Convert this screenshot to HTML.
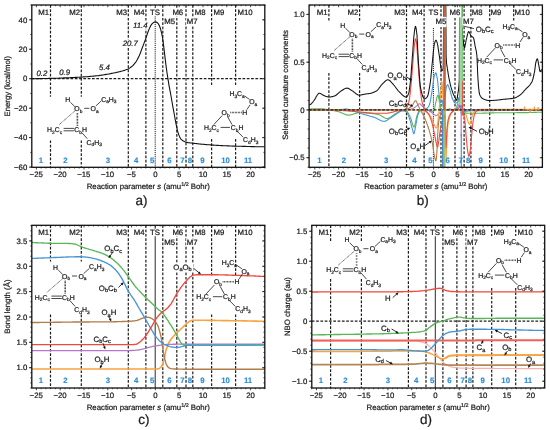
<!DOCTYPE html>
<html><head><meta charset="utf-8"><title>Figure</title><style>html,body{margin:0;padding:0;background:#fff}svg{display:block}</style></head><body>
<svg width="550" height="430" viewBox="0 0 550 430" font-family="'Liberation Sans', Arial, sans-serif">
<style>text{text-rendering:geometricPrecision;stroke:#1a1a1a;stroke-width:0.22px;paint-order:stroke}text.ph{stroke:#2b8dd6;stroke-width:0.15px}</style>
<rect width="550" height="430" fill="#fff"/>
<clipPath id="clipa"><rect x="31.8" y="5" width="233" height="162.3"/></clipPath>
<line x1="50.5" y1="5" x2="50.5" y2="96.7" stroke="#1c1c1c" stroke-width="1.2" stroke-dasharray="2.7 1.6"/>
<line x1="50.5" y1="140.4" x2="50.5" y2="167.3" stroke="#1c1c1c" stroke-width="1.2" stroke-dasharray="2.7 1.6"/>
<line x1="81.3" y1="5" x2="81.3" y2="96.7" stroke="#1c1c1c" stroke-width="1.2" stroke-dasharray="2.7 1.6"/>
<line x1="81.3" y1="140.4" x2="81.3" y2="167.3" stroke="#1c1c1c" stroke-width="1.2" stroke-dasharray="2.7 1.6"/>
<line x1="128.3" y1="5" x2="128.3" y2="167.3" stroke="#1c1c1c" stroke-width="1.2" stroke-dasharray="2.7 1.6"/>
<line x1="145.9" y1="5" x2="145.9" y2="167.3" stroke="#1c1c1c" stroke-width="1.2" stroke-dasharray="2.7 1.6"/>
<line x1="155.2" y1="5" x2="155.2" y2="167.3" stroke="#111" stroke-width="1.0" stroke-dasharray="1.1 1.0"/>
<line x1="162.8" y1="5" x2="162.8" y2="167.3" stroke="#1c1c1c" stroke-width="1.2" stroke-dasharray="2.7 1.6"/>
<line x1="176.8" y1="5" x2="176.8" y2="167.3" stroke="#1c1c1c" stroke-width="1.2" stroke-dasharray="2.7 1.6"/>
<line x1="186" y1="5" x2="186" y2="167.3" stroke="#1c1c1c" stroke-width="1.2" stroke-dasharray="2.7 1.6"/>
<line x1="192.8" y1="5" x2="192.8" y2="167.3" stroke="#1c1c1c" stroke-width="1.2" stroke-dasharray="2.7 1.6"/>
<line x1="211.6" y1="5" x2="211.6" y2="85.7" stroke="#1c1c1c" stroke-width="1.2" stroke-dasharray="2.7 1.6"/>
<line x1="211.6" y1="139" x2="211.6" y2="167.3" stroke="#1c1c1c" stroke-width="1.2" stroke-dasharray="2.7 1.6"/>
<line x1="235.6" y1="5" x2="235.6" y2="85.7" stroke="#1c1c1c" stroke-width="1.2" stroke-dasharray="2.7 1.6"/>
<line x1="235.6" y1="139" x2="235.6" y2="167.3" stroke="#1c1c1c" stroke-width="1.2" stroke-dasharray="2.7 1.6"/>
<line x1="31.8" y1="78.7" x2="264.8" y2="78.7" stroke="#1c1c1c" stroke-width="1.2" stroke-dasharray="2.7 1.6"/>
<rect x="122.2" y="39.6" width="16.4" height="7.6" fill="#fff"/>
<rect x="132.4" y="21.2" width="14.6" height="7.6" fill="#fff"/>
<path d="M31.6 78.7 L32.7 78.7 L33.8 78.7 L34.8 78.7 L35.9 78.6 L37 78.6 L38 78.6 L39.1 78.6 L40.2 78.6 L41.2 78.6 L42.3 78.5 L43.4 78.5 L44.4 78.5 L45.5 78.5 L46.6 78.5 L47.6 78.5 L48.7 78.4 L49.7 78.4 L50.8 78.4 L51.9 78.4 L52.9 78.3 L54 78.3 L55.1 78.3 L56.1 78.2 L57.2 78.2 L58.3 78.2 L59.3 78.1 L60.4 78.1 L61.5 78 L62.5 78 L63.6 77.9 L64.7 77.9 L65.7 77.9 L66.8 77.8 L67.9 77.8 L68.9 77.7 L70 77.7 L71 77.6 L72.1 77.6 L73.2 77.5 L74.2 77.5 L75.3 77.4 L76.4 77.4 L77.4 77.3 L78.5 77.2 L79.6 77.2 L80.6 77.1 L81.7 77.1 L82.8 77 L83.8 76.9 L84.9 76.8 L86 76.8 L87 76.7 L88.1 76.6 L89.2 76.5 L90.2 76.4 L91.3 76.3 L92.3 76.2 L93.4 76.1 L94.5 76 L95.5 75.9 L96.6 75.8 L97.7 75.7 L98.7 75.6 L99.8 75.4 L100.9 75.3 L101.9 75.1 L103 75 L104.1 74.8 L105.1 74.6 L106.2 74.4 L107.3 74.2 L108.3 74 L109.4 73.9 L110.5 73.7 L111.5 73.4 L112.6 73.2 L113.6 73 L114.7 72.8 L115.8 72.6 L116.8 72.3 L117.9 72.1 L119 71.8 L120 71.6 L121.1 71.3 L122.2 71 L123.2 70.7 L124.3 70.4 L125.4 70 L126.4 69.6 L127.5 69.2 L128.6 68.7 L129.6 68.1 L130.7 67.3 L131.8 66.5 L132.8 65.6 L133.9 64.5 L134.9 63.2 L136 61.8 L137.1 60 L138.1 57.9 L139.2 55.7 L140.3 53.2 L141.3 50.4 L142.4 47.5 L143.5 44.6 L144.5 41.9 L145.6 39.1 L146.7 35.9 L147.7 32.8 L148.8 29.9 L149.9 27.4 L150.9 25.3 L152 23.9 L153.1 22.9 L154.1 22.2 L155.2 21.8 L156.2 22 L157.3 22.7 L158.4 23.9 L159.4 25.8 L160.5 28.8 L161.6 32.9 L162.6 38 L163.7 46.2 L164.8 55.6 L165.8 64 L166.9 72 L168 79.1 L169 85.4 L170.1 91.1 L171.2 97 L172.2 103 L173.3 109.1 L174.4 115 L175.4 120.6 L176.5 126.1 L177.5 130.9 L178.6 134.4 L179.7 136.9 L180.7 138.8 L181.8 139.9 L182.9 140.7 L183.9 141.3 L185 141.8 L186.1 142.1 L187.1 142.4 L188.2 142.6 L189.3 142.7 L190.3 142.9 L191.4 143 L192.5 143.1 L193.5 143.2 L194.6 143.4 L195.7 143.5 L196.7 143.6 L197.8 143.7 L198.8 143.9 L199.9 144 L201 144.1 L202 144.2 L203.1 144.3 L204.2 144.4 L205.2 144.5 L206.3 144.6 L207.4 144.7 L208.4 144.7 L209.5 144.8 L210.6 144.9 L211.6 145 L212.7 145.1 L213.8 145.1 L214.8 145.2 L215.9 145.3 L217 145.4 L218 145.4 L219.1 145.5 L220.1 145.5 L221.2 145.6 L222.3 145.6 L223.3 145.7 L224.4 145.7 L225.5 145.8 L226.5 145.8 L227.6 145.9 L228.7 145.9 L229.7 146 L230.8 146 L231.9 146 L232.9 146.1 L234 146.1 L235.1 146.2 L236.1 146.2 L237.2 146.2 L238.3 146.3 L239.3 146.3 L240.4 146.3 L241.4 146.3 L242.5 146.4 L243.6 146.4 L244.6 146.4 L245.7 146.4 L246.8 146.5 L247.8 146.5 L248.9 146.5 L250 146.5 L251 146.6 L252.1 146.6 L253.2 146.6 L254.2 146.6 L255.3 146.7 L256.4 146.7 L257.4 146.7 L258.5 146.7 L259.6 146.7 L260.6 146.7 L261.7 146.7 L262.7 146.8 L263.8 146.8 L264.9 146.8" fill="none" stroke="#111" stroke-width="1.1" stroke-linejoin="round" clip-path="url(#clipa)" />
<text x="49.2" y="14.6" font-size="7.8" text-anchor="end" fill="#1a1a1a" >M1</text>
<text x="80" y="14.6" font-size="7.8" text-anchor="end" fill="#1a1a1a" >M2</text>
<text x="127" y="14.6" font-size="7.8" text-anchor="end" fill="#1a1a1a" >M3</text>
<text x="144.6" y="14.6" font-size="7.8" text-anchor="end" fill="#1a1a1a" >M4</text>
<rect x="149.7" y="8.4" width="10.4" height="7.6" fill="#fff"/>
<text x="154.9" y="14.6" font-size="7.8" text-anchor="middle" fill="#1a1a1a" >TS</text>
<text x="164.2" y="24.3" font-size="7.8" text-anchor="start" fill="#1a1a1a" >M5</text>
<rect x="171.7" y="8.4" width="12.2" height="7.6" fill="#fff"/>
<text x="177.8" y="14.6" font-size="7.8" text-anchor="middle" fill="#1a1a1a" >M6</text>
<rect x="186.2" y="18.1" width="12.2" height="7.6" fill="#fff"/>
<text x="186.8" y="24.3" font-size="7.8" text-anchor="start" fill="#1a1a1a" >M7</text>
<text x="194.7" y="14.6" font-size="7.8" text-anchor="start" fill="#1a1a1a" >M8</text>
<text x="213.5" y="14.6" font-size="7.8" text-anchor="start" fill="#1a1a1a" >M9</text>
<text x="237.5" y="14.6" font-size="7.8" text-anchor="start" fill="#1a1a1a" >M10</text>
<text x="36.4" y="76.2" font-size="7.8" text-anchor="start" fill="#1a1a1a" font-style="italic">0.2</text>
<text x="59.2" y="74.9" font-size="7.8" text-anchor="start" fill="#1a1a1a" font-style="italic">0.9</text>
<text x="99.1" y="70.3" font-size="7.8" text-anchor="start" fill="#1a1a1a" font-style="italic">5.4</text>
<text x="122.7" y="46" font-size="7.8" text-anchor="start" fill="#1a1a1a" font-style="italic">20.7</text>
<text x="133" y="27.6" font-size="7.8" text-anchor="start" fill="#1a1a1a" font-style="italic">11.4</text>
<g transform="translate(0,0)">
<text x="65.3" y="102.1" font-size="6.9" text-anchor="start" fill="#1a1a1a"><tspan dy="0">H</tspan></text>
<text x="74.3" y="111" font-size="6.9" text-anchor="start" fill="#1a1a1a"><tspan dy="0">O</tspan><tspan font-size="4.8" dy="1.6">b</tspan></text>
<text x="90.6" y="111" font-size="6.9" text-anchor="start" fill="#1a1a1a"><tspan dy="0">O</tspan><tspan font-size="4.8" dy="1.6">a</tspan></text>
<text x="101.2" y="101.5" font-size="6.9" text-anchor="start" fill="#1a1a1a"><tspan dy="0">C</tspan><tspan font-size="4.8" dy="1.6">a</tspan><tspan dy="-1.6">H</tspan><tspan font-size="4.8" dy="1.6">3</tspan></text>
<text x="47" y="132.1" font-size="6.9" text-anchor="start" fill="#1a1a1a"><tspan dy="0">H</tspan><tspan font-size="4.8" dy="1.6">2</tspan><tspan dy="-1.6">C</tspan><tspan font-size="4.8" dy="1.6">c</tspan></text>
<text x="74.3" y="132.1" font-size="6.9" text-anchor="start" fill="#1a1a1a"><tspan dy="0">C</tspan><tspan font-size="4.8" dy="1.6">b</tspan><tspan dy="-1.6">H</tspan></text>
<text x="86.5" y="144.7" font-size="6.9" text-anchor="start" fill="#1a1a1a"><tspan dy="0">C</tspan><tspan font-size="4.8" dy="1.6">d</tspan><tspan dy="-1.6">H</tspan><tspan font-size="4.8" dy="1.6">3</tspan></text>
<line x1="70.4" y1="102.3" x2="74.9" y2="106.7" stroke="#1a1a1a" stroke-width="0.8" />
<line x1="84.2" y1="108.3" x2="89.3" y2="108.3" stroke="#1a1a1a" stroke-width="0.8" />
<line x1="95.8" y1="106" x2="101.2" y2="101" stroke="#1a1a1a" stroke-width="0.8" />
<line x1="74.9" y1="110.9" x2="59" y2="124.8" stroke="#222" stroke-width="0.9" stroke-dasharray="0.9 0.8"/>
<line x1="77.4" y1="113" x2="77.4" y2="126.3" stroke="#1a1a1a" stroke-width="1.6" stroke-dasharray="0.7 0.8"/>
<line x1="63.6" y1="128.4" x2="74" y2="128.4" stroke="#1a1a1a" stroke-width="0.8" />
<line x1="63.6" y1="130.8" x2="74" y2="130.8" stroke="#1a1a1a" stroke-width="0.8" />
<line x1="81.8" y1="132.6" x2="87.3" y2="138.7" stroke="#1a1a1a" stroke-width="0.8" />
</g>
<g transform="translate(0,0)">
<text x="229.4" y="96.2" font-size="6.9" text-anchor="start" fill="#1a1a1a"><tspan dy="0">H</tspan><tspan font-size="4.8" dy="1.6">3</tspan><tspan dy="-1.6">C</tspan><tspan font-size="4.8" dy="1.6">a</tspan></text>
<text x="249.2" y="104.4" font-size="6.9" text-anchor="start" fill="#1a1a1a"><tspan dy="0">O</tspan><tspan font-size="4.8" dy="1.6">a</tspan></text>
<text x="242.2" y="115" font-size="6.9" text-anchor="start" fill="#1a1a1a"><tspan dy="0">H</tspan></text>
<text x="221.6" y="115.2" font-size="6.9" text-anchor="start" fill="#1a1a1a"><tspan dy="0">O</tspan><tspan font-size="4.8" dy="1.6">b</tspan></text>
<text x="203.9" y="130" font-size="6.9" text-anchor="start" fill="#1a1a1a"><tspan dy="0">H</tspan><tspan font-size="4.8" dy="1.6">2</tspan><tspan dy="-1.6">C</tspan><tspan font-size="4.8" dy="1.6">c</tspan></text>
<text x="230.8" y="130" font-size="6.9" text-anchor="start" fill="#1a1a1a"><tspan dy="0">C</tspan><tspan font-size="4.8" dy="1.6">b</tspan><tspan dy="-1.6">H</tspan></text>
<text x="243" y="141.9" font-size="6.9" text-anchor="start" fill="#1a1a1a"><tspan dy="0">C</tspan><tspan font-size="4.8" dy="1.6">d</tspan><tspan dy="-1.6">H</tspan><tspan font-size="4.8" dy="1.6">3</tspan></text>
<line x1="244.6" y1="96" x2="249.6" y2="99.5" stroke="#1a1a1a" stroke-width="0.8" />
<line x1="250.1" y1="104.8" x2="246.9" y2="109.6" stroke="#1a1a1a" stroke-width="0.8" />
<line x1="230.4" y1="112.5" x2="241.8" y2="112.5" stroke="#1a1a1a" stroke-width="1.5" stroke-dasharray="0.7 0.8"/>
<line x1="222.2" y1="115.6" x2="213.8" y2="124.6" stroke="#1a1a1a" stroke-width="0.8" />
<line x1="227.8" y1="117" x2="232" y2="124.6" stroke="#1a1a1a" stroke-width="0.8" />
<line x1="220.6" y1="127.4" x2="230" y2="127.4" stroke="#1a1a1a" stroke-width="0.8" />
<line x1="236.8" y1="130.9" x2="243.1" y2="137.2" stroke="#1a1a1a" stroke-width="0.8" />
</g>
<text x="40.9" y="162.5" font-size="7.8" text-anchor="middle" fill="#2b8dd6" font-weight="bold" class="ph">1</text>
<text x="65.4" y="162.5" font-size="7.8" text-anchor="middle" fill="#2b8dd6" font-weight="bold" class="ph">2</text>
<text x="107.8" y="162.5" font-size="7.8" text-anchor="middle" fill="#2b8dd6" font-weight="bold" class="ph">3</text>
<text x="136.1" y="162.5" font-size="7.8" text-anchor="middle" fill="#2b8dd6" font-weight="bold" class="ph">4</text>
<text x="152.1" y="162.5" font-size="7.8" text-anchor="middle" fill="#2b8dd6" font-weight="bold" class="ph">5</text>
<text x="169.4" y="162.5" font-size="7.8" text-anchor="middle" fill="#2b8dd6" font-weight="bold" class="ph">6</text>
<text x="182.5" y="162.5" font-size="7.8" text-anchor="middle" fill="#2b8dd6" font-weight="bold" class="ph">7</text>
<text x="189.9" y="162.5" font-size="7.8" text-anchor="middle" fill="#2b8dd6" font-weight="bold" class="ph">8</text>
<text x="202.5" y="162.5" font-size="7.8" text-anchor="middle" fill="#2b8dd6" font-weight="bold" class="ph">9</text>
<text x="225.6" y="162.5" font-size="7.8" text-anchor="middle" fill="#2b8dd6" font-weight="bold" class="ph">10</text>
<text x="248" y="162.5" font-size="7.8" text-anchor="middle" fill="#2b8dd6" font-weight="bold" class="ph">11</text>
<line x1="36.4" y1="167.3" x2="36.4" y2="169.5" stroke="#1a1a1a" stroke-width="0.8" />
<line x1="36.4" y1="5" x2="36.4" y2="7.2" stroke="#1a1a1a" stroke-width="0.8" />
<text x="36.2" y="177.3" font-size="7.8" text-anchor="middle" fill="#1a1a1a" >−25</text>
<line x1="41.2" y1="167.3" x2="41.2" y2="168.5" stroke="#1a1a1a" stroke-width="0.8" />
<line x1="41.2" y1="5" x2="41.2" y2="6.2" stroke="#1a1a1a" stroke-width="0.8" />
<line x1="45.9" y1="167.3" x2="45.9" y2="168.5" stroke="#1a1a1a" stroke-width="0.8" />
<line x1="45.9" y1="5" x2="45.9" y2="6.2" stroke="#1a1a1a" stroke-width="0.8" />
<line x1="50.7" y1="167.3" x2="50.7" y2="168.5" stroke="#1a1a1a" stroke-width="0.8" />
<line x1="50.7" y1="5" x2="50.7" y2="6.2" stroke="#1a1a1a" stroke-width="0.8" />
<line x1="55.4" y1="167.3" x2="55.4" y2="168.5" stroke="#1a1a1a" stroke-width="0.8" />
<line x1="55.4" y1="5" x2="55.4" y2="6.2" stroke="#1a1a1a" stroke-width="0.8" />
<line x1="60.2" y1="167.3" x2="60.2" y2="169.5" stroke="#1a1a1a" stroke-width="0.8" />
<line x1="60.2" y1="5" x2="60.2" y2="7.2" stroke="#1a1a1a" stroke-width="0.8" />
<text x="60" y="177.3" font-size="7.8" text-anchor="middle" fill="#1a1a1a" >−20</text>
<line x1="65" y1="167.3" x2="65" y2="168.5" stroke="#1a1a1a" stroke-width="0.8" />
<line x1="65" y1="5" x2="65" y2="6.2" stroke="#1a1a1a" stroke-width="0.8" />
<line x1="69.7" y1="167.3" x2="69.7" y2="168.5" stroke="#1a1a1a" stroke-width="0.8" />
<line x1="69.7" y1="5" x2="69.7" y2="6.2" stroke="#1a1a1a" stroke-width="0.8" />
<line x1="74.5" y1="167.3" x2="74.5" y2="168.5" stroke="#1a1a1a" stroke-width="0.8" />
<line x1="74.5" y1="5" x2="74.5" y2="6.2" stroke="#1a1a1a" stroke-width="0.8" />
<line x1="79.2" y1="167.3" x2="79.2" y2="168.5" stroke="#1a1a1a" stroke-width="0.8" />
<line x1="79.2" y1="5" x2="79.2" y2="6.2" stroke="#1a1a1a" stroke-width="0.8" />
<line x1="84" y1="167.3" x2="84" y2="169.5" stroke="#1a1a1a" stroke-width="0.8" />
<line x1="84" y1="5" x2="84" y2="7.2" stroke="#1a1a1a" stroke-width="0.8" />
<text x="83.8" y="177.3" font-size="7.8" text-anchor="middle" fill="#1a1a1a" >−15</text>
<line x1="88.8" y1="167.3" x2="88.8" y2="168.5" stroke="#1a1a1a" stroke-width="0.8" />
<line x1="88.8" y1="5" x2="88.8" y2="6.2" stroke="#1a1a1a" stroke-width="0.8" />
<line x1="93.5" y1="167.3" x2="93.5" y2="168.5" stroke="#1a1a1a" stroke-width="0.8" />
<line x1="93.5" y1="5" x2="93.5" y2="6.2" stroke="#1a1a1a" stroke-width="0.8" />
<line x1="98.3" y1="167.3" x2="98.3" y2="168.5" stroke="#1a1a1a" stroke-width="0.8" />
<line x1="98.3" y1="5" x2="98.3" y2="6.2" stroke="#1a1a1a" stroke-width="0.8" />
<line x1="103" y1="167.3" x2="103" y2="168.5" stroke="#1a1a1a" stroke-width="0.8" />
<line x1="103" y1="5" x2="103" y2="6.2" stroke="#1a1a1a" stroke-width="0.8" />
<line x1="107.8" y1="167.3" x2="107.8" y2="169.5" stroke="#1a1a1a" stroke-width="0.8" />
<line x1="107.8" y1="5" x2="107.8" y2="7.2" stroke="#1a1a1a" stroke-width="0.8" />
<text x="107.6" y="177.3" font-size="7.8" text-anchor="middle" fill="#1a1a1a" >−10</text>
<line x1="112.6" y1="167.3" x2="112.6" y2="168.5" stroke="#1a1a1a" stroke-width="0.8" />
<line x1="112.6" y1="5" x2="112.6" y2="6.2" stroke="#1a1a1a" stroke-width="0.8" />
<line x1="117.3" y1="167.3" x2="117.3" y2="168.5" stroke="#1a1a1a" stroke-width="0.8" />
<line x1="117.3" y1="5" x2="117.3" y2="6.2" stroke="#1a1a1a" stroke-width="0.8" />
<line x1="122.1" y1="167.3" x2="122.1" y2="168.5" stroke="#1a1a1a" stroke-width="0.8" />
<line x1="122.1" y1="5" x2="122.1" y2="6.2" stroke="#1a1a1a" stroke-width="0.8" />
<line x1="126.8" y1="167.3" x2="126.8" y2="168.5" stroke="#1a1a1a" stroke-width="0.8" />
<line x1="126.8" y1="5" x2="126.8" y2="6.2" stroke="#1a1a1a" stroke-width="0.8" />
<line x1="131.6" y1="167.3" x2="131.6" y2="169.5" stroke="#1a1a1a" stroke-width="0.8" />
<line x1="131.6" y1="5" x2="131.6" y2="7.2" stroke="#1a1a1a" stroke-width="0.8" />
<text x="131.4" y="177.3" font-size="7.8" text-anchor="middle" fill="#1a1a1a" >−5</text>
<line x1="136.4" y1="167.3" x2="136.4" y2="168.5" stroke="#1a1a1a" stroke-width="0.8" />
<line x1="136.4" y1="5" x2="136.4" y2="6.2" stroke="#1a1a1a" stroke-width="0.8" />
<line x1="141.1" y1="167.3" x2="141.1" y2="168.5" stroke="#1a1a1a" stroke-width="0.8" />
<line x1="141.1" y1="5" x2="141.1" y2="6.2" stroke="#1a1a1a" stroke-width="0.8" />
<line x1="145.9" y1="167.3" x2="145.9" y2="168.5" stroke="#1a1a1a" stroke-width="0.8" />
<line x1="145.9" y1="5" x2="145.9" y2="6.2" stroke="#1a1a1a" stroke-width="0.8" />
<line x1="150.6" y1="167.3" x2="150.6" y2="168.5" stroke="#1a1a1a" stroke-width="0.8" />
<line x1="150.6" y1="5" x2="150.6" y2="6.2" stroke="#1a1a1a" stroke-width="0.8" />
<line x1="155.4" y1="167.3" x2="155.4" y2="169.5" stroke="#1a1a1a" stroke-width="0.8" />
<line x1="155.4" y1="5" x2="155.4" y2="7.2" stroke="#1a1a1a" stroke-width="0.8" />
<text x="155.4" y="177.3" font-size="7.8" text-anchor="middle" fill="#1a1a1a" >0</text>
<line x1="160.2" y1="167.3" x2="160.2" y2="168.5" stroke="#1a1a1a" stroke-width="0.8" />
<line x1="160.2" y1="5" x2="160.2" y2="6.2" stroke="#1a1a1a" stroke-width="0.8" />
<line x1="164.9" y1="167.3" x2="164.9" y2="168.5" stroke="#1a1a1a" stroke-width="0.8" />
<line x1="164.9" y1="5" x2="164.9" y2="6.2" stroke="#1a1a1a" stroke-width="0.8" />
<line x1="169.7" y1="167.3" x2="169.7" y2="168.5" stroke="#1a1a1a" stroke-width="0.8" />
<line x1="169.7" y1="5" x2="169.7" y2="6.2" stroke="#1a1a1a" stroke-width="0.8" />
<line x1="174.4" y1="167.3" x2="174.4" y2="168.5" stroke="#1a1a1a" stroke-width="0.8" />
<line x1="174.4" y1="5" x2="174.4" y2="6.2" stroke="#1a1a1a" stroke-width="0.8" />
<line x1="179.2" y1="167.3" x2="179.2" y2="169.5" stroke="#1a1a1a" stroke-width="0.8" />
<line x1="179.2" y1="5" x2="179.2" y2="7.2" stroke="#1a1a1a" stroke-width="0.8" />
<text x="179.2" y="177.3" font-size="7.8" text-anchor="middle" fill="#1a1a1a" >5</text>
<line x1="184" y1="167.3" x2="184" y2="168.5" stroke="#1a1a1a" stroke-width="0.8" />
<line x1="184" y1="5" x2="184" y2="6.2" stroke="#1a1a1a" stroke-width="0.8" />
<line x1="188.7" y1="167.3" x2="188.7" y2="168.5" stroke="#1a1a1a" stroke-width="0.8" />
<line x1="188.7" y1="5" x2="188.7" y2="6.2" stroke="#1a1a1a" stroke-width="0.8" />
<line x1="193.5" y1="167.3" x2="193.5" y2="168.5" stroke="#1a1a1a" stroke-width="0.8" />
<line x1="193.5" y1="5" x2="193.5" y2="6.2" stroke="#1a1a1a" stroke-width="0.8" />
<line x1="198.2" y1="167.3" x2="198.2" y2="168.5" stroke="#1a1a1a" stroke-width="0.8" />
<line x1="198.2" y1="5" x2="198.2" y2="6.2" stroke="#1a1a1a" stroke-width="0.8" />
<line x1="203" y1="167.3" x2="203" y2="169.5" stroke="#1a1a1a" stroke-width="0.8" />
<line x1="203" y1="5" x2="203" y2="7.2" stroke="#1a1a1a" stroke-width="0.8" />
<text x="203" y="177.3" font-size="7.8" text-anchor="middle" fill="#1a1a1a" >10</text>
<line x1="207.8" y1="167.3" x2="207.8" y2="168.5" stroke="#1a1a1a" stroke-width="0.8" />
<line x1="207.8" y1="5" x2="207.8" y2="6.2" stroke="#1a1a1a" stroke-width="0.8" />
<line x1="212.5" y1="167.3" x2="212.5" y2="168.5" stroke="#1a1a1a" stroke-width="0.8" />
<line x1="212.5" y1="5" x2="212.5" y2="6.2" stroke="#1a1a1a" stroke-width="0.8" />
<line x1="217.3" y1="167.3" x2="217.3" y2="168.5" stroke="#1a1a1a" stroke-width="0.8" />
<line x1="217.3" y1="5" x2="217.3" y2="6.2" stroke="#1a1a1a" stroke-width="0.8" />
<line x1="222" y1="167.3" x2="222" y2="168.5" stroke="#1a1a1a" stroke-width="0.8" />
<line x1="222" y1="5" x2="222" y2="6.2" stroke="#1a1a1a" stroke-width="0.8" />
<line x1="226.8" y1="167.3" x2="226.8" y2="169.5" stroke="#1a1a1a" stroke-width="0.8" />
<line x1="226.8" y1="5" x2="226.8" y2="7.2" stroke="#1a1a1a" stroke-width="0.8" />
<text x="226.8" y="177.3" font-size="7.8" text-anchor="middle" fill="#1a1a1a" >15</text>
<line x1="231.6" y1="167.3" x2="231.6" y2="168.5" stroke="#1a1a1a" stroke-width="0.8" />
<line x1="231.6" y1="5" x2="231.6" y2="6.2" stroke="#1a1a1a" stroke-width="0.8" />
<line x1="236.3" y1="167.3" x2="236.3" y2="168.5" stroke="#1a1a1a" stroke-width="0.8" />
<line x1="236.3" y1="5" x2="236.3" y2="6.2" stroke="#1a1a1a" stroke-width="0.8" />
<line x1="241.1" y1="167.3" x2="241.1" y2="168.5" stroke="#1a1a1a" stroke-width="0.8" />
<line x1="241.1" y1="5" x2="241.1" y2="6.2" stroke="#1a1a1a" stroke-width="0.8" />
<line x1="245.8" y1="167.3" x2="245.8" y2="168.5" stroke="#1a1a1a" stroke-width="0.8" />
<line x1="245.8" y1="5" x2="245.8" y2="6.2" stroke="#1a1a1a" stroke-width="0.8" />
<line x1="250.6" y1="167.3" x2="250.6" y2="169.5" stroke="#1a1a1a" stroke-width="0.8" />
<line x1="250.6" y1="5" x2="250.6" y2="7.2" stroke="#1a1a1a" stroke-width="0.8" />
<text x="250.6" y="177.3" font-size="7.8" text-anchor="middle" fill="#1a1a1a" >20</text>
<line x1="255.4" y1="167.3" x2="255.4" y2="168.5" stroke="#1a1a1a" stroke-width="0.8" />
<line x1="255.4" y1="5" x2="255.4" y2="6.2" stroke="#1a1a1a" stroke-width="0.8" />
<line x1="260.1" y1="167.3" x2="260.1" y2="168.5" stroke="#1a1a1a" stroke-width="0.8" />
<line x1="260.1" y1="5" x2="260.1" y2="6.2" stroke="#1a1a1a" stroke-width="0.8" />
<line x1="264.9" y1="167.3" x2="264.9" y2="168.5" stroke="#1a1a1a" stroke-width="0.8" />
<line x1="264.9" y1="5" x2="264.9" y2="6.2" stroke="#1a1a1a" stroke-width="0.8" />
<line x1="31.8" y1="167.1" x2="30.3" y2="167.1" stroke="#1a1a1a" stroke-width="0.8" />
<line x1="264.8" y1="167.1" x2="263.4" y2="167.1" stroke="#1a1a1a" stroke-width="0.8" />
<line x1="31.8" y1="152.4" x2="30.3" y2="152.4" stroke="#1a1a1a" stroke-width="0.8" />
<line x1="264.8" y1="152.4" x2="263.4" y2="152.4" stroke="#1a1a1a" stroke-width="0.8" />
<line x1="31.8" y1="137.6" x2="30.3" y2="137.6" stroke="#1a1a1a" stroke-width="0.8" />
<line x1="264.8" y1="137.6" x2="263.4" y2="137.6" stroke="#1a1a1a" stroke-width="0.8" />
<line x1="31.8" y1="122.9" x2="30.3" y2="122.9" stroke="#1a1a1a" stroke-width="0.8" />
<line x1="264.8" y1="122.9" x2="263.4" y2="122.9" stroke="#1a1a1a" stroke-width="0.8" />
<line x1="31.8" y1="108.2" x2="30.3" y2="108.2" stroke="#1a1a1a" stroke-width="0.8" />
<line x1="264.8" y1="108.2" x2="263.4" y2="108.2" stroke="#1a1a1a" stroke-width="0.8" />
<line x1="31.8" y1="93.4" x2="30.3" y2="93.4" stroke="#1a1a1a" stroke-width="0.8" />
<line x1="264.8" y1="93.4" x2="263.4" y2="93.4" stroke="#1a1a1a" stroke-width="0.8" />
<line x1="31.8" y1="78.7" x2="30.3" y2="78.7" stroke="#1a1a1a" stroke-width="0.8" />
<line x1="264.8" y1="78.7" x2="263.4" y2="78.7" stroke="#1a1a1a" stroke-width="0.8" />
<line x1="31.8" y1="64" x2="30.3" y2="64" stroke="#1a1a1a" stroke-width="0.8" />
<line x1="264.8" y1="64" x2="263.4" y2="64" stroke="#1a1a1a" stroke-width="0.8" />
<line x1="31.8" y1="49.2" x2="30.3" y2="49.2" stroke="#1a1a1a" stroke-width="0.8" />
<line x1="264.8" y1="49.2" x2="263.4" y2="49.2" stroke="#1a1a1a" stroke-width="0.8" />
<line x1="31.8" y1="34.5" x2="30.3" y2="34.5" stroke="#1a1a1a" stroke-width="0.8" />
<line x1="264.8" y1="34.5" x2="263.4" y2="34.5" stroke="#1a1a1a" stroke-width="0.8" />
<line x1="31.8" y1="19.8" x2="30.3" y2="19.8" stroke="#1a1a1a" stroke-width="0.8" />
<line x1="264.8" y1="19.8" x2="263.4" y2="19.8" stroke="#1a1a1a" stroke-width="0.8" />
<line x1="31.8" y1="5" x2="30.3" y2="5" stroke="#1a1a1a" stroke-width="0.8" />
<line x1="264.8" y1="5" x2="263.4" y2="5" stroke="#1a1a1a" stroke-width="0.8" />
<line x1="31.8" y1="167.1" x2="29" y2="167.1" stroke="#1a1a1a" stroke-width="0.9" />
<line x1="264.8" y1="167.1" x2="262.2" y2="167.1" stroke="#1a1a1a" stroke-width="0.9" />
<text x="27.3" y="169.8" font-size="7.8" text-anchor="end" fill="#1a1a1a" >−60</text>
<line x1="31.8" y1="137.6" x2="29" y2="137.6" stroke="#1a1a1a" stroke-width="0.9" />
<line x1="264.8" y1="137.6" x2="262.2" y2="137.6" stroke="#1a1a1a" stroke-width="0.9" />
<text x="27.3" y="140.3" font-size="7.8" text-anchor="end" fill="#1a1a1a" >−40</text>
<line x1="31.8" y1="108.2" x2="29" y2="108.2" stroke="#1a1a1a" stroke-width="0.9" />
<line x1="264.8" y1="108.2" x2="262.2" y2="108.2" stroke="#1a1a1a" stroke-width="0.9" />
<text x="27.3" y="110.9" font-size="7.8" text-anchor="end" fill="#1a1a1a" >−20</text>
<line x1="31.8" y1="78.7" x2="29" y2="78.7" stroke="#1a1a1a" stroke-width="0.9" />
<line x1="264.8" y1="78.7" x2="262.2" y2="78.7" stroke="#1a1a1a" stroke-width="0.9" />
<text x="27.3" y="81.4" font-size="7.8" text-anchor="end" fill="#1a1a1a" >0</text>
<line x1="31.8" y1="49.2" x2="29" y2="49.2" stroke="#1a1a1a" stroke-width="0.9" />
<line x1="264.8" y1="49.2" x2="262.2" y2="49.2" stroke="#1a1a1a" stroke-width="0.9" />
<text x="27.3" y="51.9" font-size="7.8" text-anchor="end" fill="#1a1a1a" >20</text>
<line x1="31.8" y1="19.8" x2="29" y2="19.8" stroke="#1a1a1a" stroke-width="0.9" />
<line x1="264.8" y1="19.8" x2="262.2" y2="19.8" stroke="#1a1a1a" stroke-width="0.9" />
<text x="27.3" y="22.5" font-size="7.8" text-anchor="end" fill="#1a1a1a" >40</text>
<rect x="31.8" y="5" width="233" height="162.3" fill="none" stroke="#111" stroke-width="1.3"/>
<text x="148.3" y="189.2" font-size="7.8" text-anchor="middle" fill="#1a1a1a">Reaction parameter <tspan font-style="italic">s</tspan> (amu<tspan font-size="5.4" dy="-3">1/2</tspan><tspan dy="3"> Bohr)</tspan></text>
<text transform="translate(10,86.2) rotate(-90)" font-size="7.8" text-anchor="middle" fill="#1a1a1a">Energy (kcal/mol)</text>
<text x="141.6" y="204.5" font-size="13.5" text-anchor="middle" fill="#1a1a1a" >a)</text>
<clipPath id="clipc"><rect x="31.8" y="225.3" width="233" height="162.7"/></clipPath>
<line x1="50.5" y1="225.3" x2="50.5" y2="261.5" stroke="#1c1c1c" stroke-width="1.2" stroke-dasharray="2.7 1.6"/>
<line x1="50.5" y1="314.5" x2="50.5" y2="388" stroke="#1c1c1c" stroke-width="1.2" stroke-dasharray="2.7 1.6"/>
<line x1="81.3" y1="225.3" x2="81.3" y2="261.5" stroke="#1c1c1c" stroke-width="1.2" stroke-dasharray="2.7 1.6"/>
<line x1="81.3" y1="314.5" x2="81.3" y2="388" stroke="#1c1c1c" stroke-width="1.2" stroke-dasharray="2.7 1.6"/>
<line x1="128.3" y1="225.3" x2="128.3" y2="388" stroke="#1c1c1c" stroke-width="1.2" stroke-dasharray="2.7 1.6"/>
<line x1="145.9" y1="225.3" x2="145.9" y2="388" stroke="#1c1c1c" stroke-width="1.2" stroke-dasharray="2.7 1.6"/>
<line x1="155.2" y1="225.3" x2="155.2" y2="388" stroke="#111" stroke-width="0.9" />
<line x1="162.8" y1="225.3" x2="162.8" y2="388" stroke="#1c1c1c" stroke-width="1.2" stroke-dasharray="2.7 1.6"/>
<line x1="176.8" y1="225.3" x2="176.8" y2="388" stroke="#1c1c1c" stroke-width="1.2" stroke-dasharray="2.7 1.6"/>
<line x1="186" y1="225.3" x2="186" y2="388" stroke="#1c1c1c" stroke-width="1.2" stroke-dasharray="2.7 1.6"/>
<line x1="192.8" y1="225.3" x2="192.8" y2="388" stroke="#1c1c1c" stroke-width="1.2" stroke-dasharray="2.7 1.6"/>
<line x1="211.6" y1="225.3" x2="211.6" y2="276" stroke="#1c1c1c" stroke-width="1.2" stroke-dasharray="2.7 1.6"/>
<line x1="211.6" y1="314.4" x2="211.6" y2="388" stroke="#1c1c1c" stroke-width="1.2" stroke-dasharray="2.7 1.6"/>
<line x1="235.6" y1="225.3" x2="235.6" y2="276" stroke="#1c1c1c" stroke-width="1.2" stroke-dasharray="2.7 1.6"/>
<line x1="235.6" y1="314.4" x2="235.6" y2="388" stroke="#1c1c1c" stroke-width="1.2" stroke-dasharray="2.7 1.6"/>
<path d="M31.6 369 L32.7 369 L33.8 369 L34.8 369 L35.9 369 L37 369 L38 369 L39.1 369 L40.2 369 L41.2 369 L42.3 369 L43.4 369 L44.4 369 L45.5 369 L46.6 369 L47.6 369 L48.7 369 L49.7 369 L50.8 369 L51.9 369 L52.9 369 L54 369 L55.1 369 L56.1 369 L57.2 369 L58.3 369 L59.3 369 L60.4 369 L61.5 369 L62.5 369 L63.6 369 L64.7 369 L65.7 369 L66.8 369 L67.9 369 L68.9 369 L70 369 L71 369 L72.1 369 L73.2 369 L74.2 369 L75.3 369 L76.4 369 L77.4 369 L78.5 369 L79.6 369 L80.6 369 L81.7 369 L82.8 369 L83.8 369 L84.9 369 L86 369 L87 369 L88.1 369 L89.2 369 L90.2 369 L91.3 369 L92.3 369 L93.4 369 L94.5 369 L95.5 369 L96.6 369 L97.7 369 L98.7 369 L99.8 369 L100.9 369 L101.9 369 L103 369 L104.1 369 L105.1 369 L106.2 369 L107.3 369 L108.3 369 L109.4 369 L110.5 369 L111.5 369 L112.6 369 L113.6 369 L114.7 369 L115.8 369 L116.8 369 L117.9 369 L119 369 L120 369 L121.1 369 L122.2 369 L123.2 369 L124.3 369 L125.4 369 L126.4 369 L127.5 369 L128.6 369 L129.6 369 L130.7 369 L131.8 369 L132.8 369 L133.9 369 L134.9 369 L136 369 L137.1 369 L138.1 369 L139.2 369 L140.3 369 L141.3 369 L142.4 369 L143.5 369 L144.5 369 L145.6 369 L146.7 369 L147.7 369 L148.8 369 L149.9 369 L150.9 369 L152 369 L153.1 369 L154.1 369 L155.2 369 L156.2 369 L157.3 368.9 L158.4 368.7 L159.4 368.4 L160.5 367.5 L161.6 366.2 L162.6 364.1 L163.7 360.7 L164.8 356.1 L165.8 351.1 L166.9 347.7 L168 344.9 L169 342.5 L170.1 340.5 L171.2 339 L172.2 337.7 L173.3 336.5 L174.4 335.4 L175.4 334.4 L176.5 333.3 L177.5 332.2 L178.6 331.2 L179.7 330.2 L180.7 329.2 L181.8 328.2 L182.9 327.1 L183.9 326.1 L185 325 L186.1 324.1 L187.1 323.2 L188.2 322.3 L189.3 321.5 L190.3 321 L191.4 320.5 L192.5 320.3 L193.5 320.3 L194.6 320.3 L195.7 320.3 L196.7 320.3 L197.8 320.3 L198.8 320.3 L199.9 320.3 L201 320.3 L202 320.3 L203.1 320.3 L204.2 320.3 L205.2 320.3 L206.3 320.3 L207.4 320.4 L208.4 320.4 L209.5 320.4 L210.6 320.4 L211.6 320.4 L212.7 320.4 L213.8 320.4 L214.8 320.4 L215.9 320.5 L217 320.5 L218 320.5 L219.1 320.5 L220.1 320.5 L221.2 320.5 L222.3 320.6 L223.3 320.6 L224.4 320.6 L225.5 320.6 L226.5 320.6 L227.6 320.6 L228.7 320.6 L229.7 320.7 L230.8 320.7 L231.9 320.7 L232.9 320.7 L234 320.7 L235.1 320.7 L236.1 320.8 L237.2 320.8 L238.3 320.8 L239.3 320.8 L240.4 320.8 L241.4 320.8 L242.5 320.9 L243.6 320.9 L244.6 320.9 L245.7 320.9 L246.8 320.9 L247.8 321 L248.9 321 L250 321 L251 321 L252.1 321 L253.2 321.1 L254.2 321.1 L255.3 321.1 L256.4 321.1 L257.4 321.1 L258.5 321.2 L259.6 321.2 L260.6 321.2 L261.7 321.2 L262.7 321.3 L263.8 321.3 L264.9 321.3" fill="none" stroke="#f8a440" stroke-width="1.6" stroke-linejoin="round" clip-path="url(#clipc)" />
<path d="M31.6 350.6 L32.7 350.6 L33.8 350.6 L34.8 350.6 L35.9 350.6 L37 350.6 L38 350.6 L39.1 350.6 L40.2 350.6 L41.2 350.6 L42.3 350.6 L43.4 350.6 L44.4 350.6 L45.5 350.6 L46.6 350.6 L47.6 350.6 L48.7 350.6 L49.7 350.6 L50.8 350.6 L51.9 350.6 L52.9 350.6 L54 350.6 L55.1 350.6 L56.1 350.6 L57.2 350.6 L58.3 350.6 L59.3 350.6 L60.4 350.6 L61.5 350.6 L62.5 350.6 L63.6 350.6 L64.7 350.6 L65.7 350.6 L66.8 350.6 L67.9 350.6 L68.9 350.6 L70 350.6 L71 350.6 L72.1 350.6 L73.2 350.6 L74.2 350.6 L75.3 350.6 L76.4 350.6 L77.4 350.6 L78.5 350.6 L79.6 350.6 L80.6 350.6 L81.7 350.6 L82.8 350.6 L83.8 350.6 L84.9 350.6 L86 350.6 L87 350.6 L88.1 350.6 L89.2 350.6 L90.2 350.6 L91.3 350.6 L92.3 350.6 L93.4 350.6 L94.5 350.6 L95.5 350.6 L96.6 350.6 L97.7 350.6 L98.7 350.6 L99.8 350.6 L100.9 350.6 L101.9 350.6 L103 350.6 L104.1 350.6 L105.1 350.6 L106.2 350.6 L107.3 350.6 L108.3 350.6 L109.4 350.6 L110.5 350.6 L111.5 350.6 L112.6 350.6 L113.6 350.6 L114.7 350.6 L115.8 350.6 L116.8 350.6 L117.9 350.6 L119 350.6 L120 350.6 L121.1 350.6 L122.2 350.6 L123.2 350.6 L124.3 350.6 L125.4 350.6 L126.4 350.6 L127.5 350.6 L128.6 350.6 L129.6 350.6 L130.7 350.5 L131.8 350.5 L132.8 350.4 L133.9 350.4 L134.9 350.3 L136 350.2 L137.1 350.1 L138.1 350 L139.2 349.8 L140.3 349.6 L141.3 349.4 L142.4 349.2 L143.5 348.9 L144.5 348.6 L145.6 348.3 L146.7 348 L147.7 347.7 L148.8 347.4 L149.9 347.1 L150.9 346.9 L152 346.6 L153.1 346.4 L154.1 346.2 L155.2 346 L156.2 345.9 L157.3 345.7 L158.4 345.5 L159.4 345.3 L160.5 345.2 L161.6 345 L162.6 344.9 L163.7 344.8 L164.8 344.7 L165.8 344.6 L166.9 344.5 L168 344.5 L169 344.4 L170.1 344.4 L171.2 344.3 L172.2 344.3 L173.3 344.2 L174.4 344.2 L175.4 344.2 L176.5 344.2 L177.5 344.1 L178.6 344.1 L179.7 344.1 L180.7 344.1 L181.8 344.1 L182.9 344.1 L183.9 344.1 L185 344.1 L186.1 344.1 L187.1 344.1 L188.2 344.1 L189.3 344.1 L190.3 344.1 L191.4 344.1 L192.5 344.1 L193.5 344.1 L194.6 344.1 L195.7 344.1 L196.7 344.1 L197.8 344.1 L198.8 344.1 L199.9 344.1 L201 344.1 L202 344.1 L203.1 344.1 L204.2 344.1 L205.2 344.1 L206.3 344.1 L207.4 344.1 L208.4 344.1 L209.5 344.1 L210.6 344.1 L211.6 344.1 L212.7 344.1 L213.8 344.1 L214.8 344.1 L215.9 344.1 L217 344.1 L218 344.1 L219.1 344.1 L220.1 344.1 L221.2 344.1 L222.3 344.1 L223.3 344.1 L224.4 344.1 L225.5 344.1 L226.5 344.1 L227.6 344.1 L228.7 344.1 L229.7 344.1 L230.8 344.1 L231.9 344.1 L232.9 344.1 L234 344.1 L235.1 344.1 L236.1 344.1 L237.2 344.1 L238.3 344.1 L239.3 344.1 L240.4 344.1 L241.4 344.1 L242.5 344.1 L243.6 344.1 L244.6 344.1 L245.7 344.1 L246.8 344.1 L247.8 344.1 L248.9 344.1 L250 344.1 L251 344.1 L252.1 344.1 L253.2 344.1 L254.2 344.1 L255.3 344.1 L256.4 344.1 L257.4 344.1 L258.5 344.1 L259.6 344.1 L260.6 344.1 L261.7 344.1 L262.7 344.1 L263.8 344.1 L264.9 344.1" fill="none" stroke="#b378cb" stroke-width="1.35" stroke-linejoin="round" clip-path="url(#clipc)" />
<path d="M31.6 322.6 L32.7 322.6 L33.8 322.5 L34.8 322.5 L35.9 322.5 L37 322.5 L38 322.5 L39.1 322.5 L40.2 322.4 L41.2 322.4 L42.3 322.4 L43.4 322.4 L44.4 322.4 L45.5 322.4 L46.6 322.3 L47.6 322.3 L48.7 322.3 L49.7 322.3 L50.8 322.3 L51.9 322.3 L52.9 322.3 L54 322.2 L55.1 322.2 L56.1 322.2 L57.2 322.2 L58.3 322.2 L59.3 322.2 L60.4 322.2 L61.5 322.2 L62.5 322.1 L63.6 322.1 L64.7 322.1 L65.7 322.1 L66.8 322.1 L67.9 322.1 L68.9 322.1 L70 322.1 L71 322.1 L72.1 322.1 L73.2 322 L74.2 322 L75.3 322 L76.4 322 L77.4 322 L78.5 322 L79.6 322 L80.6 322 L81.7 322 L82.8 322 L83.8 322 L84.9 322 L86 322 L87 322 L88.1 322 L89.2 322 L90.2 321.9 L91.3 321.9 L92.3 321.9 L93.4 321.9 L94.5 321.9 L95.5 321.9 L96.6 321.9 L97.7 321.9 L98.7 321.9 L99.8 321.9 L100.9 321.9 L101.9 321.9 L103 321.9 L104.1 321.9 L105.1 321.8 L106.2 321.8 L107.3 321.8 L108.3 321.8 L109.4 321.8 L110.5 321.8 L111.5 321.8 L112.6 321.8 L113.6 321.7 L114.7 321.7 L115.8 321.7 L116.8 321.7 L117.9 321.6 L119 321.6 L120 321.6 L121.1 321.6 L122.2 321.5 L123.2 321.5 L124.3 321.5 L125.4 321.4 L126.4 321.4 L127.5 321.3 L128.6 321.3 L129.6 321.2 L130.7 321.2 L131.8 321.1 L132.8 321 L133.9 320.9 L134.9 320.8 L136 320.6 L137.1 320.4 L138.1 320 L139.2 319.6 L140.3 319.1 L141.3 318.7 L142.4 318.3 L143.5 317.9 L144.5 317.6 L145.6 317.4 L146.7 317.3 L147.7 317.3 L148.8 317.4 L149.9 317.7 L150.9 318.2 L152 318.7 L153.1 319.4 L154.1 320.2 L155.2 321.3 L156.2 322.8 L157.3 324.6 L158.4 327.1 L159.4 330.4 L160.5 334.5 L161.6 339.7 L162.6 346.8 L163.7 353.7 L164.8 359.2 L165.8 363 L166.9 365.5 L168 367 L169 367.9 L170.1 368.3 L171.2 368.6 L172.2 368.8 L173.3 368.9 L174.4 369 L175.4 369 L176.5 369 L177.5 369 L178.6 369.1 L179.7 369.1 L180.7 369.1 L181.8 369.1 L182.9 369.2 L183.9 369.2 L185 369.2 L186.1 369.2 L187.1 369.2 L188.2 369.2 L189.3 369.2 L190.3 369.2 L191.4 369.2 L192.5 369.2 L193.5 369.2 L194.6 369.2 L195.7 369.2 L196.7 369.2 L197.8 369.2 L198.8 369.2 L199.9 369.2 L201 369.2 L202 369.2 L203.1 369.2 L204.2 369.2 L205.2 369.2 L206.3 369.2 L207.4 369.2 L208.4 369.2 L209.5 369.2 L210.6 369.2 L211.6 369.2 L212.7 369.2 L213.8 369.2 L214.8 369.2 L215.9 369.2 L217 369.2 L218 369.2 L219.1 369.2 L220.1 369.2 L221.2 369.2 L222.3 369.2 L223.3 369.2 L224.4 369.2 L225.5 369.2 L226.5 369.2 L227.6 369.2 L228.7 369.2 L229.7 369.2 L230.8 369.2 L231.9 369.2 L232.9 369.2 L234 369.2 L235.1 369.2 L236.1 369.2 L237.2 369.2 L238.3 369.2 L239.3 369.2 L240.4 369.2 L241.4 369.2 L242.5 369.2 L243.6 369.2 L244.6 369.2 L245.7 369.2 L246.8 369.2 L247.8 369.2 L248.9 369.2 L250 369.2 L251 369.2 L252.1 369.2 L253.2 369.2 L254.2 369.2 L255.3 369.2 L256.4 369.2 L257.4 369.2 L258.5 369.2 L259.6 369.2 L260.6 369.2 L261.7 369.2 L262.7 369.2 L263.8 369.2 L264.9 369.2" fill="none" stroke="#b07c48" stroke-width="1.35" stroke-linejoin="round" clip-path="url(#clipc)" />
<path d="M31.6 242.5 L32.7 242.5 L33.8 242.6 L34.8 242.6 L35.9 242.7 L37 242.7 L38 242.8 L39.1 242.8 L40.2 242.9 L41.2 242.9 L42.3 243 L43.4 243 L44.4 243.1 L45.5 243.1 L46.6 243.1 L47.6 243.2 L48.7 243.2 L49.7 243.2 L50.8 243.2 L51.9 243.3 L52.9 243.3 L54 243.3 L55.1 243.3 L56.1 243.3 L57.2 243.3 L58.3 243.3 L59.3 243.3 L60.4 243.3 L61.5 243.3 L62.5 243.4 L63.6 243.4 L64.7 243.4 L65.7 243.4 L66.8 243.4 L67.9 243.4 L68.9 243.5 L70 243.5 L71 243.6 L72.1 243.7 L73.2 243.8 L74.2 244 L75.3 244.2 L76.4 244.5 L77.4 245 L78.5 245.5 L79.6 246 L80.6 246.5 L81.7 246.9 L82.8 247.3 L83.8 247.6 L84.9 248 L86 248.3 L87 248.6 L88.1 248.9 L89.2 249.3 L90.2 249.6 L91.3 249.9 L92.3 250.2 L93.4 250.5 L94.5 250.9 L95.5 251.2 L96.6 251.5 L97.7 251.8 L98.7 252.1 L99.8 252.5 L100.9 252.8 L101.9 253.2 L103 253.6 L104.1 254.1 L105.1 254.6 L106.2 255.1 L107.3 255.7 L108.3 256.4 L109.4 257 L110.5 257.7 L111.5 258.4 L112.6 259.2 L113.6 260.1 L114.7 260.9 L115.8 261.9 L116.8 262.8 L117.9 263.8 L119 264.9 L120 266 L121.1 267.2 L122.2 268.4 L123.2 269.8 L124.3 271.2 L125.4 272.7 L126.4 274.2 L127.5 275.7 L128.6 277.2 L129.6 278.6 L130.7 280.1 L131.8 281.6 L132.8 283 L133.9 284.5 L134.9 285.9 L136 287.2 L137.1 288.4 L138.1 289.6 L139.2 290.8 L140.3 292 L141.3 293.1 L142.4 294.2 L143.5 295.3 L144.5 296.3 L145.6 297.4 L146.7 298.5 L147.7 299.5 L148.8 300.5 L149.9 301.5 L150.9 302.6 L152 303.6 L153.1 304.6 L154.1 305.6 L155.2 306.6 L156.2 307.6 L157.3 308.5 L158.4 309.4 L159.4 310.2 L160.5 311 L161.6 312 L162.6 313 L163.7 314.3 L164.8 315.8 L165.8 317.5 L166.9 319.1 L168 320.7 L169 322.4 L170.1 324 L171.2 325.7 L172.2 327.4 L173.3 329.2 L174.4 331 L175.4 332.8 L176.5 334.7 L177.5 336.6 L178.6 338.7 L179.7 340.6 L180.7 342.3 L181.8 343.8 L182.9 344.5 L183.9 344.9 L185 345.1 L186.1 345.1 L187.1 345.1 L188.2 345.1 L189.3 345.1 L190.3 345.1 L191.4 345.1 L192.5 345.1 L193.5 345.1 L194.6 345.1 L195.7 345.1 L196.7 345.1 L197.8 345.1 L198.8 345.1 L199.9 345.1 L201 345.1 L202 345.1 L203.1 345.1 L204.2 345.1 L205.2 345.1 L206.3 345.1 L207.4 345.1 L208.4 345.1 L209.5 345.1 L210.6 345.1 L211.6 345.1 L212.7 345.1 L213.8 345.1 L214.8 345.1 L215.9 345.1 L217 345.1 L218 345.1 L219.1 345.1 L220.1 345.1 L221.2 345.1 L222.3 345.1 L223.3 345.1 L224.4 345.1 L225.5 345.1 L226.5 345.1 L227.6 345.1 L228.7 345.1 L229.7 345.1 L230.8 345.1 L231.9 345.1 L232.9 345.1 L234 345.1 L235.1 345 L236.1 345 L237.2 345 L238.3 345 L239.3 345 L240.4 345 L241.4 345 L242.5 345 L243.6 345 L244.6 345 L245.7 345 L246.8 345 L247.8 345 L248.9 345 L250 345 L251 345 L252.1 345 L253.2 345 L254.2 345 L255.3 344.9 L256.4 344.9 L257.4 344.9 L258.5 344.9 L259.6 344.9 L260.6 344.9 L261.7 344.9 L262.7 344.9 L263.8 344.9 L264.9 344.9" fill="none" stroke="#58b658" stroke-width="1.35" stroke-linejoin="round" clip-path="url(#clipc)" />
<path d="M31.6 258.4 L32.7 258.4 L33.8 258.4 L34.8 258.3 L35.9 258.3 L37 258.2 L38 258.2 L39.1 258.1 L40.2 258.1 L41.2 258.1 L42.3 258 L43.4 258 L44.4 257.9 L45.5 257.9 L46.6 257.8 L47.6 257.8 L48.7 257.8 L49.7 257.7 L50.8 257.7 L51.9 257.6 L52.9 257.6 L54 257.5 L55.1 257.5 L56.1 257.5 L57.2 257.4 L58.3 257.4 L59.3 257.3 L60.4 257.3 L61.5 257.2 L62.5 257.2 L63.6 257.1 L64.7 257.1 L65.7 257.1 L66.8 257 L67.9 257 L68.9 256.9 L70 256.9 L71 256.9 L72.1 256.8 L73.2 256.8 L74.2 256.8 L75.3 256.7 L76.4 256.7 L77.4 256.7 L78.5 256.7 L79.6 256.7 L80.6 256.7 L81.7 256.7 L82.8 256.8 L83.8 256.9 L84.9 257 L86 257.1 L87 257.2 L88.1 257.3 L89.2 257.5 L90.2 257.6 L91.3 257.8 L92.3 258.1 L93.4 258.3 L94.5 258.6 L95.5 258.9 L96.6 259.2 L97.7 259.5 L98.7 259.8 L99.8 260.2 L100.9 260.6 L101.9 261 L103 261.4 L104.1 261.9 L105.1 262.4 L106.2 262.9 L107.3 263.4 L108.3 264 L109.4 264.6 L110.5 265.3 L111.5 266.1 L112.6 267 L113.6 268 L114.7 269 L115.8 270.1 L116.8 271.3 L117.9 272.6 L119 274 L120 275.6 L121.1 277.3 L122.2 279.1 L123.2 281.1 L124.3 283.2 L125.4 285.4 L126.4 287.6 L127.5 289.7 L128.6 291.5 L129.6 293.2 L130.7 294.8 L131.8 296.3 L132.8 297.9 L133.9 299.4 L134.9 301 L136 302.8 L137.1 304.7 L138.1 306.6 L139.2 308.5 L140.3 310.3 L141.3 312.1 L142.4 313.9 L143.5 315.7 L144.5 317.5 L145.6 319.4 L146.7 321.2 L147.7 323.1 L148.8 325 L149.9 326.8 L150.9 328.6 L152 330.5 L153.1 332.3 L154.1 334.1 L155.2 335.7 L156.2 337.1 L157.3 338.4 L158.4 339.6 L159.4 340.7 L160.5 341.7 L161.6 342.6 L162.6 343.4 L163.7 344 L164.8 344.5 L165.8 345 L166.9 345.4 L168 345.9 L169 346.3 L170.1 346.6 L171.2 346.8 L172.2 347 L173.3 347.1 L174.4 347.3 L175.4 347.4 L176.5 347.4 L177.5 347.4 L178.6 347.3 L179.7 347.1 L180.7 346.8 L181.8 346.6 L182.9 346.3 L183.9 346 L185 345.6 L186.1 345.4 L187.1 345.3 L188.2 345.3 L189.3 345.2 L190.3 345.2 L191.4 345.2 L192.5 345.1 L193.5 345.1 L194.6 345.1 L195.7 345.1 L196.7 345.1 L197.8 345.1 L198.8 345.1 L199.9 345.1 L201 345.1 L202 345.1 L203.1 345.1 L204.2 345.1 L205.2 345.1 L206.3 345.1 L207.4 345.1 L208.4 345.1 L209.5 345.1 L210.6 345.1 L211.6 345.1 L212.7 345.1 L213.8 345.1 L214.8 345.1 L215.9 345.1 L217 345.1 L218 345.1 L219.1 345.1 L220.1 345.1 L221.2 345.1 L222.3 345.1 L223.3 345.1 L224.4 345.1 L225.5 345.1 L226.5 345.1 L227.6 345.1 L228.7 345.1 L229.7 345.1 L230.8 345.1 L231.9 345.1 L232.9 345.1 L234 345.1 L235.1 345.1 L236.1 345.1 L237.2 345.1 L238.3 345.1 L239.3 345.1 L240.4 345.1 L241.4 345.1 L242.5 345.1 L243.6 345.1 L244.6 345.1 L245.7 345.1 L246.8 345.1 L247.8 345.1 L248.9 345.1 L250 345.1 L251 345.1 L252.1 345.1 L253.2 345.1 L254.2 345.1 L255.3 345.1 L256.4 345.1 L257.4 345.1 L258.5 345.1 L259.6 345.1 L260.6 345.1 L261.7 345.1 L262.7 345.1 L263.8 345.1 L264.9 345.1" fill="none" stroke="#4595d6" stroke-width="1.35" stroke-linejoin="round" clip-path="url(#clipc)" />
<path d="M31.6 344.6 L32.7 344.6 L33.8 344.6 L34.8 344.6 L35.9 344.6 L37 344.6 L38 344.6 L39.1 344.6 L40.2 344.6 L41.2 344.6 L42.3 344.6 L43.4 344.6 L44.4 344.6 L45.5 344.6 L46.6 344.6 L47.6 344.6 L48.7 344.6 L49.7 344.6 L50.8 344.6 L51.9 344.6 L52.9 344.6 L54 344.6 L55.1 344.6 L56.1 344.6 L57.2 344.6 L58.3 344.6 L59.3 344.6 L60.4 344.6 L61.5 344.6 L62.5 344.6 L63.6 344.6 L64.7 344.6 L65.7 344.6 L66.8 344.6 L67.9 344.6 L68.9 344.6 L70 344.6 L71 344.6 L72.1 344.6 L73.2 344.6 L74.2 344.6 L75.3 344.6 L76.4 344.6 L77.4 344.6 L78.5 344.6 L79.6 344.6 L80.6 344.6 L81.7 344.6 L82.8 344.6 L83.8 344.6 L84.9 344.6 L86 344.6 L87 344.6 L88.1 344.6 L89.2 344.6 L90.2 344.6 L91.3 344.6 L92.3 344.6 L93.4 344.6 L94.5 344.6 L95.5 344.6 L96.6 344.6 L97.7 344.6 L98.7 344.6 L99.8 344.6 L100.9 344.6 L101.9 344.6 L103 344.6 L104.1 344.6 L105.1 344.6 L106.2 344.6 L107.3 344.6 L108.3 344.6 L109.4 344.6 L110.5 344.6 L111.5 344.6 L112.6 344.6 L113.6 344.6 L114.7 344.6 L115.8 344.6 L116.8 344.6 L117.9 344.6 L119 344.6 L120 344.6 L121.1 344.6 L122.2 344.6 L123.2 344.6 L124.3 344.6 L125.4 344.6 L126.4 344.6 L127.5 344.6 L128.6 344.6 L129.6 344.6 L130.7 344.6 L131.8 344.6 L132.8 344.6 L133.9 344.5 L134.9 344.4 L136 344.3 L137.1 343.8 L138.1 343.2 L139.2 342.6 L140.3 341.7 L141.3 340.8 L142.4 339.7 L143.5 338.6 L144.5 337.4 L145.6 336 L146.7 334.5 L147.7 332.9 L148.8 331.2 L149.9 329.4 L150.9 327.7 L152 325.8 L153.1 323.9 L154.1 322 L155.2 320.2 L156.2 318.6 L157.3 317.2 L158.4 315.9 L159.4 314.7 L160.5 313.6 L161.6 312.6 L162.6 311.7 L163.7 310.9 L164.8 310.2 L165.8 309.4 L166.9 308.6 L168 307.5 L169 306.3 L170.1 305 L171.2 303.6 L172.2 301.9 L173.3 300 L174.4 298 L175.4 296.1 L176.5 294.2 L177.5 292.5 L178.6 290.9 L179.7 289.3 L180.7 287.7 L181.8 286.3 L182.9 284.9 L183.9 283.6 L185 282.3 L186.1 281.1 L187.1 279.9 L188.2 278.8 L189.3 277.7 L190.3 276.8 L191.4 276.1 L192.5 275.4 L193.5 275.1 L194.6 275 L195.7 274.8 L196.7 274.7 L197.8 274.7 L198.8 274.7 L199.9 274.7 L201 274.7 L202 274.7 L203.1 274.7 L204.2 274.7 L205.2 274.7 L206.3 274.7 L207.4 274.7 L208.4 274.7 L209.5 274.7 L210.6 274.7 L211.6 274.7 L212.7 274.7 L213.8 274.7 L214.8 274.7 L215.9 274.7 L217 274.7 L218 274.7 L219.1 274.8 L220.1 274.8 L221.2 274.8 L222.3 274.9 L223.3 274.9 L224.4 274.9 L225.5 275 L226.5 275 L227.6 275 L228.7 275.1 L229.7 275.1 L230.8 275.1 L231.9 275.2 L232.9 275.2 L234 275.2 L235.1 275.3 L236.1 275.3 L237.2 275.4 L238.3 275.4 L239.3 275.4 L240.4 275.5 L241.4 275.5 L242.5 275.5 L243.6 275.6 L244.6 275.6 L245.7 275.7 L246.8 275.7 L247.8 275.7 L248.9 275.8 L250 275.8 L251 275.9 L252.1 275.9 L253.2 275.9 L254.2 276 L255.3 276 L256.4 276.1 L257.4 276.1 L258.5 276.2 L259.6 276.2 L260.6 276.3 L261.7 276.3 L262.7 276.3 L263.8 276.4 L264.9 276.4" fill="none" stroke="#ef4a3e" stroke-width="1.35" stroke-linejoin="round" clip-path="url(#clipc)" />
<text x="49.2" y="234.9" font-size="7.8" text-anchor="end" fill="#1a1a1a" >M1</text>
<text x="80" y="234.9" font-size="7.8" text-anchor="end" fill="#1a1a1a" >M2</text>
<text x="127" y="234.9" font-size="7.8" text-anchor="end" fill="#1a1a1a" >M3</text>
<text x="144.6" y="234.9" font-size="7.8" text-anchor="end" fill="#1a1a1a" >M4</text>
<rect x="149.7" y="228.7" width="10.4" height="7.6" fill="#fff"/>
<text x="154.9" y="234.9" font-size="7.8" text-anchor="middle" fill="#1a1a1a" >TS</text>
<text x="164.2" y="244.6" font-size="7.8" text-anchor="start" fill="#1a1a1a" >M5</text>
<rect x="171.7" y="228.7" width="12.2" height="7.6" fill="#fff"/>
<text x="177.8" y="234.9" font-size="7.8" text-anchor="middle" fill="#1a1a1a" >M6</text>
<rect x="186.2" y="238.4" width="12.2" height="7.6" fill="#fff"/>
<text x="186.8" y="244.6" font-size="7.8" text-anchor="start" fill="#1a1a1a" >M7</text>
<text x="194.7" y="234.9" font-size="7.8" text-anchor="start" fill="#1a1a1a" >M8</text>
<text x="213.5" y="234.9" font-size="7.8" text-anchor="start" fill="#1a1a1a" >M9</text>
<text x="237.5" y="234.9" font-size="7.8" text-anchor="start" fill="#1a1a1a" >M10</text>
<g transform="translate(-12.2,167.7)">
<text x="65.3" y="102.1" font-size="6.9" text-anchor="start" fill="#1a1a1a"><tspan dy="0">H</tspan></text>
<text x="74.3" y="111" font-size="6.9" text-anchor="start" fill="#1a1a1a"><tspan dy="0">O</tspan><tspan font-size="4.8" dy="1.6">b</tspan></text>
<text x="90.6" y="111" font-size="6.9" text-anchor="start" fill="#1a1a1a"><tspan dy="0">O</tspan><tspan font-size="4.8" dy="1.6">a</tspan></text>
<text x="101.2" y="101.5" font-size="6.9" text-anchor="start" fill="#1a1a1a"><tspan dy="0">C</tspan><tspan font-size="4.8" dy="1.6">a</tspan><tspan dy="-1.6">H</tspan><tspan font-size="4.8" dy="1.6">3</tspan></text>
<text x="47" y="132.1" font-size="6.9" text-anchor="start" fill="#1a1a1a"><tspan dy="0">H</tspan><tspan font-size="4.8" dy="1.6">2</tspan><tspan dy="-1.6">C</tspan><tspan font-size="4.8" dy="1.6">c</tspan></text>
<text x="74.3" y="132.1" font-size="6.9" text-anchor="start" fill="#1a1a1a"><tspan dy="0">C</tspan><tspan font-size="4.8" dy="1.6">b</tspan><tspan dy="-1.6">H</tspan></text>
<text x="86.5" y="144.7" font-size="6.9" text-anchor="start" fill="#1a1a1a"><tspan dy="0">C</tspan><tspan font-size="4.8" dy="1.6">d</tspan><tspan dy="-1.6">H</tspan><tspan font-size="4.8" dy="1.6">3</tspan></text>
<line x1="70.4" y1="102.3" x2="74.9" y2="106.7" stroke="#1a1a1a" stroke-width="0.8" />
<line x1="84.2" y1="108.3" x2="89.3" y2="108.3" stroke="#1a1a1a" stroke-width="0.8" />
<line x1="95.8" y1="106" x2="101.2" y2="101" stroke="#1a1a1a" stroke-width="0.8" />
<line x1="74.9" y1="110.9" x2="59" y2="124.8" stroke="#222" stroke-width="0.9" stroke-dasharray="0.9 0.8"/>
<line x1="77.4" y1="113" x2="77.4" y2="126.3" stroke="#1a1a1a" stroke-width="1.6" stroke-dasharray="0.7 0.8"/>
<line x1="63.6" y1="128.4" x2="74" y2="128.4" stroke="#1a1a1a" stroke-width="0.8" />
<line x1="63.6" y1="130.8" x2="74" y2="130.8" stroke="#1a1a1a" stroke-width="0.8" />
<line x1="81.8" y1="132.6" x2="87.3" y2="138.7" stroke="#1a1a1a" stroke-width="0.8" />
</g>
<g transform="translate(-7.7,169.3)">
<text x="229.4" y="96.2" font-size="6.9" text-anchor="start" fill="#1a1a1a"><tspan dy="0">H</tspan><tspan font-size="4.8" dy="1.6">3</tspan><tspan dy="-1.6">C</tspan><tspan font-size="4.8" dy="1.6">a</tspan></text>
<text x="249.2" y="104.4" font-size="6.9" text-anchor="start" fill="#1a1a1a"><tspan dy="0">O</tspan><tspan font-size="4.8" dy="1.6">a</tspan></text>
<text x="242.2" y="115" font-size="6.9" text-anchor="start" fill="#1a1a1a"><tspan dy="0">H</tspan></text>
<text x="221.6" y="115.2" font-size="6.9" text-anchor="start" fill="#1a1a1a"><tspan dy="0">O</tspan><tspan font-size="4.8" dy="1.6">b</tspan></text>
<text x="203.9" y="130" font-size="6.9" text-anchor="start" fill="#1a1a1a"><tspan dy="0">H</tspan><tspan font-size="4.8" dy="1.6">2</tspan><tspan dy="-1.6">C</tspan><tspan font-size="4.8" dy="1.6">c</tspan></text>
<text x="230.8" y="130" font-size="6.9" text-anchor="start" fill="#1a1a1a"><tspan dy="0">C</tspan><tspan font-size="4.8" dy="1.6">b</tspan><tspan dy="-1.6">H</tspan></text>
<text x="243" y="141.9" font-size="6.9" text-anchor="start" fill="#1a1a1a"><tspan dy="0">C</tspan><tspan font-size="4.8" dy="1.6">d</tspan><tspan dy="-1.6">H</tspan><tspan font-size="4.8" dy="1.6">3</tspan></text>
<line x1="244.6" y1="96" x2="249.6" y2="99.5" stroke="#1a1a1a" stroke-width="0.8" />
<line x1="250.1" y1="104.8" x2="246.9" y2="109.6" stroke="#1a1a1a" stroke-width="0.8" />
<line x1="230.4" y1="112.5" x2="241.8" y2="112.5" stroke="#1a1a1a" stroke-width="1.5" stroke-dasharray="0.7 0.8"/>
<line x1="222.2" y1="115.6" x2="213.8" y2="124.6" stroke="#1a1a1a" stroke-width="0.8" />
<line x1="227.8" y1="117" x2="232" y2="124.6" stroke="#1a1a1a" stroke-width="0.8" />
<line x1="220.6" y1="127.4" x2="230" y2="127.4" stroke="#1a1a1a" stroke-width="0.8" />
<line x1="236.8" y1="130.9" x2="243.1" y2="137.2" stroke="#1a1a1a" stroke-width="0.8" />
</g>
<text x="40.9" y="383.3" font-size="7.8" text-anchor="middle" fill="#2b8dd6" font-weight="bold" class="ph">1</text>
<text x="65.4" y="383.3" font-size="7.8" text-anchor="middle" fill="#2b8dd6" font-weight="bold" class="ph">2</text>
<text x="107.8" y="383.3" font-size="7.8" text-anchor="middle" fill="#2b8dd6" font-weight="bold" class="ph">3</text>
<text x="136.1" y="383.3" font-size="7.8" text-anchor="middle" fill="#2b8dd6" font-weight="bold" class="ph">4</text>
<text x="152.1" y="383.3" font-size="7.8" text-anchor="middle" fill="#2b8dd6" font-weight="bold" class="ph">5</text>
<text x="169.4" y="383.3" font-size="7.8" text-anchor="middle" fill="#2b8dd6" font-weight="bold" class="ph">6</text>
<text x="182.5" y="383.3" font-size="7.8" text-anchor="middle" fill="#2b8dd6" font-weight="bold" class="ph">7</text>
<text x="189.9" y="383.3" font-size="7.8" text-anchor="middle" fill="#2b8dd6" font-weight="bold" class="ph">8</text>
<text x="202.5" y="383.3" font-size="7.8" text-anchor="middle" fill="#2b8dd6" font-weight="bold" class="ph">9</text>
<text x="225.6" y="383.3" font-size="7.8" text-anchor="middle" fill="#2b8dd6" font-weight="bold" class="ph">10</text>
<text x="248" y="383.3" font-size="7.8" text-anchor="middle" fill="#2b8dd6" font-weight="bold" class="ph">11</text>
<line x1="36.4" y1="388" x2="36.4" y2="390.2" stroke="#1a1a1a" stroke-width="0.8" />
<line x1="36.4" y1="225.3" x2="36.4" y2="227.5" stroke="#1a1a1a" stroke-width="0.8" />
<text x="36.2" y="398" font-size="7.8" text-anchor="middle" fill="#1a1a1a" >−25</text>
<line x1="41.2" y1="388" x2="41.2" y2="389.2" stroke="#1a1a1a" stroke-width="0.8" />
<line x1="41.2" y1="225.3" x2="41.2" y2="226.5" stroke="#1a1a1a" stroke-width="0.8" />
<line x1="45.9" y1="388" x2="45.9" y2="389.2" stroke="#1a1a1a" stroke-width="0.8" />
<line x1="45.9" y1="225.3" x2="45.9" y2="226.5" stroke="#1a1a1a" stroke-width="0.8" />
<line x1="50.7" y1="388" x2="50.7" y2="389.2" stroke="#1a1a1a" stroke-width="0.8" />
<line x1="50.7" y1="225.3" x2="50.7" y2="226.5" stroke="#1a1a1a" stroke-width="0.8" />
<line x1="55.4" y1="388" x2="55.4" y2="389.2" stroke="#1a1a1a" stroke-width="0.8" />
<line x1="55.4" y1="225.3" x2="55.4" y2="226.5" stroke="#1a1a1a" stroke-width="0.8" />
<line x1="60.2" y1="388" x2="60.2" y2="390.2" stroke="#1a1a1a" stroke-width="0.8" />
<line x1="60.2" y1="225.3" x2="60.2" y2="227.5" stroke="#1a1a1a" stroke-width="0.8" />
<text x="60" y="398" font-size="7.8" text-anchor="middle" fill="#1a1a1a" >−20</text>
<line x1="65" y1="388" x2="65" y2="389.2" stroke="#1a1a1a" stroke-width="0.8" />
<line x1="65" y1="225.3" x2="65" y2="226.5" stroke="#1a1a1a" stroke-width="0.8" />
<line x1="69.7" y1="388" x2="69.7" y2="389.2" stroke="#1a1a1a" stroke-width="0.8" />
<line x1="69.7" y1="225.3" x2="69.7" y2="226.5" stroke="#1a1a1a" stroke-width="0.8" />
<line x1="74.5" y1="388" x2="74.5" y2="389.2" stroke="#1a1a1a" stroke-width="0.8" />
<line x1="74.5" y1="225.3" x2="74.5" y2="226.5" stroke="#1a1a1a" stroke-width="0.8" />
<line x1="79.2" y1="388" x2="79.2" y2="389.2" stroke="#1a1a1a" stroke-width="0.8" />
<line x1="79.2" y1="225.3" x2="79.2" y2="226.5" stroke="#1a1a1a" stroke-width="0.8" />
<line x1="84" y1="388" x2="84" y2="390.2" stroke="#1a1a1a" stroke-width="0.8" />
<line x1="84" y1="225.3" x2="84" y2="227.5" stroke="#1a1a1a" stroke-width="0.8" />
<text x="83.8" y="398" font-size="7.8" text-anchor="middle" fill="#1a1a1a" >−15</text>
<line x1="88.8" y1="388" x2="88.8" y2="389.2" stroke="#1a1a1a" stroke-width="0.8" />
<line x1="88.8" y1="225.3" x2="88.8" y2="226.5" stroke="#1a1a1a" stroke-width="0.8" />
<line x1="93.5" y1="388" x2="93.5" y2="389.2" stroke="#1a1a1a" stroke-width="0.8" />
<line x1="93.5" y1="225.3" x2="93.5" y2="226.5" stroke="#1a1a1a" stroke-width="0.8" />
<line x1="98.3" y1="388" x2="98.3" y2="389.2" stroke="#1a1a1a" stroke-width="0.8" />
<line x1="98.3" y1="225.3" x2="98.3" y2="226.5" stroke="#1a1a1a" stroke-width="0.8" />
<line x1="103" y1="388" x2="103" y2="389.2" stroke="#1a1a1a" stroke-width="0.8" />
<line x1="103" y1="225.3" x2="103" y2="226.5" stroke="#1a1a1a" stroke-width="0.8" />
<line x1="107.8" y1="388" x2="107.8" y2="390.2" stroke="#1a1a1a" stroke-width="0.8" />
<line x1="107.8" y1="225.3" x2="107.8" y2="227.5" stroke="#1a1a1a" stroke-width="0.8" />
<text x="107.6" y="398" font-size="7.8" text-anchor="middle" fill="#1a1a1a" >−10</text>
<line x1="112.6" y1="388" x2="112.6" y2="389.2" stroke="#1a1a1a" stroke-width="0.8" />
<line x1="112.6" y1="225.3" x2="112.6" y2="226.5" stroke="#1a1a1a" stroke-width="0.8" />
<line x1="117.3" y1="388" x2="117.3" y2="389.2" stroke="#1a1a1a" stroke-width="0.8" />
<line x1="117.3" y1="225.3" x2="117.3" y2="226.5" stroke="#1a1a1a" stroke-width="0.8" />
<line x1="122.1" y1="388" x2="122.1" y2="389.2" stroke="#1a1a1a" stroke-width="0.8" />
<line x1="122.1" y1="225.3" x2="122.1" y2="226.5" stroke="#1a1a1a" stroke-width="0.8" />
<line x1="126.8" y1="388" x2="126.8" y2="389.2" stroke="#1a1a1a" stroke-width="0.8" />
<line x1="126.8" y1="225.3" x2="126.8" y2="226.5" stroke="#1a1a1a" stroke-width="0.8" />
<line x1="131.6" y1="388" x2="131.6" y2="390.2" stroke="#1a1a1a" stroke-width="0.8" />
<line x1="131.6" y1="225.3" x2="131.6" y2="227.5" stroke="#1a1a1a" stroke-width="0.8" />
<text x="131.4" y="398" font-size="7.8" text-anchor="middle" fill="#1a1a1a" >−5</text>
<line x1="136.4" y1="388" x2="136.4" y2="389.2" stroke="#1a1a1a" stroke-width="0.8" />
<line x1="136.4" y1="225.3" x2="136.4" y2="226.5" stroke="#1a1a1a" stroke-width="0.8" />
<line x1="141.1" y1="388" x2="141.1" y2="389.2" stroke="#1a1a1a" stroke-width="0.8" />
<line x1="141.1" y1="225.3" x2="141.1" y2="226.5" stroke="#1a1a1a" stroke-width="0.8" />
<line x1="145.9" y1="388" x2="145.9" y2="389.2" stroke="#1a1a1a" stroke-width="0.8" />
<line x1="145.9" y1="225.3" x2="145.9" y2="226.5" stroke="#1a1a1a" stroke-width="0.8" />
<line x1="150.6" y1="388" x2="150.6" y2="389.2" stroke="#1a1a1a" stroke-width="0.8" />
<line x1="150.6" y1="225.3" x2="150.6" y2="226.5" stroke="#1a1a1a" stroke-width="0.8" />
<line x1="155.4" y1="388" x2="155.4" y2="390.2" stroke="#1a1a1a" stroke-width="0.8" />
<line x1="155.4" y1="225.3" x2="155.4" y2="227.5" stroke="#1a1a1a" stroke-width="0.8" />
<text x="155.4" y="398" font-size="7.8" text-anchor="middle" fill="#1a1a1a" >0</text>
<line x1="160.2" y1="388" x2="160.2" y2="389.2" stroke="#1a1a1a" stroke-width="0.8" />
<line x1="160.2" y1="225.3" x2="160.2" y2="226.5" stroke="#1a1a1a" stroke-width="0.8" />
<line x1="164.9" y1="388" x2="164.9" y2="389.2" stroke="#1a1a1a" stroke-width="0.8" />
<line x1="164.9" y1="225.3" x2="164.9" y2="226.5" stroke="#1a1a1a" stroke-width="0.8" />
<line x1="169.7" y1="388" x2="169.7" y2="389.2" stroke="#1a1a1a" stroke-width="0.8" />
<line x1="169.7" y1="225.3" x2="169.7" y2="226.5" stroke="#1a1a1a" stroke-width="0.8" />
<line x1="174.4" y1="388" x2="174.4" y2="389.2" stroke="#1a1a1a" stroke-width="0.8" />
<line x1="174.4" y1="225.3" x2="174.4" y2="226.5" stroke="#1a1a1a" stroke-width="0.8" />
<line x1="179.2" y1="388" x2="179.2" y2="390.2" stroke="#1a1a1a" stroke-width="0.8" />
<line x1="179.2" y1="225.3" x2="179.2" y2="227.5" stroke="#1a1a1a" stroke-width="0.8" />
<text x="179.2" y="398" font-size="7.8" text-anchor="middle" fill="#1a1a1a" >5</text>
<line x1="184" y1="388" x2="184" y2="389.2" stroke="#1a1a1a" stroke-width="0.8" />
<line x1="184" y1="225.3" x2="184" y2="226.5" stroke="#1a1a1a" stroke-width="0.8" />
<line x1="188.7" y1="388" x2="188.7" y2="389.2" stroke="#1a1a1a" stroke-width="0.8" />
<line x1="188.7" y1="225.3" x2="188.7" y2="226.5" stroke="#1a1a1a" stroke-width="0.8" />
<line x1="193.5" y1="388" x2="193.5" y2="389.2" stroke="#1a1a1a" stroke-width="0.8" />
<line x1="193.5" y1="225.3" x2="193.5" y2="226.5" stroke="#1a1a1a" stroke-width="0.8" />
<line x1="198.2" y1="388" x2="198.2" y2="389.2" stroke="#1a1a1a" stroke-width="0.8" />
<line x1="198.2" y1="225.3" x2="198.2" y2="226.5" stroke="#1a1a1a" stroke-width="0.8" />
<line x1="203" y1="388" x2="203" y2="390.2" stroke="#1a1a1a" stroke-width="0.8" />
<line x1="203" y1="225.3" x2="203" y2="227.5" stroke="#1a1a1a" stroke-width="0.8" />
<text x="203" y="398" font-size="7.8" text-anchor="middle" fill="#1a1a1a" >10</text>
<line x1="207.8" y1="388" x2="207.8" y2="389.2" stroke="#1a1a1a" stroke-width="0.8" />
<line x1="207.8" y1="225.3" x2="207.8" y2="226.5" stroke="#1a1a1a" stroke-width="0.8" />
<line x1="212.5" y1="388" x2="212.5" y2="389.2" stroke="#1a1a1a" stroke-width="0.8" />
<line x1="212.5" y1="225.3" x2="212.5" y2="226.5" stroke="#1a1a1a" stroke-width="0.8" />
<line x1="217.3" y1="388" x2="217.3" y2="389.2" stroke="#1a1a1a" stroke-width="0.8" />
<line x1="217.3" y1="225.3" x2="217.3" y2="226.5" stroke="#1a1a1a" stroke-width="0.8" />
<line x1="222" y1="388" x2="222" y2="389.2" stroke="#1a1a1a" stroke-width="0.8" />
<line x1="222" y1="225.3" x2="222" y2="226.5" stroke="#1a1a1a" stroke-width="0.8" />
<line x1="226.8" y1="388" x2="226.8" y2="390.2" stroke="#1a1a1a" stroke-width="0.8" />
<line x1="226.8" y1="225.3" x2="226.8" y2="227.5" stroke="#1a1a1a" stroke-width="0.8" />
<text x="226.8" y="398" font-size="7.8" text-anchor="middle" fill="#1a1a1a" >15</text>
<line x1="231.6" y1="388" x2="231.6" y2="389.2" stroke="#1a1a1a" stroke-width="0.8" />
<line x1="231.6" y1="225.3" x2="231.6" y2="226.5" stroke="#1a1a1a" stroke-width="0.8" />
<line x1="236.3" y1="388" x2="236.3" y2="389.2" stroke="#1a1a1a" stroke-width="0.8" />
<line x1="236.3" y1="225.3" x2="236.3" y2="226.5" stroke="#1a1a1a" stroke-width="0.8" />
<line x1="241.1" y1="388" x2="241.1" y2="389.2" stroke="#1a1a1a" stroke-width="0.8" />
<line x1="241.1" y1="225.3" x2="241.1" y2="226.5" stroke="#1a1a1a" stroke-width="0.8" />
<line x1="245.8" y1="388" x2="245.8" y2="389.2" stroke="#1a1a1a" stroke-width="0.8" />
<line x1="245.8" y1="225.3" x2="245.8" y2="226.5" stroke="#1a1a1a" stroke-width="0.8" />
<line x1="250.6" y1="388" x2="250.6" y2="390.2" stroke="#1a1a1a" stroke-width="0.8" />
<line x1="250.6" y1="225.3" x2="250.6" y2="227.5" stroke="#1a1a1a" stroke-width="0.8" />
<text x="250.6" y="398" font-size="7.8" text-anchor="middle" fill="#1a1a1a" >20</text>
<line x1="255.4" y1="388" x2="255.4" y2="389.2" stroke="#1a1a1a" stroke-width="0.8" />
<line x1="255.4" y1="225.3" x2="255.4" y2="226.5" stroke="#1a1a1a" stroke-width="0.8" />
<line x1="260.1" y1="388" x2="260.1" y2="389.2" stroke="#1a1a1a" stroke-width="0.8" />
<line x1="260.1" y1="225.3" x2="260.1" y2="226.5" stroke="#1a1a1a" stroke-width="0.8" />
<line x1="264.9" y1="388" x2="264.9" y2="389.2" stroke="#1a1a1a" stroke-width="0.8" />
<line x1="264.9" y1="225.3" x2="264.9" y2="226.5" stroke="#1a1a1a" stroke-width="0.8" />
<line x1="31.8" y1="388" x2="30.3" y2="388" stroke="#1a1a1a" stroke-width="0.8" />
<line x1="264.8" y1="388" x2="263.4" y2="388" stroke="#1a1a1a" stroke-width="0.8" />
<line x1="31.8" y1="382.9" x2="30.3" y2="382.9" stroke="#1a1a1a" stroke-width="0.8" />
<line x1="264.8" y1="382.9" x2="263.4" y2="382.9" stroke="#1a1a1a" stroke-width="0.8" />
<line x1="31.8" y1="377.8" x2="30.3" y2="377.8" stroke="#1a1a1a" stroke-width="0.8" />
<line x1="264.8" y1="377.8" x2="263.4" y2="377.8" stroke="#1a1a1a" stroke-width="0.8" />
<line x1="31.8" y1="372.8" x2="30.3" y2="372.8" stroke="#1a1a1a" stroke-width="0.8" />
<line x1="264.8" y1="372.8" x2="263.4" y2="372.8" stroke="#1a1a1a" stroke-width="0.8" />
<line x1="31.8" y1="367.7" x2="30.3" y2="367.7" stroke="#1a1a1a" stroke-width="0.8" />
<line x1="264.8" y1="367.7" x2="263.4" y2="367.7" stroke="#1a1a1a" stroke-width="0.8" />
<line x1="31.8" y1="362.6" x2="30.3" y2="362.6" stroke="#1a1a1a" stroke-width="0.8" />
<line x1="264.8" y1="362.6" x2="263.4" y2="362.6" stroke="#1a1a1a" stroke-width="0.8" />
<line x1="31.8" y1="357.6" x2="30.3" y2="357.6" stroke="#1a1a1a" stroke-width="0.8" />
<line x1="264.8" y1="357.6" x2="263.4" y2="357.6" stroke="#1a1a1a" stroke-width="0.8" />
<line x1="31.8" y1="352.5" x2="30.3" y2="352.5" stroke="#1a1a1a" stroke-width="0.8" />
<line x1="264.8" y1="352.5" x2="263.4" y2="352.5" stroke="#1a1a1a" stroke-width="0.8" />
<line x1="31.8" y1="347.4" x2="30.3" y2="347.4" stroke="#1a1a1a" stroke-width="0.8" />
<line x1="264.8" y1="347.4" x2="263.4" y2="347.4" stroke="#1a1a1a" stroke-width="0.8" />
<line x1="31.8" y1="342.3" x2="30.3" y2="342.3" stroke="#1a1a1a" stroke-width="0.8" />
<line x1="264.8" y1="342.3" x2="263.4" y2="342.3" stroke="#1a1a1a" stroke-width="0.8" />
<line x1="31.8" y1="337.3" x2="30.3" y2="337.3" stroke="#1a1a1a" stroke-width="0.8" />
<line x1="264.8" y1="337.3" x2="263.4" y2="337.3" stroke="#1a1a1a" stroke-width="0.8" />
<line x1="31.8" y1="332.2" x2="30.3" y2="332.2" stroke="#1a1a1a" stroke-width="0.8" />
<line x1="264.8" y1="332.2" x2="263.4" y2="332.2" stroke="#1a1a1a" stroke-width="0.8" />
<line x1="31.8" y1="327.1" x2="30.3" y2="327.1" stroke="#1a1a1a" stroke-width="0.8" />
<line x1="264.8" y1="327.1" x2="263.4" y2="327.1" stroke="#1a1a1a" stroke-width="0.8" />
<line x1="31.8" y1="322.1" x2="30.3" y2="322.1" stroke="#1a1a1a" stroke-width="0.8" />
<line x1="264.8" y1="322.1" x2="263.4" y2="322.1" stroke="#1a1a1a" stroke-width="0.8" />
<line x1="31.8" y1="317" x2="30.3" y2="317" stroke="#1a1a1a" stroke-width="0.8" />
<line x1="264.8" y1="317" x2="263.4" y2="317" stroke="#1a1a1a" stroke-width="0.8" />
<line x1="31.8" y1="311.9" x2="30.3" y2="311.9" stroke="#1a1a1a" stroke-width="0.8" />
<line x1="264.8" y1="311.9" x2="263.4" y2="311.9" stroke="#1a1a1a" stroke-width="0.8" />
<line x1="31.8" y1="306.9" x2="30.3" y2="306.9" stroke="#1a1a1a" stroke-width="0.8" />
<line x1="264.8" y1="306.9" x2="263.4" y2="306.9" stroke="#1a1a1a" stroke-width="0.8" />
<line x1="31.8" y1="301.8" x2="30.3" y2="301.8" stroke="#1a1a1a" stroke-width="0.8" />
<line x1="264.8" y1="301.8" x2="263.4" y2="301.8" stroke="#1a1a1a" stroke-width="0.8" />
<line x1="31.8" y1="296.7" x2="30.3" y2="296.7" stroke="#1a1a1a" stroke-width="0.8" />
<line x1="264.8" y1="296.7" x2="263.4" y2="296.7" stroke="#1a1a1a" stroke-width="0.8" />
<line x1="31.8" y1="291.6" x2="30.3" y2="291.6" stroke="#1a1a1a" stroke-width="0.8" />
<line x1="264.8" y1="291.6" x2="263.4" y2="291.6" stroke="#1a1a1a" stroke-width="0.8" />
<line x1="31.8" y1="286.6" x2="30.3" y2="286.6" stroke="#1a1a1a" stroke-width="0.8" />
<line x1="264.8" y1="286.6" x2="263.4" y2="286.6" stroke="#1a1a1a" stroke-width="0.8" />
<line x1="31.8" y1="281.5" x2="30.3" y2="281.5" stroke="#1a1a1a" stroke-width="0.8" />
<line x1="264.8" y1="281.5" x2="263.4" y2="281.5" stroke="#1a1a1a" stroke-width="0.8" />
<line x1="31.8" y1="276.4" x2="30.3" y2="276.4" stroke="#1a1a1a" stroke-width="0.8" />
<line x1="264.8" y1="276.4" x2="263.4" y2="276.4" stroke="#1a1a1a" stroke-width="0.8" />
<line x1="31.8" y1="271.4" x2="30.3" y2="271.4" stroke="#1a1a1a" stroke-width="0.8" />
<line x1="264.8" y1="271.4" x2="263.4" y2="271.4" stroke="#1a1a1a" stroke-width="0.8" />
<line x1="31.8" y1="266.3" x2="30.3" y2="266.3" stroke="#1a1a1a" stroke-width="0.8" />
<line x1="264.8" y1="266.3" x2="263.4" y2="266.3" stroke="#1a1a1a" stroke-width="0.8" />
<line x1="31.8" y1="261.2" x2="30.3" y2="261.2" stroke="#1a1a1a" stroke-width="0.8" />
<line x1="264.8" y1="261.2" x2="263.4" y2="261.2" stroke="#1a1a1a" stroke-width="0.8" />
<line x1="31.8" y1="256.2" x2="30.3" y2="256.2" stroke="#1a1a1a" stroke-width="0.8" />
<line x1="264.8" y1="256.2" x2="263.4" y2="256.2" stroke="#1a1a1a" stroke-width="0.8" />
<line x1="31.8" y1="251.1" x2="30.3" y2="251.1" stroke="#1a1a1a" stroke-width="0.8" />
<line x1="264.8" y1="251.1" x2="263.4" y2="251.1" stroke="#1a1a1a" stroke-width="0.8" />
<line x1="31.8" y1="246" x2="30.3" y2="246" stroke="#1a1a1a" stroke-width="0.8" />
<line x1="264.8" y1="246" x2="263.4" y2="246" stroke="#1a1a1a" stroke-width="0.8" />
<line x1="31.8" y1="240.9" x2="30.3" y2="240.9" stroke="#1a1a1a" stroke-width="0.8" />
<line x1="264.8" y1="240.9" x2="263.4" y2="240.9" stroke="#1a1a1a" stroke-width="0.8" />
<line x1="31.8" y1="235.9" x2="30.3" y2="235.9" stroke="#1a1a1a" stroke-width="0.8" />
<line x1="264.8" y1="235.9" x2="263.4" y2="235.9" stroke="#1a1a1a" stroke-width="0.8" />
<line x1="31.8" y1="230.8" x2="30.3" y2="230.8" stroke="#1a1a1a" stroke-width="0.8" />
<line x1="264.8" y1="230.8" x2="263.4" y2="230.8" stroke="#1a1a1a" stroke-width="0.8" />
<line x1="31.8" y1="225.7" x2="30.3" y2="225.7" stroke="#1a1a1a" stroke-width="0.8" />
<line x1="264.8" y1="225.7" x2="263.4" y2="225.7" stroke="#1a1a1a" stroke-width="0.8" />
<line x1="31.8" y1="367.7" x2="29" y2="367.7" stroke="#1a1a1a" stroke-width="0.9" />
<line x1="264.8" y1="367.7" x2="262.2" y2="367.7" stroke="#1a1a1a" stroke-width="0.9" />
<text x="27.3" y="370.4" font-size="7.8" text-anchor="end" fill="#1a1a1a" >1.0</text>
<line x1="31.8" y1="342.3" x2="29" y2="342.3" stroke="#1a1a1a" stroke-width="0.9" />
<line x1="264.8" y1="342.3" x2="262.2" y2="342.3" stroke="#1a1a1a" stroke-width="0.9" />
<text x="27.3" y="345" font-size="7.8" text-anchor="end" fill="#1a1a1a" >1.5</text>
<line x1="31.8" y1="317" x2="29" y2="317" stroke="#1a1a1a" stroke-width="0.9" />
<line x1="264.8" y1="317" x2="262.2" y2="317" stroke="#1a1a1a" stroke-width="0.9" />
<text x="27.3" y="319.7" font-size="7.8" text-anchor="end" fill="#1a1a1a" >2.0</text>
<line x1="31.8" y1="291.6" x2="29" y2="291.6" stroke="#1a1a1a" stroke-width="0.9" />
<line x1="264.8" y1="291.6" x2="262.2" y2="291.6" stroke="#1a1a1a" stroke-width="0.9" />
<text x="27.3" y="294.3" font-size="7.8" text-anchor="end" fill="#1a1a1a" >2.5</text>
<line x1="31.8" y1="266.3" x2="29" y2="266.3" stroke="#1a1a1a" stroke-width="0.9" />
<line x1="264.8" y1="266.3" x2="262.2" y2="266.3" stroke="#1a1a1a" stroke-width="0.9" />
<text x="27.3" y="269" font-size="7.8" text-anchor="end" fill="#1a1a1a" >3.0</text>
<line x1="31.8" y1="240.9" x2="29" y2="240.9" stroke="#1a1a1a" stroke-width="0.9" />
<line x1="264.8" y1="240.9" x2="262.2" y2="240.9" stroke="#1a1a1a" stroke-width="0.9" />
<text x="27.3" y="243.6" font-size="7.8" text-anchor="end" fill="#1a1a1a" >3.5</text>
<rect x="31.8" y="225.3" width="233" height="162.7" fill="none" stroke="#111" stroke-width="1.3"/>
<text x="148.3" y="409.9" font-size="7.8" text-anchor="middle" fill="#1a1a1a">Reaction parameter <tspan font-style="italic">s</tspan> (amu<tspan font-size="5.4" dy="-3">1/2</tspan><tspan dy="3"> Bohr)</tspan></text>
<text transform="translate(9.5,306.6) rotate(-90)" font-size="7.8" text-anchor="middle" fill="#1a1a1a">Bond length (Å)</text>
<text x="143.8" y="424.4" font-size="13.5" text-anchor="middle" fill="#1a1a1a" >c)</text>
<text x="104.3" y="251" font-size="7.8" text-anchor="start" fill="#1a1a1a"><tspan dy="0">O</tspan><tspan font-size="5.6" dy="1.6">b</tspan><tspan dy="-1.6">C</tspan><tspan font-size="5.6" dy="1.6">c</tspan></text>
<line x1="112.5" y1="252.5" x2="109.9" y2="256.3" stroke="#1a1a1a" stroke-width="0.9" />
<polygon points="108.5,258.3 109.1,255.1 111.3,256.6" fill="#111"/>
<text x="98.8" y="290.6" font-size="7.8" text-anchor="start" fill="#1a1a1a"><tspan dy="0">O</tspan><tspan font-size="5.6" dy="1.6">b</tspan><tspan dy="-1.6">C</tspan><tspan font-size="5.6" dy="1.6">b</tspan></text>
<line x1="118.5" y1="287.5" x2="121.9" y2="284" stroke="#1a1a1a" stroke-width="0.9" />
<polygon points="123.6,282.3 122.5,285.4 120.5,283.5" fill="#111"/>
<text x="101.5" y="315" font-size="7.8" text-anchor="start" fill="#1a1a1a"><tspan dy="0">O</tspan><tspan font-size="5.6" dy="1.6">a</tspan><tspan dy="-1.6">H</tspan></text>
<line x1="108.8" y1="316.5" x2="110.2" y2="319.4" stroke="#1a1a1a" stroke-width="0.9" />
<polygon points="111.3,321.5 108.8,319.4 111.2,318.2" fill="#111"/>
<text x="93.6" y="341.5" font-size="7.8" text-anchor="start" fill="#1a1a1a"><tspan dy="0">C</tspan><tspan font-size="5.6" dy="1.6">b</tspan><tspan dy="-1.6">C</tspan><tspan font-size="5.6" dy="1.6">c</tspan></text>
<line x1="103" y1="343.2" x2="104.5" y2="347.2" stroke="#1a1a1a" stroke-width="0.9" />
<polygon points="105.3,349.5 103,347.1 105.5,346.2" fill="#111"/>
<text x="94.5" y="362" font-size="7.8" text-anchor="start" fill="#1a1a1a"><tspan dy="0">O</tspan><tspan font-size="5.6" dy="1.6">b</tspan><tspan dy="-1.6">H</tspan></text>
<line x1="102.5" y1="363.3" x2="100.9" y2="366.4" stroke="#1a1a1a" stroke-width="0.9" />
<polygon points="99.8,368.5 100,365.2 102.4,366.5" fill="#111"/>
<rect x="172.6" y="262.6" width="20.6" height="9.6" fill="#fff"/>
<text x="173.3" y="269.7" font-size="7.8" text-anchor="start" fill="#1a1a1a"><tspan dy="0">O</tspan><tspan font-size="5.6" dy="1.6">a</tspan><tspan dy="-1.6">O</tspan><tspan font-size="5.6" dy="1.6">b</tspan></text>
<line x1="193.5" y1="268.2" x2="199.1" y2="272.8" stroke="#1a1a1a" stroke-width="0.9" />
<polygon points="201,274.3 197.8,273.5 199.5,271.4" fill="#111"/>
<clipPath id="clipb"><rect x="309.1" y="5" width="233.3" height="162.3"/></clipPath>
<line x1="328.9" y1="5" x2="328.9" y2="22" stroke="#1c1c1c" stroke-width="1.2" stroke-dasharray="2.7 1.6"/>
<line x1="328.9" y1="73" x2="328.9" y2="167.3" stroke="#1c1c1c" stroke-width="1.2" stroke-dasharray="2.7 1.6"/>
<line x1="359.6" y1="5" x2="359.6" y2="22" stroke="#1c1c1c" stroke-width="1.2" stroke-dasharray="2.7 1.6"/>
<line x1="359.6" y1="73" x2="359.6" y2="167.3" stroke="#1c1c1c" stroke-width="1.2" stroke-dasharray="2.7 1.6"/>
<line x1="406.5" y1="5" x2="406.5" y2="167.3" stroke="#1c1c1c" stroke-width="1.2" stroke-dasharray="2.7 1.6"/>
<line x1="424.1" y1="5" x2="424.1" y2="167.3" stroke="#1c1c1c" stroke-width="1.2" stroke-dasharray="2.7 1.6"/>
<line x1="433.4" y1="28" x2="433.4" y2="167.3" stroke="#111" stroke-width="1.0" stroke-dasharray="1.1 1.0"/>
<line x1="441" y1="5" x2="441" y2="167.3" stroke="#1c1c1c" stroke-width="1.2" stroke-dasharray="2.7 1.6"/>
<line x1="455" y1="5" x2="455" y2="167.3" stroke="#1c1c1c" stroke-width="1.2" stroke-dasharray="2.7 1.6"/>
<line x1="464.1" y1="5" x2="464.1" y2="167.3" stroke="#1c1c1c" stroke-width="1.2" stroke-dasharray="2.7 1.6"/>
<line x1="470.9" y1="5" x2="470.9" y2="167.3" stroke="#1c1c1c" stroke-width="1.2" stroke-dasharray="2.7 1.6"/>
<line x1="489.7" y1="5" x2="489.7" y2="20.5" stroke="#1c1c1c" stroke-width="1.2" stroke-dasharray="2.7 1.6"/>
<line x1="489.7" y1="73.9" x2="489.7" y2="167.3" stroke="#1c1c1c" stroke-width="1.2" stroke-dasharray="2.7 1.6"/>
<line x1="513.7" y1="5" x2="513.7" y2="20.5" stroke="#1c1c1c" stroke-width="1.2" stroke-dasharray="2.7 1.6"/>
<line x1="513.7" y1="73.9" x2="513.7" y2="167.3" stroke="#1c1c1c" stroke-width="1.2" stroke-dasharray="2.7 1.6"/>
<path d="M307.7 110.1 L308 109.9 L308.3 109.8 L308.7 109.6 L309 109.5 L309.4 109.3 L309.7 109.2 L310 109.1 L310.4 109 L310.7 109 L311.1 108.9 L311.4 108.9 L311.7 108.9 L312.1 108.9 L312.4 108.9 L312.7 108.9 L313.1 108.9 L313.4 108.8 L313.8 108.8 L314.1 108.8 L314.4 108.8 L314.8 108.8 L315.1 108.8 L315.4 108.8 L315.8 108.8 L316.1 108.8 L316.5 108.8 L316.8 108.8 L317.1 108.8 L317.5 108.8 L317.8 108.8 L318.1 108.8 L318.5 108.8 L318.8 108.8 L319.2 108.8 L319.5 108.8 L319.8 108.8 L320.2 108.8 L320.5 108.8 L320.8 108.8 L321.2 108.8 L321.5 108.8 L321.9 108.8 L322.2 108.8 L322.5 108.9 L322.9 108.9 L323.2 108.9 L323.6 109 L323.9 109 L324.2 109.1 L324.6 109.1 L324.9 109.1 L325.2 109.2 L325.6 109.2 L325.9 109.3 L326.3 109.4 L326.6 109.4 L326.9 109.5 L327.3 109.5 L327.6 109.6 L327.9 109.6 L328.3 109.7 L328.6 109.7 L329 109.8 L329.3 109.9 L329.6 109.9 L330 110 L330.3 110 L330.6 110.1 L331 110.1 L331.3 110.2 L331.7 110.2 L332 110.3 L332.3 110.4 L332.7 110.4 L333 110.5 L333.4 110.5 L333.7 110.6 L334 110.7 L334.4 110.7 L334.7 110.8 L335 110.9 L335.4 111 L335.7 111 L336.1 111.1 L336.4 111.2 L336.7 111.3 L337.1 111.3 L337.4 111.4 L337.7 111.5 L338.1 111.6 L338.4 111.7 L338.8 111.7 L339.1 111.8 L339.4 111.9 L339.8 112 L340.1 112.2 L340.4 112.3 L340.8 112.4 L341.1 112.6 L341.5 112.7 L341.8 112.9 L342.1 113 L342.5 113.2 L342.8 113.4 L343.1 113.5 L343.5 113.7 L343.8 113.8 L344.2 114 L344.5 114.1 L344.8 114.3 L345.2 114.4 L345.5 114.6 L345.9 114.7 L346.2 114.8 L346.5 114.9 L346.9 115 L347.2 115 L347.5 115.1 L347.9 115.1 L348.2 115.1 L348.6 115.2 L348.9 115.1 L349.2 115.1 L349.6 115.1 L349.9 115 L350.2 115 L350.6 114.9 L350.9 114.8 L351.3 114.7 L351.6 114.7 L351.9 114.6 L352.3 114.5 L352.6 114.4 L352.9 114.2 L353.3 114.1 L353.6 114 L354 113.9 L354.3 113.8 L354.6 113.7 L355 113.6 L355.3 113.5 L355.7 113.4 L356 113.3 L356.3 113.2 L356.7 113.1 L357 113 L357.3 113 L357.7 112.9 L358 112.8 L358.4 112.8 L358.7 112.8 L359 112.8 L359.4 112.8 L359.7 112.8 L360 112.8 L360.4 112.8 L360.7 112.8 L361.1 112.8 L361.4 112.8 L361.7 112.8 L362.1 112.8 L362.4 112.8 L362.7 112.8 L363.1 112.9 L363.4 112.9 L363.8 112.9 L364.1 112.9 L364.4 112.9 L364.8 113 L365.1 113 L365.4 113 L365.8 113 L366.1 113 L366.5 113.1 L366.8 113.1 L367.1 113.1 L367.5 113.1 L367.8 113.2 L368.2 113.2 L368.5 113.2 L368.8 113.3 L369.2 113.3 L369.5 113.3 L369.8 113.3 L370.2 113.4 L370.5 113.4 L370.9 113.4 L371.2 113.5 L371.5 113.5 L371.9 113.5 L372.2 113.6 L372.5 113.6 L372.9 113.6 L373.2 113.7 L373.6 113.7 L373.9 113.7 L374.2 113.8 L374.6 113.8 L374.9 113.9 L375.2 113.9 L375.6 114 L375.9 114.1 L376.3 114.1 L376.6 114.2 L376.9 114.2 L377.3 114.3 L377.6 114.4 L377.9 114.4 L378.3 114.5 L378.6 114.6 L379 114.7 L379.3 114.8 L379.6 114.9 L380 115 L380.3 115.2 L380.7 115.4 L381 115.6 L381.3 115.8 L381.7 116 L382 116.2 L382.3 116.4 L382.7 116.6 L383 116.9 L383.4 117.1 L383.7 117.3 L384 117.5 L384.4 117.7 L384.7 117.9 L385 118 L385.4 118.2 L385.7 118.3 L386.1 118.4 L386.4 118.5 L386.7 118.5 L387.1 118.5 L387.4 118.5 L387.7 118.4 L388.1 118.3 L388.4 118.2 L388.8 118.1 L389.1 117.9 L389.4 117.8 L389.8 117.6 L390.1 117.4 L390.5 117.1 L390.8 116.9 L391.1 116.7 L391.5 116.4 L391.8 116.2 L392.1 115.9 L392.5 115.7 L392.8 115.4 L393.2 115.2 L393.5 114.9 L393.8 114.7 L394.2 114.4 L394.5 114.2 L394.8 114 L395.2 113.8 L395.5 113.7 L395.9 113.5 L396.2 113.3 L396.5 113.1 L396.9 112.9 L397.2 112.7 L397.5 112.5 L397.9 112.3 L398.2 112.1 L398.6 111.9 L398.9 111.7 L399.2 111.5 L399.6 111.4 L399.9 111.2 L400.2 111 L400.6 110.9 L400.9 110.8 L401.3 110.7 L401.6 110.6 L401.9 110.5 L402.3 110.4 L402.6 110.4 L403 110.4 L403.3 110.4 L403.6 110.4 L404 110.4 L404.3 110.5 L404.6 110.5 L405 110.6 L405.3 110.6 L405.7 110.7 L406 110.8 L406.3 110.9 L406.7 111.1 L407 111.4 L407.3 111.7 L407.7 112.2 L408 112.7 L408.4 113.3 L408.7 114 L409 114.6 L409.4 115.3 L409.7 116 L410 116.7 L410.4 117.4 L410.7 118.2 L411.1 119.2 L411.4 120.3 L411.7 121.5 L412.1 122.7 L412.4 123.9 L412.8 125 L413.1 125.9 L413.4 126.6 L413.8 127 L414.1 127 L414.4 126.5 L414.8 125.5 L415.1 124.2 L415.5 122.6 L415.8 120.9 L416.1 119.2 L416.5 117.6 L416.8 116.3 L417.1 115.3 L417.5 114.4 L417.8 113.5 L418.2 112.6 L418.5 111.8 L418.8 111 L419.2 110.5 L419.5 110.1 L419.8 109.9 L420.2 109.8 L420.5 109.8 L420.9 109.7 L421.2 109.7 L421.5 109.7 L421.9 109.6 L422.2 109.6 L422.5 109.6 L422.9 109.5 L423.2 109.5 L423.6 109.5 L423.9 109.5 L424.2 109.5 L424.6 109.4 L424.9 109.4 L425.3 109.4 L425.6 109.4 L425.9 109.4 L426.3 109.4 L426.6 109.5 L426.9 109.5 L427.3 109.6 L427.6 109.7 L428 109.8 L428.3 109.9 L428.6 110.1 L429 110.2 L429.3 110.3 L429.6 110.5 L430 110.6 L430.3 110.7 L430.7 110.9 L431 111 L431.3 111.1 L431.7 111.3 L432 111.4 L432.3 111.6 L432.7 111.7 L433 111.8 L433.4 111.8 L433.7 111.6 L434 110.8 L434.4 109.5 L434.7 107.8 L435.1 106 L435.4 104.2 L435.7 102.6 L436.1 101.3 L436.4 99.8 L436.7 98.2 L437.1 96.8 L437.4 95.7 L437.8 95.2 L438.1 95.3 L438.4 96.3 L438.8 98 L439.1 100.1 L439.4 102.2 L439.8 104 L440.1 105.3 L440.5 106.5 L440.8 107.7 L441.1 108.7 L441.5 109.5 L441.8 109.9 L442.1 109.9 L442.5 109.9 L442.8 109.9 L443.2 109.9 L443.5 109.9 L443.8 109.9 L444.2 109.9 L444.5 109.9 L444.8 109.9 L445.2 109.9 L445.5 109.9 L445.9 109.9 L446.2 109.9 L446.5 109.8 L446.9 109.7 L447.2 109.6 L447.6 109.5 L447.9 109.3 L448.2 109.2 L448.6 109.1 L448.9 109 L449.2 109 L449.6 108.9 L449.9 109 L450.3 109 L450.6 109.1 L450.9 109.2 L451.3 109.3 L451.6 109.4 L451.9 109.5 L452.3 109.6 L452.6 109.7 L453 109.7 L453.3 109.8 L453.6 109.9 L454 109.9 L454.3 109.9 L454.6 109.8 L455 109.5 L455.3 109.2 L455.7 108.7 L456 108.2 L456.3 107.5 L456.7 106.9 L457 106.1 L457.4 105.3 L457.7 104.2 L458 102.1 L458.4 100 L458.7 98.6 L459 98.5 L459.4 98.9 L459.7 99.6 L460.1 100.6 L460.4 101.8 L460.7 103.1 L461.1 104.4 L461.4 105.8 L461.7 107.1 L462.1 108.4 L462.4 109.4 L462.8 110.3 L463.1 111.2 L463.4 112 L463.8 112.6 L464.1 112.8 L464.4 112.8 L464.8 112.9 L465.1 112.9 L465.5 113 L465.8 113 L466.1 113.1 L466.5 113.1 L466.8 113.1 L467.1 113.1 L467.5 113.2 L467.8 113.2 L468.2 113.2 L468.5 113.2 L468.8 113.2 L469.2 113.2 L469.5 113.2 L469.9 113.2 L470.2 113.2 L470.5 113.2 L470.9 113.2 L471.2 113.2 L471.5 113.2 L471.9 113.2 L472.2 113.2 L472.6 113.2 L472.9 113.2 L473.2 113.2 L473.6 113.2 L473.9 113.2 L474.2 113.2 L474.6 113.2 L474.9 113.2 L475.3 113.2 L475.6 113.2 L475.9 113.2 L476.3 113.2 L476.6 113.2 L476.9 113.2 L477.3 113.2 L477.6 113.2 L478 113.2 L478.3 113.2 L478.6 113.2 L479 113.2 L479.3 113.2 L479.7 113.2 L480 113.2 L480.3 113.2 L480.7 113.2 L481 113.2 L481.3 113.2 L481.7 113.2 L482 113.2 L482.4 113.2 L482.7 113.1 L483 113.1 L483.4 113.1 L483.7 113.1 L484 113.1 L484.4 113.1 L484.7 113.1 L485.1 113.1 L485.4 113.1 L485.7 113.1 L486.1 113.1 L486.4 113.1 L486.7 113 L487.1 113 L487.4 113 L487.8 113 L488.1 113 L488.4 113 L488.8 113 L489.1 113 L489.4 113 L489.8 113 L490.1 112.9 L490.5 112.9 L490.8 112.9 L491.1 112.9 L491.5 112.9 L491.8 112.9 L492.2 112.9 L492.5 112.9 L492.8 112.9 L493.2 112.9 L493.5 112.9 L493.8 112.9 L494.2 112.8 L494.5 112.8 L494.9 112.8 L495.2 112.8 L495.5 112.8 L495.9 112.8 L496.2 112.8 L496.5 112.8 L496.9 112.8 L497.2 112.8 L497.6 112.8 L497.9 112.8 L498.2 112.8 L498.6 112.8 L498.9 112.8 L499.2 112.8 L499.6 112.8 L499.9 112.8 L500.3 112.8 L500.6 112.7 L500.9 112.7 L501.3 112.7 L501.6 112.7 L501.9 112.7 L502.3 112.7 L502.6 112.7 L503 112.7 L503.3 112.7 L503.6 112.7 L504 112.7 L504.3 112.7 L504.7 112.7 L505 112.7 L505.3 112.7 L505.7 112.7 L506 112.7 L506.3 112.7 L506.7 112.7 L507 112.7 L507.4 112.7 L507.7 112.7 L508 112.7 L508.4 112.7 L508.7 112.7 L509 112.7 L509.4 112.7 L509.7 112.7 L510.1 112.7 L510.4 112.7 L510.7 112.7 L511.1 112.7 L511.4 112.7 L511.7 112.7 L512.1 112.7 L512.4 112.7 L512.8 112.7 L513.1 112.7 L513.4 112.7 L513.8 112.7 L514.1 112.7 L514.5 112.7 L514.8 112.7 L515.1 112.7 L515.5 112.7 L515.8 112.7 L516.1 112.7 L516.5 112.7 L516.8 112.7 L517.2 112.6 L517.5 112.6 L517.8 112.6 L518.2 112.6 L518.5 112.6 L518.8 112.6 L519.2 112.6 L519.5 112.6 L519.9 112.6 L520.2 112.6 L520.5 112.6 L520.9 112.6 L521.2 112.6 L521.5 112.6 L521.9 112.6 L522.2 112.6 L522.6 112.6 L522.9 112.6 L523.2 112.6 L523.6 112.6 L523.9 112.6 L524.2 112.6 L524.6 112.6 L524.9 112.6 L525.3 112.6 L525.6 112.6 L525.9 112.6 L526.3 112.6 L526.6 112.6 L527 112.6 L527.3 112.6 L527.6 112.6 L528 112.6 L528.3 112.6 L528.6 112.6 L529 112.5 L529.3 112.5 L529.7 112.5 L530 112.5 L530.3 112.5 L530.7 112.5 L531 112.5 L531.3 112.5 L531.7 112.5 L532 112.5 L532.4 112.5 L532.7 112.5 L533 112.4 L533.4 112.4 L533.7 112.4 L534 112.4 L534.4 112.4 L534.7 112.4 L535.1 112.4 L535.4 112.4 L535.7 112.4 L536.1 112.4 L536.4 112.4 L536.8 112.3 L537.1 112.3 L537.4 112.3 L537.8 112.3 L538.1 112.3 L538.4 112.3 L538.8 112.3 L539.1 112.3 L539.5 112.3 L539.8 112.3 L540.1 112.3 L540.5 112.3 L540.8 112.3 L541.1 112.3 L541.5 112.3 L541.8 112.3 L542.2 112.3 L542.5 112.3 L542.8 112.3 L543.2 112.3 L543.5 112.3 L543.8 112.3" fill="none" stroke="#58b658" stroke-width="1.1" stroke-linejoin="round" clip-path="url(#clipb)" />
<path d="M307.7 111 L308 110.9 L308.3 110.8 L308.7 110.6 L309 110.4 L309.4 110.3 L309.7 110.1 L310 110 L310.4 109.9 L310.7 109.9 L311.1 109.9 L311.4 109.9 L311.7 109.9 L312.1 109.9 L312.4 109.9 L312.7 109.9 L313.1 109.9 L313.4 109.9 L313.8 109.9 L314.1 109.9 L314.4 109.9 L314.8 109.9 L315.1 109.9 L315.4 109.9 L315.8 109.9 L316.1 109.9 L316.5 109.9 L316.8 109.9 L317.1 109.9 L317.5 109.9 L317.8 109.9 L318.1 109.9 L318.5 109.9 L318.8 109.9 L319.2 109.9 L319.5 109.9 L319.8 109.9 L320.2 109.9 L320.5 109.9 L320.8 109.9 L321.2 109.9 L321.5 109.9 L321.9 109.9 L322.2 109.9 L322.5 109.9 L322.9 109.9 L323.2 109.9 L323.6 109.9 L323.9 109.9 L324.2 109.9 L324.6 109.9 L324.9 109.9 L325.2 109.9 L325.6 109.9 L325.9 109.9 L326.3 109.9 L326.6 109.9 L326.9 109.9 L327.3 109.9 L327.6 109.9 L327.9 109.9 L328.3 109.9 L328.6 109.9 L329 109.9 L329.3 109.9 L329.6 109.9 L330 109.9 L330.3 109.9 L330.6 109.9 L331 109.9 L331.3 109.9 L331.7 109.9 L332 109.9 L332.3 109.9 L332.7 109.9 L333 109.9 L333.4 109.9 L333.7 109.9 L334 109.9 L334.4 109.9 L334.7 109.9 L335 109.9 L335.4 109.9 L335.7 109.9 L336.1 109.9 L336.4 109.9 L336.7 109.9 L337.1 109.9 L337.4 109.9 L337.7 109.9 L338.1 109.9 L338.4 109.9 L338.8 109.9 L339.1 109.9 L339.4 109.9 L339.8 109.9 L340.1 109.9 L340.4 109.9 L340.8 109.9 L341.1 109.9 L341.5 109.9 L341.8 109.9 L342.1 109.9 L342.5 109.9 L342.8 109.9 L343.1 109.9 L343.5 109.9 L343.8 109.9 L344.2 109.9 L344.5 109.9 L344.8 109.9 L345.2 109.9 L345.5 109.9 L345.9 109.9 L346.2 109.9 L346.5 109.9 L346.9 109.9 L347.2 109.9 L347.5 109.9 L347.9 109.9 L348.2 109.9 L348.6 109.9 L348.9 109.9 L349.2 109.9 L349.6 109.9 L349.9 109.9 L350.2 109.9 L350.6 109.9 L350.9 109.9 L351.3 109.9 L351.6 109.9 L351.9 109.9 L352.3 109.9 L352.6 109.9 L352.9 109.9 L353.3 109.9 L353.6 109.9 L354 109.9 L354.3 109.9 L354.6 109.9 L355 109.9 L355.3 109.9 L355.7 109.9 L356 109.9 L356.3 109.9 L356.7 109.9 L357 109.9 L357.3 109.9 L357.7 109.9 L358 109.9 L358.4 109.9 L358.7 109.9 L359 109.9 L359.4 109.9 L359.7 109.9 L360 109.9 L360.4 109.9 L360.7 109.9 L361.1 109.9 L361.4 109.9 L361.7 109.9 L362.1 109.9 L362.4 109.9 L362.7 109.9 L363.1 109.9 L363.4 109.9 L363.8 109.9 L364.1 109.9 L364.4 109.9 L364.8 109.9 L365.1 109.9 L365.4 109.9 L365.8 109.9 L366.1 109.9 L366.5 109.9 L366.8 109.9 L367.1 109.9 L367.5 109.9 L367.8 109.9 L368.2 109.9 L368.5 109.9 L368.8 109.9 L369.2 109.9 L369.5 109.9 L369.8 109.9 L370.2 109.9 L370.5 109.9 L370.9 109.9 L371.2 109.9 L371.5 109.9 L371.9 109.9 L372.2 109.9 L372.5 109.9 L372.9 109.9 L373.2 109.9 L373.6 109.9 L373.9 109.9 L374.2 109.9 L374.6 109.9 L374.9 109.9 L375.2 109.9 L375.6 109.9 L375.9 109.9 L376.3 109.9 L376.6 109.9 L376.9 109.9 L377.3 109.9 L377.6 109.9 L377.9 109.9 L378.3 109.9 L378.6 109.9 L379 109.9 L379.3 109.9 L379.6 109.9 L380 109.9 L380.3 109.9 L380.7 109.9 L381 109.9 L381.3 109.9 L381.7 109.9 L382 109.9 L382.3 109.9 L382.7 109.9 L383 109.9 L383.4 109.9 L383.7 109.9 L384 109.9 L384.4 109.9 L384.7 109.9 L385 109.9 L385.4 109.9 L385.7 109.9 L386.1 109.9 L386.4 109.9 L386.7 109.9 L387.1 109.9 L387.4 109.9 L387.7 109.9 L388.1 109.9 L388.4 109.9 L388.8 109.9 L389.1 109.9 L389.4 109.9 L389.8 109.9 L390.1 109.9 L390.5 109.9 L390.8 109.9 L391.1 109.9 L391.5 109.9 L391.8 109.9 L392.1 109.9 L392.5 109.9 L392.8 109.9 L393.2 109.9 L393.5 109.9 L393.8 109.9 L394.2 109.9 L394.5 109.9 L394.8 109.9 L395.2 109.9 L395.5 109.9 L395.9 109.9 L396.2 109.9 L396.5 109.9 L396.9 109.9 L397.2 109.9 L397.5 109.9 L397.9 109.9 L398.2 109.9 L398.6 109.9 L398.9 109.9 L399.2 109.9 L399.6 109.9 L399.9 109.9 L400.2 109.9 L400.6 109.9 L400.9 109.9 L401.3 109.9 L401.6 109.9 L401.9 109.9 L402.3 109.9 L402.6 109.9 L403 109.9 L403.3 109.9 L403.6 109.9 L404 109.9 L404.3 109.9 L404.6 109.9 L405 109.9 L405.3 109.9 L405.7 109.9 L406 109.9 L406.3 109.8 L406.7 109.8 L407 109.8 L407.3 109.8 L407.7 109.7 L408 109.7 L408.4 109.6 L408.7 109.6 L409 109.5 L409.4 109.5 L409.7 109.4 L410 109.3 L410.4 109.3 L410.7 109.2 L411.1 109.1 L411.4 109 L411.7 109 L412.1 108.9 L412.4 108.8 L412.8 108.6 L413.1 108.5 L413.4 108.3 L413.8 108.1 L414.1 107.9 L414.4 107.6 L414.8 107.4 L415.1 107.1 L415.5 106.9 L415.8 106.6 L416.1 106.4 L416.5 106.1 L416.8 105.9 L417.1 105.5 L417.5 105.2 L417.8 104.8 L418.2 104.4 L418.5 104.1 L418.8 103.9 L419.2 103.7 L419.5 103.7 L419.8 103.8 L420.2 104 L420.5 104.3 L420.9 104.7 L421.2 105.1 L421.5 105.4 L421.9 105.8 L422.2 106.1 L422.5 106.4 L422.9 106.6 L423.2 106.9 L423.6 107.2 L423.9 107.4 L424.2 107.7 L424.6 108 L424.9 108.2 L425.3 108.5 L425.6 108.7 L425.9 108.9 L426.3 109.2 L426.6 109.4 L426.9 109.6 L427.3 109.8 L427.6 110 L428 110.2 L428.3 110.4 L428.6 110.6 L429 110.8 L429.3 111 L429.6 111.2 L430 111.4 L430.3 111.6 L430.7 111.8 L431 112.1 L431.3 112.3 L431.7 112.6 L432 112.9 L432.3 113.1 L432.7 113.4 L433 113.7 L433.4 113.9 L433.7 114.2 L434 114.4 L434.4 114.7 L434.7 114.9 L435.1 115.1 L435.4 115.3 L435.7 115.5 L436.1 115.6 L436.4 115.6 L436.7 115.5 L437.1 115.3 L437.4 115 L437.8 114.6 L438.1 114.2 L438.4 113.9 L438.8 113.6 L439.1 113.3 L439.4 113 L439.8 112.7 L440.1 112.4 L440.5 112.1 L440.8 111.8 L441.1 111.6 L441.5 111.3 L441.8 111.1 L442.1 111 L442.5 110.8 L442.8 110.7 L443.2 110.6 L443.5 110.5 L443.8 110.4 L444.2 110.3 L444.5 110.2 L444.8 110.2 L445.2 110.1 L445.5 110 L445.9 110 L446.2 109.9 L446.5 109.9 L446.9 109.9 L447.2 109.9 L447.6 109.9 L447.9 109.9 L448.2 109.9 L448.6 109.9 L448.9 109.9 L449.2 109.9 L449.6 109.9 L449.9 109.9 L450.3 109.9 L450.6 109.9 L450.9 109.9 L451.3 109.9 L451.6 109.9 L451.9 109.9 L452.3 109.9 L452.6 109.9 L453 109.9 L453.3 109.9 L453.6 109.9 L454 109.9 L454.3 109.9 L454.6 109.8 L455 109.7 L455.3 109.6 L455.7 109.4 L456 109.2 L456.3 109 L456.7 108.7 L457 108.4 L457.4 108.1 L457.7 107.6 L458 106.8 L458.4 105.9 L458.7 105 L459 104.4 L459.4 104.2 L459.7 105.4 L460.1 107.2 L460.4 108.3 L460.7 109.1 L461.1 109.6 L461.4 109.9 L461.7 109.9 L462.1 109.9 L462.4 109.9 L462.8 109.9 L463.1 109.9 L463.4 109.9 L463.8 109.9 L464.1 109.9 L464.4 109.9 L464.8 109.9 L465.1 109.9 L465.5 109.9 L465.8 109.9 L466.1 109.9 L466.5 109.9 L466.8 109.9 L467.1 109.9 L467.5 109.9 L467.8 109.9 L468.2 109.9 L468.5 109.9 L468.8 109.9 L469.2 109.9 L469.5 109.9 L469.9 109.9 L470.2 109.9 L470.5 109.9 L470.9 109.9 L471.2 109.9 L471.5 109.9 L471.9 109.9 L472.2 109.9 L472.6 109.9 L472.9 109.9 L473.2 109.9 L473.6 109.9 L473.9 109.9 L474.2 109.9 L474.6 109.9 L474.9 109.9 L475.3 109.9 L475.6 109.9 L475.9 109.9 L476.3 109.9 L476.6 109.9 L476.9 109.9 L477.3 109.9 L477.6 109.9 L478 109.9 L478.3 109.9 L478.6 109.9 L479 109.9 L479.3 109.9 L479.7 109.9 L480 109.9 L480.3 109.9 L480.7 109.9 L481 109.9 L481.3 109.9 L481.7 109.9 L482 109.9 L482.4 109.9 L482.7 109.9 L483 109.9 L483.4 109.9 L483.7 109.9 L484 109.9 L484.4 109.9 L484.7 109.9 L485.1 109.9 L485.4 109.9 L485.7 109.9 L486.1 109.9 L486.4 109.9 L486.7 109.9 L487.1 109.9 L487.4 109.9 L487.8 109.9 L488.1 109.9 L488.4 109.9 L488.8 109.9 L489.1 109.9 L489.4 109.9 L489.8 109.9 L490.1 109.9 L490.5 109.9 L490.8 109.9 L491.1 109.9 L491.5 109.9 L491.8 109.9 L492.2 109.9 L492.5 109.9 L492.8 109.9 L493.2 109.9 L493.5 109.9 L493.8 109.9 L494.2 109.9 L494.5 109.9 L494.9 109.9 L495.2 109.9 L495.5 109.9 L495.9 109.9 L496.2 109.9 L496.5 109.9 L496.9 109.9 L497.2 109.9 L497.6 109.9 L497.9 109.9 L498.2 109.9 L498.6 109.9 L498.9 109.9 L499.2 109.9 L499.6 109.9 L499.9 109.9 L500.3 109.9 L500.6 109.9 L500.9 109.9 L501.3 109.9 L501.6 109.9 L501.9 109.9 L502.3 109.9 L502.6 109.9 L503 109.9 L503.3 109.9 L503.6 109.9 L504 109.9 L504.3 109.9 L504.7 109.9 L505 109.9 L505.3 109.9 L505.7 109.9 L506 109.9 L506.3 109.9 L506.7 109.9 L507 109.9 L507.4 109.9 L507.7 109.9 L508 109.9 L508.4 109.9 L508.7 109.9 L509 109.9 L509.4 109.9 L509.7 109.9 L510.1 109.9 L510.4 109.9 L510.7 109.9 L511.1 109.9 L511.4 109.9 L511.7 109.9 L512.1 109.9 L512.4 109.9 L512.8 109.9 L513.1 109.9 L513.4 109.9 L513.8 109.9 L514.1 109.9 L514.5 109.9 L514.8 109.9 L515.1 109.9 L515.5 109.9 L515.8 109.9 L516.1 109.9 L516.5 109.9 L516.8 109.9 L517.2 109.9 L517.5 109.9 L517.8 109.9 L518.2 109.9 L518.5 109.9 L518.8 109.9 L519.2 109.9 L519.5 109.9 L519.9 109.9 L520.2 109.9 L520.5 109.9 L520.9 109.9 L521.2 109.9 L521.5 109.9 L521.9 109.9 L522.2 109.9 L522.6 109.9 L522.9 109.9 L523.2 109.9 L523.6 109.9 L523.9 109.9 L524.2 109.9 L524.6 109.9 L524.9 109.9 L525.3 109.9 L525.6 109.9 L525.9 109.9 L526.3 109.9 L526.6 109.9 L527 109.9 L527.3 109.9 L527.6 109.9 L528 109.9 L528.3 109.9 L528.6 109.9 L529 109.9 L529.3 109.9 L529.7 109.9 L530 109.9 L530.3 109.9 L530.7 109.9 L531 109.9 L531.3 109.9 L531.7 109.9 L532 109.9 L532.4 109.9 L532.7 109.9 L533 109.9 L533.4 109.9 L533.7 109.9 L534 109.9 L534.4 109.9 L534.7 109.9 L535.1 109.9 L535.4 109.9 L535.7 109.9 L536.1 109.9 L536.4 109.9 L536.8 109.9 L537.1 109.9 L537.4 109.9 L537.8 109.9 L538.1 109.9 L538.4 109.9 L538.8 109.9 L539.1 109.9 L539.5 109.9 L539.8 109.9 L540.1 109.9 L540.5 109.9 L540.8 109.9 L541.1 109.9 L541.5 109.9 L541.8 109.9 L542.2 109.9 L542.5 109.9 L542.8 109.9 L543.2 109.9 L543.5 109.9 L543.8 109.9" fill="none" stroke="#b378cb" stroke-width="1.1" stroke-linejoin="round" clip-path="url(#clipb)" />
<path d="M307.7 111.5 L308 111.4 L308.3 111.2 L308.7 111.1 L309 110.9 L309.4 110.8 L309.7 110.6 L310 110.5 L310.4 110.4 L310.7 110.4 L311.1 110.4 L311.4 110.4 L311.7 110.4 L312.1 110.4 L312.4 110.3 L312.7 110.3 L313.1 110.3 L313.4 110.3 L313.8 110.3 L314.1 110.3 L314.4 110.3 L314.8 110.3 L315.1 110.3 L315.4 110.3 L315.8 110.3 L316.1 110.3 L316.5 110.3 L316.8 110.3 L317.1 110.3 L317.5 110.3 L317.8 110.3 L318.1 110.3 L318.5 110.3 L318.8 110.2 L319.2 110.2 L319.5 110.2 L319.8 110.2 L320.2 110.2 L320.5 110.2 L320.8 110.2 L321.2 110.2 L321.5 110.2 L321.9 110.2 L322.2 110.2 L322.5 110.2 L322.9 110.2 L323.2 110.2 L323.6 110.2 L323.9 110.2 L324.2 110.2 L324.6 110.2 L324.9 110.2 L325.2 110.2 L325.6 110.2 L325.9 110.2 L326.3 110.2 L326.6 110.1 L326.9 110.1 L327.3 110.1 L327.6 110.1 L327.9 110.1 L328.3 110.1 L328.6 110.1 L329 110.1 L329.3 110.1 L329.6 110.1 L330 110.1 L330.3 110.1 L330.6 110.1 L331 110.1 L331.3 110.1 L331.7 110.1 L332 110.1 L332.3 110.1 L332.7 110.1 L333 110.1 L333.4 110.1 L333.7 110.1 L334 110.1 L334.4 110.1 L334.7 110.1 L335 110.1 L335.4 110.1 L335.7 110.1 L336.1 110.1 L336.4 110.1 L336.7 110 L337.1 110 L337.4 110 L337.7 110 L338.1 110 L338.4 110 L338.8 110 L339.1 110 L339.4 110 L339.8 110 L340.1 110 L340.4 110 L340.8 110 L341.1 110 L341.5 110 L341.8 110 L342.1 110 L342.5 110 L342.8 110 L343.1 110 L343.5 110 L343.8 110 L344.2 110 L344.5 110 L344.8 110 L345.2 110 L345.5 110 L345.9 110 L346.2 110 L346.5 110 L346.9 110 L347.2 110 L347.5 110 L347.9 110 L348.2 110 L348.6 110 L348.9 110 L349.2 110 L349.6 110 L349.9 110 L350.2 110 L350.6 110 L350.9 110 L351.3 110 L351.6 110 L351.9 110 L352.3 110 L352.6 110 L352.9 110 L353.3 109.9 L353.6 109.9 L354 109.9 L354.3 109.9 L354.6 109.9 L355 109.9 L355.3 109.9 L355.7 109.9 L356 109.9 L356.3 109.9 L356.7 109.9 L357 109.9 L357.3 109.9 L357.7 109.9 L358 109.9 L358.4 109.9 L358.7 109.9 L359 109.9 L359.4 109.9 L359.7 109.9 L360 109.9 L360.4 109.9 L360.7 109.9 L361.1 109.9 L361.4 109.9 L361.7 109.9 L362.1 109.9 L362.4 109.9 L362.7 109.9 L363.1 109.9 L363.4 109.9 L363.8 109.9 L364.1 109.9 L364.4 109.9 L364.8 109.9 L365.1 109.9 L365.4 109.9 L365.8 109.9 L366.1 109.9 L366.5 109.9 L366.8 109.9 L367.1 109.9 L367.5 109.9 L367.8 109.9 L368.2 109.9 L368.5 109.9 L368.8 109.9 L369.2 109.9 L369.5 109.9 L369.8 109.9 L370.2 109.9 L370.5 109.9 L370.9 109.9 L371.2 109.9 L371.5 109.9 L371.9 109.9 L372.2 109.9 L372.5 109.9 L372.9 109.9 L373.2 109.9 L373.6 109.9 L373.9 109.9 L374.2 109.9 L374.6 109.9 L374.9 109.9 L375.2 109.9 L375.6 109.9 L375.9 109.9 L376.3 109.9 L376.6 109.9 L376.9 109.9 L377.3 109.9 L377.6 109.9 L377.9 109.9 L378.3 109.9 L378.6 109.9 L379 109.9 L379.3 109.9 L379.6 109.9 L380 109.9 L380.3 109.9 L380.7 109.9 L381 109.9 L381.3 109.9 L381.7 109.9 L382 109.9 L382.3 109.9 L382.7 109.9 L383 109.9 L383.4 109.9 L383.7 109.9 L384 109.9 L384.4 109.9 L384.7 109.9 L385 109.9 L385.4 109.9 L385.7 109.9 L386.1 109.9 L386.4 109.9 L386.7 109.9 L387.1 109.9 L387.4 109.9 L387.7 109.9 L388.1 109.9 L388.4 109.9 L388.8 109.9 L389.1 109.9 L389.4 109.9 L389.8 109.9 L390.1 109.9 L390.5 109.9 L390.8 109.9 L391.1 109.9 L391.5 109.9 L391.8 109.9 L392.1 109.9 L392.5 109.9 L392.8 109.9 L393.2 109.9 L393.5 109.9 L393.8 109.9 L394.2 109.9 L394.5 109.9 L394.8 109.9 L395.2 109.9 L395.5 109.9 L395.9 109.9 L396.2 109.9 L396.5 109.9 L396.9 109.9 L397.2 109.9 L397.5 109.9 L397.9 109.9 L398.2 109.9 L398.6 109.9 L398.9 109.9 L399.2 109.9 L399.6 109.9 L399.9 109.9 L400.2 109.9 L400.6 109.9 L400.9 109.9 L401.3 109.9 L401.6 109.9 L401.9 109.9 L402.3 109.9 L402.6 109.9 L403 109.9 L403.3 109.9 L403.6 109.9 L404 109.9 L404.3 109.9 L404.6 109.9 L405 109.9 L405.3 109.9 L405.7 109.9 L406 109.9 L406.3 109.9 L406.7 109.9 L407 109.9 L407.3 109.9 L407.7 109.9 L408 109.9 L408.4 109.9 L408.7 109.9 L409 109.9 L409.4 109.9 L409.7 109.9 L410 109.9 L410.4 109.9 L410.7 109.9 L411.1 109.9 L411.4 109.9 L411.7 109.9 L412.1 109.9 L412.4 110 L412.8 110 L413.1 110 L413.4 110 L413.8 110 L414.1 110 L414.4 110.1 L414.8 110.1 L415.1 110.1 L415.5 110.1 L415.8 110.1 L416.1 110.2 L416.5 110.2 L416.8 110.2 L417.1 110.2 L417.5 110.3 L417.8 110.3 L418.2 110.3 L418.5 110.3 L418.8 110.4 L419.2 110.4 L419.5 110.4 L419.8 110.5 L420.2 110.5 L420.5 110.5 L420.9 110.6 L421.2 110.6 L421.5 110.7 L421.9 110.8 L422.2 110.8 L422.5 110.9 L422.9 110.9 L423.2 111 L423.6 111.1 L423.9 111.2 L424.2 111.3 L424.6 111.4 L424.9 111.5 L425.3 111.6 L425.6 111.7 L425.9 111.8 L426.3 111.9 L426.6 112.1 L426.9 112.3 L427.3 112.6 L427.6 112.9 L428 113.2 L428.3 113.5 L428.6 113.9 L429 114.3 L429.3 114.7 L429.6 115.2 L430 115.6 L430.3 116.1 L430.7 116.6 L431 117.2 L431.3 117.9 L431.7 118.6 L432 119.5 L432.3 120.4 L432.7 121.3 L433 122.2 L433.4 123 L433.7 123.8 L434 124.4 L434.4 125.1 L434.7 125.8 L435.1 126.4 L435.4 127.1 L435.7 127.6 L436.1 127.9 L436.4 128 L436.7 127.6 L437.1 126.4 L437.4 124.5 L437.8 122.3 L438.1 120 L438.4 117.4 L438.8 114.2 L439.1 110.5 L439.4 106.6 L439.8 102.9 L440.1 98.8 L440.5 94.7 L440.8 90.9 L441.1 87.5 L441.5 83.9 L441.8 81.5 L442.1 82.6 L442.5 88.3 L442.8 94.8 L443.2 100.9 L443.5 107.3 L443.8 109.9 L444.2 109.9 L444.5 109.9 L444.8 109.9 L445.2 109.9 L445.5 121.7 L445.9 146.3 L446.2 157.5 L446.5 150.4 L446.9 139 L447.2 132.3 L447.6 128.4 L447.9 125.3 L448.2 122.9 L448.6 121.1 L448.9 119.6 L449.2 118.3 L449.6 117.2 L449.9 116.2 L450.3 115.4 L450.6 114.7 L450.9 114.1 L451.3 113.5 L451.6 113 L451.9 112.5 L452.3 112.1 L452.6 111.7 L453 111.4 L453.3 111.1 L453.6 110.9 L454 110.7 L454.3 110.5 L454.6 110.4 L455 110.2 L455.3 110.1 L455.7 110 L456 109.9 L456.3 109.9 L456.7 109.9 L457 109.9 L457.4 109.9 L457.7 109.9 L458 109.9 L458.4 109.9 L458.7 109.9 L459 109.9 L459.4 109.9 L459.7 109.9 L460.1 109.9 L460.4 109.9 L460.7 109.9 L461.1 109.9 L461.4 109.9 L461.7 109.9 L462.1 109.9 L462.4 109.9 L462.8 109.9 L463.1 110 L463.4 110.2 L463.8 110.5 L464.1 110.8 L464.4 111.2 L464.8 111.6 L465.1 112.1 L465.5 112.9 L465.8 113.9 L466.1 115.1 L466.5 116.3 L466.8 117.5 L467.1 118.6 L467.5 119.7 L467.8 120.9 L468.2 122 L468.5 122.9 L468.8 123.4 L469.2 123.9 L469.5 124.2 L469.9 124.1 L470.2 123.4 L470.5 122.3 L470.9 121.1 L471.2 120 L471.5 118.7 L471.9 117.3 L472.2 115.9 L472.6 114.7 L472.9 113.8 L473.2 113.2 L473.6 112.7 L473.9 112.2 L474.2 111.8 L474.6 111.4 L474.9 111.1 L475.3 110.9 L475.6 110.7 L475.9 110.5 L476.3 110.4 L476.6 110.2 L476.9 110.1 L477.3 110 L477.6 109.8 L478 109.7 L478.3 109.6 L478.6 109.6 L479 109.5 L479.3 109.5 L479.7 109.4 L480 109.4 L480.3 109.4 L480.7 109.4 L481 109.4 L481.3 109.4 L481.7 109.4 L482 109.4 L482.4 109.4 L482.7 109.4 L483 109.4 L483.4 109.4 L483.7 109.4 L484 109.4 L484.4 109.4 L484.7 109.4 L485.1 109.4 L485.4 109.4 L485.7 109.4 L486.1 109.4 L486.4 109.4 L486.7 109.4 L487.1 109.4 L487.4 109.4 L487.8 109.4 L488.1 109.4 L488.4 109.4 L488.8 109.4 L489.1 109.4 L489.4 109.4 L489.8 109.4 L490.1 109.4 L490.5 109.4 L490.8 109.4 L491.1 109.4 L491.5 109.4 L491.8 109.4 L492.2 109.4 L492.5 109.4 L492.8 109.4 L493.2 109.4 L493.5 109.4 L493.8 109.4 L494.2 109.4 L494.5 109.4 L494.9 109.4 L495.2 109.4 L495.5 109.4 L495.9 109.4 L496.2 109.4 L496.5 109.4 L496.9 109.4 L497.2 109.4 L497.6 109.4 L497.9 109.4 L498.2 109.4 L498.6 109.4 L498.9 109.4 L499.2 109.4 L499.6 109.4 L499.9 109.4 L500.3 109.4 L500.6 109.4 L500.9 109.4 L501.3 109.4 L501.6 109.4 L501.9 109.4 L502.3 109.4 L502.6 109.4 L503 109.4 L503.3 109.4 L503.6 109.4 L504 109.4 L504.3 109.4 L504.7 109.4 L505 109.4 L505.3 109.4 L505.7 109.4 L506 109.4 L506.3 109.4 L506.7 109.4 L507 109.4 L507.4 109.4 L507.7 109.4 L508 109.4 L508.4 109.4 L508.7 109.4 L509 109.4 L509.4 109.4 L509.7 109.4 L510.1 109.4 L510.4 109.4 L510.7 109.4 L511.1 109.4 L511.4 109.4 L511.7 109.4 L512.1 109.4 L512.4 109.4 L512.8 109.4 L513.1 109.4 L513.4 109.4 L513.8 109.4 L514.1 109.4 L514.5 109.4 L514.8 109.4 L515.1 109.4 L515.5 109.4 L515.8 109.4 L516.1 109.4 L516.5 109.4 L516.8 109.4 L517.2 109.4 L517.5 109.4 L517.8 109.4 L518.2 109.4 L518.5 109.4 L518.8 109.4 L519.2 109.4 L519.5 109.4 L519.9 109.4 L520.2 109.4 L520.5 109.4 L520.9 109.4 L521.2 109.4 L521.5 109.4 L521.9 109.4 L522.2 109.4 L522.6 109.4 L522.9 109.4 L523.2 109.4 L523.6 109.4 L523.9 109.4 L524.2 109.4 L524.6 109.4 L524.9 109.4 L525.3 109.4 L525.6 109.4 L525.9 109.4 L526.3 109.4 L526.6 109.4 L527 109.4 L527.3 109.4 L527.6 109.4 L528 109.4 L528.3 109.4 L528.6 109.4 L529 109.4 L529.3 109.4 L529.7 109.4 L530 109.4 L530.3 109.4 L530.7 109.4 L531 109.4 L531.3 109.4 L531.7 109.4 L532 109.4 L532.4 109.4 L532.7 109.4 L533 109.4 L533.4 109.4 L533.7 109.4 L534 109.4 L534.4 109.4 L534.7 109.4 L535.1 109.4 L535.4 109.4 L535.7 109.4 L536.1 109.4 L536.4 109.4 L536.8 109.4 L537.1 109.4 L537.4 109.4 L537.8 109.4 L538.1 109.4 L538.4 109.4 L538.8 109.4 L539.1 109.4 L539.5 109.4 L539.8 109.4 L540.1 109.4 L540.5 109.4 L540.8 109.4 L541.1 109.4 L541.5 109.4 L541.8 109.4 L542.2 109.4 L542.5 109.4 L542.8 109.4 L543.2 109.4 L543.5 109.4 L543.8 109.4" fill="none" stroke="#f8a440" stroke-width="1.2" stroke-linejoin="round" clip-path="url(#clipb)" />
<path d="M307.7 111 L308 110.9 L308.3 110.7 L308.7 110.6 L309 110.4 L309.4 110.3 L309.7 110.1 L310 110 L310.4 109.9 L310.7 109.9 L311.1 109.9 L311.4 109.9 L311.7 109.9 L312.1 109.9 L312.4 109.9 L312.7 109.9 L313.1 109.9 L313.4 109.9 L313.8 109.9 L314.1 109.9 L314.4 109.9 L314.8 109.9 L315.1 109.9 L315.4 109.9 L315.8 109.9 L316.1 109.9 L316.5 109.9 L316.8 109.9 L317.1 109.9 L317.5 109.9 L317.8 109.9 L318.1 109.9 L318.5 109.9 L318.8 109.9 L319.2 109.9 L319.5 109.9 L319.8 109.9 L320.2 109.9 L320.5 109.9 L320.8 109.9 L321.2 109.9 L321.5 109.9 L321.9 109.9 L322.2 109.9 L322.5 109.9 L322.9 109.9 L323.2 109.9 L323.6 109.9 L323.9 109.9 L324.2 109.9 L324.6 109.9 L324.9 109.9 L325.2 109.9 L325.6 109.9 L325.9 109.9 L326.3 109.9 L326.6 109.9 L326.9 109.9 L327.3 109.9 L327.6 109.9 L327.9 109.9 L328.3 109.9 L328.6 109.9 L329 109.9 L329.3 109.9 L329.6 109.9 L330 109.9 L330.3 109.9 L330.6 109.9 L331 109.9 L331.3 109.9 L331.7 109.9 L332 109.9 L332.3 109.9 L332.7 109.9 L333 109.9 L333.4 109.9 L333.7 109.9 L334 109.9 L334.4 109.9 L334.7 109.9 L335 109.9 L335.4 109.9 L335.7 109.9 L336.1 109.9 L336.4 109.9 L336.7 109.9 L337.1 109.9 L337.4 109.9 L337.7 109.9 L338.1 109.9 L338.4 109.9 L338.8 109.9 L339.1 109.9 L339.4 109.9 L339.8 109.9 L340.1 109.8 L340.4 109.8 L340.8 109.7 L341.1 109.7 L341.5 109.6 L341.8 109.6 L342.1 109.5 L342.5 109.4 L342.8 109.4 L343.1 109.3 L343.5 109.2 L343.8 109.2 L344.2 109.1 L344.5 109.1 L344.8 109 L345.2 109 L345.5 109 L345.9 108.9 L346.2 108.9 L346.5 109 L346.9 109 L347.2 109 L347.5 109.1 L347.9 109.2 L348.2 109.2 L348.6 109.3 L348.9 109.4 L349.2 109.5 L349.6 109.6 L349.9 109.8 L350.2 109.9 L350.6 110 L350.9 110.1 L351.3 110.2 L351.6 110.4 L351.9 110.5 L352.3 110.6 L352.6 110.7 L352.9 110.8 L353.3 110.9 L353.6 111 L354 111.1 L354.3 111.2 L354.6 111.3 L355 111.4 L355.3 111.5 L355.7 111.6 L356 111.7 L356.3 111.9 L356.7 112 L357 112.1 L357.3 112.2 L357.7 112.3 L358 112.4 L358.4 112.5 L358.7 112.6 L359 112.8 L359.4 112.9 L359.7 113 L360 113.1 L360.4 113.2 L360.7 113.3 L361.1 113.4 L361.4 113.6 L361.7 113.7 L362.1 113.8 L362.4 113.9 L362.7 114 L363.1 114.1 L363.4 114.2 L363.8 114.3 L364.1 114.4 L364.4 114.5 L364.8 114.6 L365.1 114.8 L365.4 114.9 L365.8 115 L366.1 115.1 L366.5 115.1 L366.8 115.2 L367.1 115.3 L367.5 115.4 L367.8 115.5 L368.2 115.6 L368.5 115.7 L368.8 115.8 L369.2 115.9 L369.5 116 L369.8 116.1 L370.2 116.2 L370.5 116.3 L370.9 116.4 L371.2 116.5 L371.5 116.6 L371.9 116.6 L372.2 116.7 L372.5 116.8 L372.9 116.9 L373.2 117.1 L373.6 117.2 L373.9 117.3 L374.2 117.4 L374.6 117.5 L374.9 117.6 L375.2 117.7 L375.6 117.9 L375.9 118 L376.3 118.2 L376.6 118.3 L376.9 118.5 L377.3 118.7 L377.6 118.9 L377.9 119.1 L378.3 119.2 L378.6 119.4 L379 119.6 L379.3 119.8 L379.6 120 L380 120.1 L380.3 120.3 L380.7 120.5 L381 120.6 L381.3 120.7 L381.7 120.9 L382 121 L382.3 121.1 L382.7 121.2 L383 121.3 L383.4 121.3 L383.7 121.3 L384 121.4 L384.4 121.4 L384.7 121.3 L385 121.2 L385.4 121.1 L385.7 121 L386.1 120.8 L386.4 120.7 L386.7 120.5 L387.1 120.3 L387.4 120 L387.7 119.8 L388.1 119.6 L388.4 119.4 L388.8 119.1 L389.1 118.9 L389.4 118.7 L389.8 118.5 L390.1 118.3 L390.5 118.1 L390.8 117.9 L391.1 117.6 L391.5 117.4 L391.8 117.2 L392.1 116.9 L392.5 116.7 L392.8 116.4 L393.2 116.2 L393.5 116 L393.8 115.7 L394.2 115.5 L394.5 115.2 L394.8 115 L395.2 114.8 L395.5 114.6 L395.9 114.4 L396.2 114.2 L396.5 113.9 L396.9 113.7 L397.2 113.4 L397.5 113.2 L397.9 113 L398.2 112.7 L398.6 112.5 L398.9 112.3 L399.2 112 L399.6 111.8 L399.9 111.6 L400.2 111.5 L400.6 111.3 L400.9 111.2 L401.3 111 L401.6 111 L401.9 110.9 L402.3 110.9 L402.6 110.9 L403 110.9 L403.3 110.9 L403.6 111 L404 111 L404.3 111.1 L404.6 111.2 L405 111.3 L405.3 111.4 L405.7 111.6 L406 111.7 L406.3 111.9 L406.7 112.2 L407 112.6 L407.3 113.2 L407.7 113.9 L408 114.6 L408.4 115.5 L408.7 116.3 L409 117.2 L409.4 118.1 L409.7 119.1 L410 120.2 L410.4 121.4 L410.7 122.7 L411.1 124.1 L411.4 125.5 L411.7 126.8 L412.1 128.1 L412.4 129.3 L412.8 130.7 L413.1 132.1 L413.4 133.2 L413.8 133.8 L414.1 133.4 L414.4 132.3 L414.8 130.7 L415.1 128.8 L415.5 126.9 L415.8 125.3 L416.1 123.5 L416.5 121.6 L416.8 119.7 L417.1 117.9 L417.5 116.3 L417.8 115.1 L418.2 114.2 L418.5 113.4 L418.8 112.6 L419.2 111.9 L419.5 111.3 L419.8 110.7 L420.2 110.3 L420.5 110 L420.9 109.9 L421.2 109.8 L421.5 109.7 L421.9 109.6 L422.2 109.5 L422.5 109.5 L422.9 109.5 L423.2 109.4 L423.6 109.4 L423.9 109.4 L424.2 109.3 L424.6 109.3 L424.9 109.2 L425.3 109.1 L425.6 109.1 L425.9 109 L426.3 108.8 L426.6 108.6 L426.9 108.4 L427.3 108 L427.6 107.7 L428 107.2 L428.3 106.8 L428.6 106.2 L429 105.6 L429.3 105 L429.6 104 L430 102.7 L430.3 101.1 L430.7 99.3 L431 97.3 L431.3 95.2 L431.7 93.1 L432 91.1 L432.3 89 L432.7 86.6 L433 83.9 L433.4 81.4 L433.7 79 L434 77 L434.4 75.6 L434.7 74.7 L435.1 73.8 L435.4 73.2 L435.7 72.9 L436.1 73.1 L436.4 74.1 L436.7 75.7 L437.1 77.6 L437.4 79.5 L437.8 82.2 L438.1 85.5 L438.4 88.9 L438.8 92 L439.1 94.6 L439.4 96.8 L439.8 99 L440.1 101 L440.5 102.3 L440.8 102.7 L441.1 102.4 L441.5 101.8 L441.8 101.1 L442.1 100.5 L442.5 100.5 L442.8 103.6 L443.2 107.2 L443.5 107.8 L443.8 106.5 L444.2 104.3 L444.5 101.5 L444.8 98.5 L445.2 95.8 L445.5 93.2 L445.9 90.2 L446.2 87.8 L446.5 86.5 L446.9 85.6 L447.2 85 L447.6 84.7 L447.9 84.9 L448.2 85.5 L448.6 86.3 L448.9 87.3 L449.2 88.3 L449.6 89.2 L449.9 90.2 L450.3 91.4 L450.6 92.6 L450.9 93.8 L451.3 95 L451.6 96.2 L451.9 97.3 L452.3 98.3 L452.6 99.1 L453 99.8 L453.3 100.5 L453.6 101.2 L454 101.8 L454.3 102.4 L454.6 102.8 L455 103.1 L455.3 103.2 L455.7 103.2 L456 103.1 L456.3 103 L456.7 102.8 L457 102.6 L457.4 102.3 L457.7 101.7 L458 100.3 L458.4 98.7 L458.7 97.6 L459 97.7 L459.4 99.2 L459.7 101.4 L460.1 103.8 L460.4 106 L460.7 108.9 L461.1 111.8 L461.4 114 L461.7 114.7 L462.1 114.3 L462.4 113.7 L462.8 113 L463.1 112.3 L463.4 111.9 L463.8 111.7 L464.1 111.7 L464.4 111.6 L464.8 111.5 L465.1 111.4 L465.5 111.3 L465.8 111.3 L466.1 111.2 L466.5 111.2 L466.8 111.1 L467.1 111.1 L467.5 111 L467.8 111 L468.2 111 L468.5 110.9 L468.8 110.9 L469.2 110.9 L469.5 110.9 L469.9 110.9 L470.2 110.9 L470.5 110.9 L470.9 110.9 L471.2 110.8 L471.5 110.8 L471.9 110.8 L472.2 110.8 L472.6 110.8 L472.9 110.8 L473.2 110.8 L473.6 110.8 L473.9 110.8 L474.2 110.8 L474.6 110.8 L474.9 110.8 L475.3 110.8 L475.6 110.8 L475.9 110.8 L476.3 110.8 L476.6 110.8 L476.9 110.8 L477.3 110.7 L477.6 110.7 L478 110.7 L478.3 110.7 L478.6 110.7 L479 110.7 L479.3 110.7 L479.7 110.7 L480 110.7 L480.3 110.7 L480.7 110.7 L481 110.7 L481.3 110.7 L481.7 110.7 L482 110.7 L482.4 110.7 L482.7 110.7 L483 110.7 L483.4 110.7 L483.7 110.7 L484 110.7 L484.4 110.7 L484.7 110.7 L485.1 110.6 L485.4 110.6 L485.7 110.6 L486.1 110.6 L486.4 110.6 L486.7 110.6 L487.1 110.6 L487.4 110.6 L487.8 110.6 L488.1 110.6 L488.4 110.6 L488.8 110.6 L489.1 110.6 L489.4 110.6 L489.8 110.6 L490.1 110.6 L490.5 110.6 L490.8 110.6 L491.1 110.6 L491.5 110.6 L491.8 110.6 L492.2 110.6 L492.5 110.6 L492.8 110.6 L493.2 110.6 L493.5 110.6 L493.8 110.6 L494.2 110.6 L494.5 110.5 L494.9 110.5 L495.2 110.5 L495.5 110.5 L495.9 110.5 L496.2 110.5 L496.5 110.5 L496.9 110.5 L497.2 110.5 L497.6 110.5 L497.9 110.5 L498.2 110.5 L498.6 110.5 L498.9 110.5 L499.2 110.5 L499.6 110.5 L499.9 110.5 L500.3 110.5 L500.6 110.5 L500.9 110.5 L501.3 110.5 L501.6 110.5 L501.9 110.5 L502.3 110.5 L502.6 110.5 L503 110.5 L503.3 110.5 L503.6 110.5 L504 110.5 L504.3 110.5 L504.7 110.5 L505 110.5 L505.3 110.5 L505.7 110.5 L506 110.5 L506.3 110.5 L506.7 110.5 L507 110.5 L507.4 110.5 L507.7 110.5 L508 110.5 L508.4 110.5 L508.7 110.5 L509 110.4 L509.4 110.4 L509.7 110.4 L510.1 110.4 L510.4 110.4 L510.7 110.4 L511.1 110.4 L511.4 110.4 L511.7 110.4 L512.1 110.4 L512.4 110.4 L512.8 110.4 L513.1 110.4 L513.4 110.4 L513.8 110.4 L514.1 110.4 L514.5 110.4 L514.8 110.4 L515.1 110.4 L515.5 110.4 L515.8 110.4 L516.1 110.4 L516.5 110.4 L516.8 110.4 L517.2 110.4 L517.5 110.4 L517.8 110.4 L518.2 110.4 L518.5 110.4 L518.8 110.4 L519.2 110.4 L519.5 110.4 L519.9 110.4 L520.2 110.4 L520.5 110.4 L520.9 110.4 L521.2 110.4 L521.5 110.4 L521.9 110.4 L522.2 110.4 L522.6 110.4 L522.9 110.4 L523.2 110.4 L523.6 110.4 L523.9 110.4 L524.2 110.4 L524.6 110.4 L524.9 110.4 L525.3 110.4 L525.6 110.4 L525.9 110.4 L526.3 110.4 L526.6 110.4 L527 110.4 L527.3 110.4 L527.6 110.4 L528 110.4 L528.3 110.4 L528.6 110.4 L529 110.4 L529.3 110.4 L529.7 110.4 L530 110.4 L530.3 110.4 L530.7 110.4 L531 110.4 L531.3 110.4 L531.7 110.4 L532 110.4 L532.4 110.4 L532.7 110.4 L533 110.4 L533.4 110.4 L533.7 110.4 L534 110.4 L534.4 110.4 L534.7 110.4 L535.1 110.4 L535.4 110.4 L535.7 110.4 L536.1 110.4 L536.4 110.4 L536.8 110.4 L537.1 110.4 L537.4 110.4 L537.8 110.4 L538.1 110.4 L538.4 110.4 L538.8 110.4 L539.1 110.4 L539.5 110.4 L539.8 110.4 L540.1 110.4 L540.5 110.4 L540.8 110.4 L541.1 110.4 L541.5 110.4 L541.8 110.4 L542.2 110.4 L542.5 110.4 L542.8 110.4 L543.2 110.4 L543.5 110.4 L543.8 110.4" fill="none" stroke="#4595d6" stroke-width="1.1" stroke-linejoin="round" clip-path="url(#clipb)" />
<path d="M307.7 111 L308 110.9 L308.3 110.7 L308.7 110.6 L309 110.4 L309.4 110.3 L309.7 110.1 L310 110 L310.4 109.9 L310.7 109.9 L311.1 109.9 L311.4 109.9 L311.7 109.9 L312.1 109.9 L312.4 109.9 L312.7 109.9 L313.1 109.9 L313.4 109.9 L313.8 109.9 L314.1 109.9 L314.4 109.9 L314.8 109.9 L315.1 109.9 L315.4 109.9 L315.8 109.9 L316.1 109.9 L316.5 109.9 L316.8 109.9 L317.1 109.9 L317.5 109.9 L317.8 109.9 L318.1 109.9 L318.5 109.9 L318.8 109.9 L319.2 110 L319.5 110 L319.8 110 L320.2 110 L320.5 110 L320.8 110 L321.2 110 L321.5 110 L321.9 110 L322.2 110 L322.5 110 L322.9 110 L323.2 110 L323.6 110 L323.9 110 L324.2 110 L324.6 110 L324.9 110 L325.2 110 L325.6 110 L325.9 110.1 L326.3 110.1 L326.6 110.1 L326.9 110.1 L327.3 110.1 L327.6 110.1 L327.9 110.1 L328.3 110.1 L328.6 110.1 L329 110.1 L329.3 110.1 L329.6 110.1 L330 110.1 L330.3 110.1 L330.6 110.2 L331 110.2 L331.3 110.2 L331.7 110.2 L332 110.2 L332.3 110.2 L332.7 110.2 L333 110.2 L333.4 110.2 L333.7 110.2 L334 110.2 L334.4 110.2 L334.7 110.3 L335 110.3 L335.4 110.3 L335.7 110.3 L336.1 110.3 L336.4 110.3 L336.7 110.3 L337.1 110.3 L337.4 110.3 L337.7 110.3 L338.1 110.4 L338.4 110.4 L338.8 110.4 L339.1 110.4 L339.4 110.4 L339.8 110.4 L340.1 110.4 L340.4 110.4 L340.8 110.4 L341.1 110.5 L341.5 110.5 L341.8 110.5 L342.1 110.5 L342.5 110.5 L342.8 110.6 L343.1 110.6 L343.5 110.6 L343.8 110.6 L344.2 110.6 L344.5 110.7 L344.8 110.7 L345.2 110.7 L345.5 110.7 L345.9 110.8 L346.2 110.8 L346.5 110.8 L346.9 110.9 L347.2 110.9 L347.5 110.9 L347.9 110.9 L348.2 111 L348.6 111 L348.9 111 L349.2 111.1 L349.6 111.1 L349.9 111.1 L350.2 111.1 L350.6 111.2 L350.9 111.2 L351.3 111.2 L351.6 111.3 L351.9 111.3 L352.3 111.3 L352.6 111.4 L352.9 111.4 L353.3 111.4 L353.6 111.5 L354 111.5 L354.3 111.5 L354.6 111.5 L355 111.6 L355.3 111.6 L355.7 111.6 L356 111.7 L356.3 111.7 L356.7 111.7 L357 111.7 L357.3 111.8 L357.7 111.8 L358 111.8 L358.4 111.9 L358.7 111.9 L359 111.9 L359.4 111.9 L359.7 112 L360 112 L360.4 112 L360.7 112.1 L361.1 112.1 L361.4 112.1 L361.7 112.2 L362.1 112.2 L362.4 112.2 L362.7 112.3 L363.1 112.3 L363.4 112.3 L363.8 112.4 L364.1 112.4 L364.4 112.4 L364.8 112.5 L365.1 112.5 L365.4 112.5 L365.8 112.6 L366.1 112.6 L366.5 112.6 L366.8 112.7 L367.1 112.7 L367.5 112.7 L367.8 112.8 L368.2 112.8 L368.5 112.8 L368.8 112.9 L369.2 112.9 L369.5 112.9 L369.8 112.9 L370.2 113 L370.5 113 L370.9 113 L371.2 113 L371.5 113.1 L371.9 113.1 L372.2 113.1 L372.5 113.1 L372.9 113.1 L373.2 113.2 L373.6 113.2 L373.9 113.2 L374.2 113.2 L374.6 113.2 L374.9 113.2 L375.2 113.2 L375.6 113.2 L375.9 113.2 L376.3 113.2 L376.6 113.2 L376.9 113.2 L377.3 113.2 L377.6 113.2 L377.9 113.2 L378.3 113.2 L378.6 113.2 L379 113.2 L379.3 113.2 L379.6 113.2 L380 113.2 L380.3 113.2 L380.7 113.2 L381 113.2 L381.3 113.2 L381.7 113.2 L382 113.2 L382.3 113.2 L382.7 113.2 L383 113.2 L383.4 113.2 L383.7 113.2 L384 113.2 L384.4 113.2 L384.7 113.2 L385 113.2 L385.4 113.2 L385.7 113.2 L386.1 113.2 L386.4 113.2 L386.7 113.2 L387.1 113.2 L387.4 113.2 L387.7 113.1 L388.1 113.1 L388.4 113.1 L388.8 113 L389.1 112.9 L389.4 112.9 L389.8 112.8 L390.1 112.7 L390.5 112.7 L390.8 112.6 L391.1 112.5 L391.5 112.4 L391.8 112.3 L392.1 112.2 L392.5 112.2 L392.8 112.1 L393.2 112 L393.5 111.9 L393.8 111.8 L394.2 111.7 L394.5 111.6 L394.8 111.5 L395.2 111.4 L395.5 111.3 L395.9 111.3 L396.2 111.2 L396.5 111.1 L396.9 111 L397.2 111 L397.5 110.9 L397.9 110.8 L398.2 110.8 L398.6 110.7 L398.9 110.7 L399.2 110.6 L399.6 110.6 L399.9 110.5 L400.2 110.5 L400.6 110.5 L400.9 110.4 L401.3 110.4 L401.6 110.3 L401.9 110.2 L402.3 110.2 L402.6 110.1 L403 110 L403.3 109.9 L403.6 109.8 L404 109.7 L404.3 109.5 L404.6 109.4 L405 109.2 L405.3 108.9 L405.7 108.7 L406 108.3 L406.3 108 L406.7 107.6 L407 107.2 L407.3 106.7 L407.7 106 L408 105 L408.4 103.8 L408.7 102.4 L409 100.8 L409.4 99.1 L409.7 97.2 L410 94.7 L410.4 91.6 L410.7 88.3 L411.1 84.7 L411.4 81.1 L411.7 77.1 L412.1 72.8 L412.4 68.2 L412.8 63.7 L413.1 59.4 L413.4 55.5 L413.8 51.7 L414.1 48 L414.4 44.8 L414.8 42.3 L415.1 39.9 L415.5 38.8 L415.8 39.3 L416.1 40.7 L416.5 42.5 L416.8 45.2 L417.1 49.6 L417.5 54.9 L417.8 60.2 L418.2 64.8 L418.5 69.4 L418.8 74.1 L419.2 78.6 L419.5 82.6 L419.8 86.1 L420.2 89.1 L420.5 91.9 L420.9 94.5 L421.2 96.9 L421.5 99 L421.9 100.8 L422.2 102.3 L422.5 103.6 L422.9 104.8 L423.2 105.8 L423.6 106.8 L423.9 107.7 L424.2 108.4 L424.6 109.1 L424.9 109.7 L425.3 110.3 L425.6 110.7 L425.9 111.1 L426.3 111.5 L426.6 111.8 L426.9 112.1 L427.3 112.5 L427.6 112.8 L428 113.2 L428.3 113.7 L428.6 114.3 L429 114.9 L429.3 115.5 L429.6 116.2 L430 117 L430.3 117.8 L430.7 118.7 L431 119.6 L431.3 120.6 L431.7 121.6 L432 122.8 L432.3 124.1 L432.7 125.5 L433 127.1 L433.4 128.7 L433.7 130.3 L434 132 L434.4 133.6 L434.7 135.3 L435.1 137.1 L435.4 139 L435.7 140.8 L436.1 142.4 L436.4 143.7 L436.7 145.1 L437.1 146.3 L437.4 147 L437.8 147 L438.1 145.7 L438.4 143.5 L438.8 141 L439.1 138.6 L439.4 136.3 L439.8 133.7 L440.1 131.1 L440.5 128.8 L440.8 126.9 L441.1 125.4 L441.5 124 L441.8 122.8 L442.1 121.7 L442.5 120.6 L442.8 119.6 L443.2 118.5 L443.5 117.4 L443.8 116.3 L444.2 115.4 L444.5 114.8 L444.8 115.3 L445.2 125.1 L445.5 139.1 L445.9 147.8 L446.2 145.2 L446.5 137.4 L446.9 130.8 L447.2 126.9 L447.6 123.7 L447.9 121.2 L448.2 119.6 L448.6 118.2 L448.9 117.1 L449.2 116.1 L449.6 115.3 L449.9 114.7 L450.3 114.1 L450.6 113.6 L450.9 113.1 L451.3 112.7 L451.6 112.3 L451.9 112 L452.3 111.7 L452.6 111.4 L453 111.2 L453.3 111 L453.6 110.8 L454 110.6 L454.3 110.5 L454.6 110.3 L455 110.2 L455.3 110 L455.7 109.8 L456 109.7 L456.3 109.5 L456.7 109.4 L457 109.3 L457.4 109.1 L457.7 108.9 L458 108.7 L458.4 108.5 L458.7 108.2 L459 107.7 L459.4 106.9 L459.7 105.6 L460.1 103.7 L460.4 101.2 L460.7 93.7 L461.1 80.2 L461.4 83.2 L461.7 100.1 L462.1 107.5 L462.4 110.7 L462.8 112.5 L463.1 113.6 L463.4 114.5 L463.8 115.2 L464.1 116.1 L464.4 117.3 L464.8 119.5 L465.1 123 L465.5 127.2 L465.8 131.6 L466.1 135.9 L466.5 139.6 L466.8 143.3 L467.1 146.8 L467.5 149.9 L467.8 152.2 L468.2 154 L468.5 155.5 L468.8 156.3 L469.2 156.1 L469.5 154.8 L469.9 152.7 L470.2 150.6 L470.5 147.7 L470.9 144.1 L471.2 140.3 L471.5 136.6 L471.9 133 L472.2 129.1 L472.6 125.6 L472.9 122.7 L473.2 120.6 L473.6 118.6 L473.9 116.9 L474.2 115.4 L474.6 114.3 L474.9 113.5 L475.3 112.9 L475.6 112.3 L475.9 111.8 L476.3 111.4 L476.6 111 L476.9 110.7 L477.3 110.5 L477.6 110.4 L478 110.3 L478.3 110.3 L478.6 110.3 L479 110.3 L479.3 110.2 L479.7 110.2 L480 110.2 L480.3 110.2 L480.7 110.1 L481 110.1 L481.3 110.1 L481.7 110.1 L482 110.1 L482.4 110 L482.7 110 L483 110 L483.4 110 L483.7 110 L484 110 L484.4 110 L484.7 110 L485.1 109.9 L485.4 109.9 L485.7 109.9 L486.1 109.9 L486.4 109.9 L486.7 109.9 L487.1 109.9 L487.4 109.9 L487.8 109.9 L488.1 109.9 L488.4 109.9 L488.8 109.9 L489.1 109.9 L489.4 109.9 L489.8 109.9 L490.1 109.9 L490.5 109.9 L490.8 109.9 L491.1 109.9 L491.5 109.9 L491.8 109.9 L492.2 109.9 L492.5 109.9 L492.8 109.9 L493.2 109.9 L493.5 109.9 L493.8 109.9 L494.2 109.9 L494.5 109.9 L494.9 109.9 L495.2 109.9 L495.5 109.9 L495.9 109.9 L496.2 109.9 L496.5 109.9 L496.9 109.9 L497.2 109.9 L497.6 109.9 L497.9 109.9 L498.2 109.9 L498.6 109.9 L498.9 109.9 L499.2 109.9 L499.6 109.9 L499.9 109.9 L500.3 109.9 L500.6 109.9 L500.9 109.9 L501.3 109.9 L501.6 109.9 L501.9 109.9 L502.3 109.9 L502.6 109.9 L503 109.9 L503.3 109.9 L503.6 109.9 L504 109.9 L504.3 109.9 L504.7 109.9 L505 109.9 L505.3 109.9 L505.7 109.9 L506 109.9 L506.3 109.9 L506.7 109.9 L507 109.9 L507.4 109.9 L507.7 109.9 L508 109.9 L508.4 109.9 L508.7 109.9 L509 109.9 L509.4 109.9 L509.7 109.9 L510.1 109.9 L510.4 109.9 L510.7 109.9 L511.1 109.9 L511.4 109.9 L511.7 109.9 L512.1 109.9 L512.4 109.9 L512.8 109.9 L513.1 109.9 L513.4 109.9 L513.8 109.9 L514.1 109.9 L514.5 109.9 L514.8 109.9 L515.1 109.9 L515.5 109.9 L515.8 109.9 L516.1 109.9 L516.5 109.9 L516.8 109.9 L517.2 109.9 L517.5 109.9 L517.8 109.9 L518.2 109.9 L518.5 109.9 L518.8 109.9 L519.2 109.9 L519.5 109.9 L519.9 109.9 L520.2 109.9 L520.5 109.9 L520.9 109.9 L521.2 109.9 L521.5 109.9 L521.9 109.9 L522.2 109.9 L522.6 109.9 L522.9 109.9 L523.2 109.9 L523.6 109.9 L523.9 109.9 L524.2 109.9 L524.6 109.9 L524.9 109.9 L525.3 109.9 L525.6 109.9 L525.9 109.9 L526.3 109.9 L526.6 109.9 L527 109.9 L527.3 109.9 L527.6 109.9 L528 109.9 L528.3 109.9 L528.6 109.9 L529 109.9 L529.3 109.9 L529.7 109.9 L530 109.9 L530.3 109.9 L530.7 109.9 L531 109.9 L531.3 109.9 L531.7 109.9 L532 109.9 L532.4 109.9 L532.7 109.9 L533 109.9 L533.4 109.9 L533.7 109.9 L534 109.9 L534.4 109.9 L534.7 109.9 L535.1 109.9 L535.4 109.9 L535.7 109.9 L536.1 109.9 L536.4 109.9 L536.8 109.9 L537.1 109.9 L537.4 109.9 L537.8 109.9 L538.1 109.9 L538.4 109.9 L538.8 109.9 L539.1 109.9 L539.5 109.9 L539.8 109.9 L540.1 109.9 L540.5 109.9 L540.8 109.9 L541.1 109.9 L541.5 109.9 L541.8 109.9 L542.2 109.9 L542.5 109.9 L542.8 109.9 L543.2 109.9 L543.5 109.9 L543.8 109.9" fill="none" stroke="#ef4a3e" stroke-width="1.1" stroke-linejoin="round" clip-path="url(#clipb)" />
<path d="M307.7 111 L308 110.9 L308.3 110.8 L308.7 110.6 L309 110.4 L309.4 110.3 L309.7 110.1 L310 110 L310.4 109.9 L310.7 109.9 L311.1 109.9 L311.4 109.9 L311.7 109.9 L312.1 109.9 L312.4 109.9 L312.7 109.9 L313.1 109.9 L313.4 109.9 L313.8 109.9 L314.1 109.9 L314.4 109.9 L314.8 109.9 L315.1 109.9 L315.4 109.9 L315.8 109.9 L316.1 109.9 L316.5 109.9 L316.8 109.9 L317.1 109.9 L317.5 109.9 L317.8 109.9 L318.1 109.9 L318.5 109.9 L318.8 109.9 L319.2 109.9 L319.5 109.9 L319.8 109.9 L320.2 109.9 L320.5 109.9 L320.8 109.9 L321.2 109.9 L321.5 109.9 L321.9 109.9 L322.2 109.9 L322.5 109.9 L322.9 109.9 L323.2 109.9 L323.6 109.9 L323.9 109.9 L324.2 109.9 L324.6 109.9 L324.9 109.9 L325.2 109.9 L325.6 109.9 L325.9 109.9 L326.3 109.9 L326.6 109.9 L326.9 109.9 L327.3 109.9 L327.6 109.9 L327.9 109.9 L328.3 109.9 L328.6 109.9 L329 109.9 L329.3 109.9 L329.6 109.9 L330 109.9 L330.3 109.9 L330.6 109.9 L331 109.9 L331.3 109.9 L331.7 109.9 L332 109.9 L332.3 109.9 L332.7 109.9 L333 109.9 L333.4 109.9 L333.7 109.9 L334 109.9 L334.4 109.9 L334.7 109.9 L335 109.9 L335.4 109.9 L335.7 109.9 L336.1 109.9 L336.4 109.9 L336.7 109.9 L337.1 109.9 L337.4 109.9 L337.7 109.9 L338.1 109.9 L338.4 109.9 L338.8 109.9 L339.1 109.9 L339.4 109.9 L339.8 109.9 L340.1 109.9 L340.4 109.9 L340.8 109.9 L341.1 109.9 L341.5 109.9 L341.8 109.9 L342.1 109.9 L342.5 109.9 L342.8 109.9 L343.1 109.9 L343.5 109.9 L343.8 109.9 L344.2 109.9 L344.5 109.9 L344.8 109.9 L345.2 109.9 L345.5 109.9 L345.9 109.9 L346.2 109.9 L346.5 109.9 L346.9 109.9 L347.2 109.9 L347.5 109.9 L347.9 109.9 L348.2 109.9 L348.6 109.9 L348.9 109.9 L349.2 109.9 L349.6 109.9 L349.9 109.9 L350.2 109.9 L350.6 109.9 L350.9 109.9 L351.3 109.9 L351.6 109.9 L351.9 109.9 L352.3 109.9 L352.6 109.9 L352.9 109.9 L353.3 109.9 L353.6 109.9 L354 109.9 L354.3 109.9 L354.6 109.9 L355 109.9 L355.3 109.9 L355.7 109.9 L356 109.9 L356.3 109.9 L356.7 109.9 L357 109.9 L357.3 109.9 L357.7 109.9 L358 109.9 L358.4 109.9 L358.7 109.9 L359 109.9 L359.4 109.9 L359.7 109.9 L360 109.9 L360.4 109.9 L360.7 109.9 L361.1 109.9 L361.4 109.9 L361.7 109.9 L362.1 109.9 L362.4 109.9 L362.7 109.9 L363.1 109.9 L363.4 109.9 L363.8 109.9 L364.1 109.9 L364.4 109.9 L364.8 109.9 L365.1 109.9 L365.4 109.9 L365.8 109.9 L366.1 109.9 L366.5 109.9 L366.8 109.9 L367.1 109.9 L367.5 109.9 L367.8 109.9 L368.2 109.9 L368.5 109.9 L368.8 109.9 L369.2 109.9 L369.5 109.9 L369.8 109.9 L370.2 109.9 L370.5 109.9 L370.9 109.9 L371.2 109.9 L371.5 109.9 L371.9 109.9 L372.2 109.9 L372.5 109.9 L372.9 109.9 L373.2 109.9 L373.6 109.9 L373.9 109.9 L374.2 109.9 L374.6 109.9 L374.9 109.9 L375.2 109.9 L375.6 109.9 L375.9 109.9 L376.3 109.9 L376.6 109.9 L376.9 109.9 L377.3 109.9 L377.6 109.9 L377.9 109.9 L378.3 109.9 L378.6 109.9 L379 109.9 L379.3 109.9 L379.6 109.9 L380 109.9 L380.3 109.9 L380.7 109.9 L381 109.9 L381.3 109.9 L381.7 109.9 L382 109.9 L382.3 109.9 L382.7 109.9 L383 109.9 L383.4 109.9 L383.7 109.9 L384 109.9 L384.4 109.9 L384.7 109.9 L385 109.9 L385.4 109.9 L385.7 109.9 L386.1 109.9 L386.4 109.9 L386.7 109.9 L387.1 109.9 L387.4 109.9 L387.7 109.9 L388.1 109.9 L388.4 109.9 L388.8 109.9 L389.1 109.9 L389.4 109.9 L389.8 109.9 L390.1 109.9 L390.5 109.9 L390.8 109.9 L391.1 109.9 L391.5 109.9 L391.8 109.9 L392.1 109.9 L392.5 109.9 L392.8 109.9 L393.2 109.9 L393.5 109.9 L393.8 109.9 L394.2 109.9 L394.5 109.9 L394.8 109.9 L395.2 109.9 L395.5 109.9 L395.9 109.9 L396.2 109.9 L396.5 109.9 L396.9 109.9 L397.2 109.9 L397.5 109.9 L397.9 109.9 L398.2 109.9 L398.6 109.9 L398.9 109.9 L399.2 109.9 L399.6 109.9 L399.9 109.9 L400.2 109.9 L400.6 109.9 L400.9 109.9 L401.3 109.9 L401.6 109.8 L401.9 109.8 L402.3 109.8 L402.6 109.8 L403 109.7 L403.3 109.7 L403.6 109.6 L404 109.6 L404.3 109.5 L404.6 109.5 L405 109.4 L405.3 109.3 L405.7 109.3 L406 109.2 L406.3 109.1 L406.7 109.1 L407 109 L407.3 108.9 L407.7 108.8 L408 108.7 L408.4 108.5 L408.7 108.4 L409 108.2 L409.4 108 L409.7 107.8 L410 107.5 L410.4 107.3 L410.7 107 L411.1 106.7 L411.4 106.5 L411.7 106.2 L412.1 105.9 L412.4 105.4 L412.8 104.8 L413.1 104.2 L413.4 103.6 L413.8 102.9 L414.1 102.2 L414.4 101.7 L414.8 101.2 L415.1 100.8 L415.5 100.7 L415.8 100.7 L416.1 101 L416.5 101.6 L416.8 102.3 L417.1 103.2 L417.5 104 L417.8 104.8 L418.2 105.5 L418.5 106.2 L418.8 106.9 L419.2 107.6 L419.5 108.3 L419.8 109 L420.2 109.7 L420.5 110.3 L420.9 110.9 L421.2 111.5 L421.5 112 L421.9 112.6 L422.2 113.1 L422.5 113.7 L422.9 114.3 L423.2 114.9 L423.6 115.6 L423.9 116.2 L424.2 117 L424.6 117.7 L424.9 118.5 L425.3 119.3 L425.6 120.1 L425.9 120.9 L426.3 121.8 L426.6 122.7 L426.9 123.6 L427.3 124.5 L427.6 125.5 L428 126.5 L428.3 127.5 L428.6 128.6 L429 129.6 L429.3 130.7 L429.6 131.9 L430 133.1 L430.3 134.3 L430.7 135.6 L431 136.9 L431.3 138.3 L431.7 139.7 L432 141.3 L432.3 142.9 L432.7 144.8 L433 147 L433.4 149.4 L433.7 151.7 L434 153.8 L434.4 155.6 L434.7 157.2 L435.1 158.8 L435.4 160.1 L435.7 160.8 L436.1 160.3 L436.4 158.1 L436.7 155 L437.1 148.9 L437.4 139.8 L437.8 133 L438.1 128.5 L438.4 124.7 L438.8 121.6 L439.1 119.5 L439.4 118 L439.8 116.8 L440.1 115.8 L440.5 114.9 L440.8 114.1 L441.1 113.4 L441.5 112.7 L441.8 112.1 L442.1 111.4 L442.5 110.7 L442.8 110.2 L443.2 109.9 L443.5 109.9 L443.8 109.9 L444.2 109.9 L444.5 109.9 L444.8 109.9 L445.2 109.9 L445.5 109.9 L445.9 109.9 L446.2 109.9 L446.5 109.9 L446.9 109.9 L447.2 109.9 L447.6 109.9 L447.9 109.9 L448.2 109.9 L448.6 109.9 L448.9 109.9 L449.2 109.9 L449.6 109.9 L449.9 109.9 L450.3 109.9 L450.6 109.9 L450.9 109.9 L451.3 109.9 L451.6 109.9 L451.9 109.9 L452.3 109.9 L452.6 109.9 L453 109.9 L453.3 109.9 L453.6 109.9 L454 109.9 L454.3 109.9 L454.6 109.9 L455 109.9 L455.3 109.9 L455.7 109.9 L456 109.9 L456.3 109.9 L456.7 109.9 L457 109.9 L457.4 109.9 L457.7 109.9 L458 109.9 L458.4 109.9 L458.7 109.9 L459 109.9 L459.4 109.9 L459.7 109.9 L460.1 109.9 L460.4 109.9 L460.7 109.9 L461.1 109.9 L461.4 109.9 L461.7 109.9 L462.1 109.9 L462.4 109.9 L462.8 109.9 L463.1 109.9 L463.4 109.9 L463.8 109.9 L464.1 109.9 L464.4 109.9 L464.8 109.9 L465.1 109.9 L465.5 109.9 L465.8 109.9 L466.1 109.9 L466.5 109.9 L466.8 109.9 L467.1 109.9 L467.5 109.9 L467.8 109.9 L468.2 109.9 L468.5 109.9 L468.8 109.9 L469.2 109.9 L469.5 109.9 L469.9 109.9 L470.2 109.9 L470.5 109.9 L470.9 109.9 L471.2 109.9 L471.5 109.9 L471.9 109.9 L472.2 109.9 L472.6 109.9 L472.9 109.9 L473.2 109.9 L473.6 109.9 L473.9 109.9 L474.2 109.9 L474.6 109.9 L474.9 109.9 L475.3 109.9 L475.6 109.9 L475.9 109.9 L476.3 109.9 L476.6 109.9 L476.9 109.9 L477.3 109.9 L477.6 109.9 L478 109.9 L478.3 109.9 L478.6 109.9 L479 109.9 L479.3 109.9 L479.7 109.9 L480 109.9 L480.3 109.9 L480.7 109.9 L481 109.9 L481.3 109.9 L481.7 109.9 L482 109.9 L482.4 109.9 L482.7 109.9 L483 109.9 L483.4 109.9 L483.7 109.9 L484 109.9 L484.4 109.9 L484.7 109.9 L485.1 109.9 L485.4 109.9 L485.7 109.9 L486.1 109.9 L486.4 109.9 L486.7 109.9 L487.1 109.9 L487.4 109.9 L487.8 109.9 L488.1 109.9 L488.4 109.9 L488.8 109.9 L489.1 109.9 L489.4 109.9 L489.8 109.9 L490.1 109.9 L490.5 109.9 L490.8 109.9 L491.1 109.9 L491.5 109.9 L491.8 109.9 L492.2 109.9 L492.5 109.9 L492.8 109.9 L493.2 109.9 L493.5 109.9 L493.8 109.9 L494.2 109.9 L494.5 109.9 L494.9 109.9 L495.2 109.9 L495.5 109.9 L495.9 109.9 L496.2 109.9 L496.5 109.9 L496.9 109.9 L497.2 109.9 L497.6 109.9 L497.9 109.9 L498.2 109.9 L498.6 109.9 L498.9 109.9 L499.2 109.9 L499.6 109.9 L499.9 109.9 L500.3 109.9 L500.6 109.9 L500.9 109.9 L501.3 109.9 L501.6 109.9 L501.9 109.9 L502.3 109.9 L502.6 109.9 L503 109.9 L503.3 109.9 L503.6 109.9 L504 109.9 L504.3 109.9 L504.7 109.9 L505 109.9 L505.3 109.9 L505.7 109.9 L506 109.9 L506.3 109.9 L506.7 109.9 L507 109.9 L507.4 109.9 L507.7 109.9 L508 109.9 L508.4 109.9 L508.7 109.9 L509 109.9 L509.4 109.9 L509.7 109.9 L510.1 109.9 L510.4 109.9 L510.7 109.9 L511.1 109.9 L511.4 109.9 L511.7 109.9 L512.1 109.9 L512.4 109.9 L512.8 109.9 L513.1 109.9 L513.4 109.9 L513.8 109.9 L514.1 109.9 L514.5 109.9 L514.8 109.9 L515.1 109.9 L515.5 109.9 L515.8 109.9 L516.1 109.9 L516.5 109.9 L516.8 109.9 L517.2 109.9 L517.5 109.9 L517.8 109.9 L518.2 109.9 L518.5 109.9 L518.8 109.9 L519.2 109.9 L519.5 109.9 L519.9 109.9 L520.2 109.9 L520.5 109.9 L520.9 109.9 L521.2 109.9 L521.5 109.9 L521.9 109.9 L522.2 109.9 L522.6 109.9 L522.9 109.9 L523.2 109.9 L523.6 109.9 L523.9 109.9 L524.2 109.9 L524.6 109.9 L524.9 109.9 L525.3 109.9 L525.6 109.9 L525.9 109.9 L526.3 109.9 L526.6 109.9 L527 109.9 L527.3 109.9 L527.6 109.9 L528 109.9 L528.3 109.9 L528.6 109.9 L529 109.9 L529.3 109.9 L529.7 109.9 L530 109.9 L530.3 109.9 L530.7 109.9 L531 109.9 L531.3 109.9 L531.7 109.9 L532 109.9 L532.4 109.9 L532.7 109.9 L533 109.9 L533.4 109.9 L533.7 109.9 L534 109.9 L534.4 109.9 L534.7 109.9 L535.1 109.9 L535.4 109.9 L535.7 109.9 L536.1 109.9 L536.4 109.9 L536.8 109.9 L537.1 109.9 L537.4 109.9 L537.8 109.9 L538.1 109.9 L538.4 109.9 L538.8 109.9 L539.1 109.9 L539.5 109.9 L539.8 109.9 L540.1 109.9 L540.5 109.9 L540.8 109.9 L541.1 109.9 L541.5 109.9 L541.8 109.9 L542.2 109.9 L542.5 109.9 L542.8 109.9 L543.2 109.9 L543.5 109.9 L543.8 109.9" fill="none" stroke="#b07c48" stroke-width="1.1" stroke-linejoin="round" clip-path="url(#clipb)" />
<line x1="309.1" y1="109.9" x2="542.4" y2="109.9" stroke="#1c1c1c" stroke-width="1.2" stroke-dasharray="2.7 1.6"/>
<path d="M307.7 105.3 L307.9 105.3 L308.2 105.3 L308.5 105.2 L308.7 105.1 L309 105.1 L309.2 105 L309.5 104.8 L309.8 104.7 L310 104.6 L310.3 104.4 L310.6 104.3 L310.8 104.2 L311.1 104 L311.3 103.8 L311.6 103.5 L311.9 103.2 L312.1 102.9 L312.4 102.6 L312.7 102.3 L312.9 101.9 L313.2 101.6 L313.5 101.2 L313.7 100.8 L314 100.5 L314.2 100.2 L314.5 99.8 L314.8 99.4 L315 99 L315.3 98.5 L315.6 98 L315.8 97.6 L316.1 97.1 L316.3 96.6 L316.6 96.1 L316.9 95.7 L317.1 95.3 L317.4 94.9 L317.7 94.5 L317.9 94.2 L318.2 93.9 L318.4 93.6 L318.7 93.4 L319 93.3 L319.2 93.3 L319.5 93.3 L319.8 93.3 L320 93.4 L320.3 93.5 L320.5 93.6 L320.8 93.7 L321.1 93.9 L321.3 94 L321.6 94.2 L321.9 94.4 L322.1 94.5 L322.4 94.7 L322.6 94.9 L322.9 95.1 L323.2 95.2 L323.4 95.3 L323.7 95.5 L324 95.6 L324.2 95.7 L324.5 95.8 L324.7 95.9 L325 96 L325.3 96.1 L325.5 96.2 L325.8 96.3 L326.1 96.4 L326.3 96.4 L326.6 96.5 L326.8 96.6 L327.1 96.7 L327.4 96.8 L327.6 96.8 L327.9 96.9 L328.2 96.9 L328.4 97 L328.7 97 L329 97 L329.2 97 L329.5 97 L329.7 97 L330 97 L330.3 96.9 L330.5 96.9 L330.8 96.9 L331.1 96.8 L331.3 96.8 L331.6 96.7 L331.8 96.7 L332.1 96.6 L332.4 96.6 L332.6 96.5 L332.9 96.4 L333.2 96.4 L333.4 96.3 L333.7 96.2 L333.9 96.2 L334.2 96.1 L334.5 96 L334.7 95.9 L335 95.8 L335.3 95.7 L335.5 95.5 L335.8 95.3 L336 95.2 L336.3 95 L336.6 94.8 L336.8 94.5 L337.1 94.3 L337.4 94.1 L337.6 93.9 L337.9 93.6 L338.1 93.4 L338.4 93.2 L338.7 92.9 L338.9 92.7 L339.2 92.4 L339.5 92.2 L339.7 92 L340 91.8 L340.2 91.6 L340.5 91.4 L340.8 91.2 L341 91 L341.3 90.8 L341.6 90.7 L341.8 90.5 L342.1 90.4 L342.3 90.2 L342.6 90 L342.9 89.9 L343.1 89.7 L343.4 89.5 L343.7 89.4 L343.9 89.2 L344.2 89.1 L344.5 88.9 L344.7 88.8 L345 88.6 L345.2 88.5 L345.5 88.4 L345.8 88.3 L346 88.3 L346.3 88.2 L346.6 88.2 L346.8 88.1 L347.1 88.1 L347.3 88.1 L347.6 88.2 L347.9 88.3 L348.1 88.3 L348.4 88.5 L348.7 88.6 L348.9 88.7 L349.2 88.9 L349.4 89 L349.7 89.2 L350 89.4 L350.2 89.5 L350.5 89.7 L350.8 89.9 L351 90.1 L351.3 90.3 L351.5 90.4 L351.8 90.6 L352.1 90.7 L352.3 90.9 L352.6 91.1 L352.9 91.2 L353.1 91.4 L353.4 91.6 L353.6 91.8 L353.9 92 L354.2 92.2 L354.4 92.4 L354.7 92.6 L355 92.9 L355.2 93.1 L355.5 93.3 L355.7 93.5 L356 93.7 L356.3 93.9 L356.5 94.1 L356.8 94.2 L357.1 94.4 L357.3 94.5 L357.6 94.7 L357.8 94.8 L358.1 94.9 L358.4 95 L358.6 95 L358.9 95.1 L359.2 95.1 L359.4 95.1 L359.7 95.1 L360 95.1 L360.2 95 L360.5 95 L360.7 95 L361 94.9 L361.3 94.9 L361.5 94.8 L361.8 94.8 L362.1 94.7 L362.3 94.7 L362.6 94.6 L362.8 94.6 L363.1 94.5 L363.4 94.4 L363.6 94.4 L363.9 94.3 L364.2 94.3 L364.4 94.2 L364.7 94.2 L364.9 94.1 L365.2 94.1 L365.5 94 L365.7 94 L366 94 L366.3 93.9 L366.5 93.9 L366.8 93.9 L367 93.8 L367.3 93.8 L367.6 93.8 L367.8 93.7 L368.1 93.7 L368.4 93.7 L368.6 93.6 L368.9 93.6 L369.1 93.5 L369.4 93.5 L369.7 93.4 L369.9 93.4 L370.2 93.4 L370.5 93.3 L370.7 93.2 L371 93.2 L371.2 93.1 L371.5 93.1 L371.8 93 L372 92.9 L372.3 92.8 L372.6 92.7 L372.8 92.6 L373.1 92.5 L373.3 92.4 L373.6 92.3 L373.9 92.2 L374.1 92.1 L374.4 92 L374.7 91.9 L374.9 91.7 L375.2 91.6 L375.5 91.5 L375.7 91.3 L376 91.2 L376.2 91 L376.5 90.9 L376.8 90.7 L377 90.5 L377.3 90.3 L377.6 90 L377.8 89.7 L378.1 89.4 L378.3 89.1 L378.6 88.8 L378.9 88.4 L379.1 88.1 L379.4 87.7 L379.7 87.4 L379.9 87 L380.2 86.6 L380.4 86.3 L380.7 85.9 L381 85.6 L381.2 85.2 L381.5 84.9 L381.8 84.6 L382 84.3 L382.3 84.1 L382.5 83.8 L382.8 83.6 L383.1 83.3 L383.3 83 L383.6 82.8 L383.9 82.5 L384.1 82.2 L384.4 82 L384.6 81.7 L384.9 81.5 L385.2 81.2 L385.4 81 L385.7 80.8 L386 80.6 L386.2 80.4 L386.5 80.2 L386.7 80.1 L387 80 L387.3 79.9 L387.5 79.8 L387.8 79.8 L388.1 79.8 L388.3 79.9 L388.6 80 L388.8 80.1 L389.1 80.2 L389.4 80.4 L389.6 80.6 L389.9 80.8 L390.2 81 L390.4 81.3 L390.7 81.5 L391 81.8 L391.2 82.1 L391.5 82.4 L391.7 82.7 L392 83 L392.3 83.3 L392.5 83.6 L392.8 83.8 L393.1 84.1 L393.3 84.4 L393.6 84.7 L393.8 85 L394.1 85.3 L394.4 85.6 L394.6 86 L394.9 86.3 L395.2 86.7 L395.4 87 L395.7 87.4 L395.9 87.7 L396.2 88.1 L396.5 88.5 L396.7 88.8 L397 89.2 L397.3 89.5 L397.5 89.9 L397.8 90.2 L398 90.5 L398.3 90.9 L398.6 91.1 L398.8 91.4 L399.1 91.7 L399.4 91.9 L399.6 92.2 L399.9 92.5 L400.1 92.7 L400.4 93 L400.7 93.2 L400.9 93.5 L401.2 93.8 L401.5 94 L401.7 94.3 L402 94.6 L402.2 94.8 L402.5 95 L402.8 95.3 L403 95.5 L403.3 95.7 L403.6 95.9 L403.8 96.1 L404.1 96.3 L404.3 96.4 L404.6 96.6 L404.9 96.7 L405.1 96.8 L405.4 96.9 L405.7 97 L405.9 97 L406.2 97 L406.5 97 L406.7 96.8 L407 96.6 L407.2 96.3 L407.5 95.9 L407.8 95.4 L408 94.9 L408.3 94.3 L408.6 93.7 L408.8 92.9 L409.1 91.6 L409.3 90 L409.6 88.2 L409.9 86.2 L410.1 84 L410.4 81.7 L410.7 79.2 L410.9 76.3 L411.2 73 L411.4 69.4 L411.7 65.8 L412 62.1 L412.2 58.6 L412.5 55.1 L412.8 51.5 L413 47.7 L413.3 44 L413.5 40.5 L413.8 37.3 L414.1 34.6 L414.3 32.5 L414.6 30.4 L414.9 28.6 L415.1 27.1 L415.4 26.4 L415.6 26.5 L415.9 27.4 L416.2 28.8 L416.4 30.7 L416.7 32.8 L417 35.3 L417.2 39.2 L417.5 44.1 L417.7 49.5 L418 54.8 L418.3 59.7 L418.5 63.6 L418.8 67.3 L419.1 71 L419.3 74.6 L419.6 78 L419.8 81.2 L420.1 83.9 L420.4 86.3 L420.6 88.1 L420.9 89.4 L421.2 90.6 L421.4 91.7 L421.7 92.7 L421.9 93.7 L422.2 94.6 L422.5 95.5 L422.7 96.3 L423 96.9 L423.3 97.5 L423.5 98 L423.8 98.4 L424.1 98.7 L424.3 98.9 L424.6 98.9 L424.8 98.9 L425.1 98.8 L425.4 98.7 L425.6 98.5 L425.9 98.3 L426.2 98 L426.4 97.8 L426.7 97.4 L426.9 97.1 L427.2 96.8 L427.5 96.4 L427.7 95.8 L428 95 L428.3 94 L428.5 92.9 L428.8 91.6 L429 90.2 L429.3 88.6 L429.6 87.1 L429.8 85.4 L430.1 83.7 L430.4 81.9 L430.6 79.8 L430.9 77.4 L431.1 74.7 L431.4 71.9 L431.7 69.1 L431.9 66.2 L432.2 63.5 L432.5 60.9 L432.7 58.4 L433 55.8 L433.2 53.1 L433.5 50.5 L433.8 48.1 L434 46.1 L434.3 44.5 L434.6 43.4 L434.8 42.5 L435.1 41.6 L435.3 40.9 L435.6 40.4 L435.9 40.2 L436.1 40.3 L436.4 40.7 L436.7 41.3 L436.9 42.1 L437.2 42.9 L437.4 43.9 L437.7 45.2 L438 46.8 L438.2 48.6 L438.5 50.4 L438.8 52.3 L439 54 L439.3 55.6 L439.6 57.4 L439.8 59.4 L440.1 61.4 L440.3 63.4 L440.6 65.3 L440.9 67 L441.1 68.5 L441.4 69.7 L441.7 70.4 L441.9 70.7 L442.2 70.6 L442.4 70.3 L442.7 69.7 L443 68.8 L443.2 67.6 L443.5 37.5 L443.8 -25 L444 -25 L444.3 -25 L444.5 -25 L444.8 -25 L445.1 -25 L445.3 -25 L445.6 -25 L445.9 15.6 L446.1 55.9 L446.4 60.7 L446.6 63.6 L446.9 65.7 L447.2 67.4 L447.4 68.9 L447.7 70.6 L448 72.3 L448.2 74 L448.5 75.5 L448.7 77 L449 78.4 L449.3 79.7 L449.5 81 L449.8 82.2 L450.1 83.3 L450.3 84.4 L450.6 85.5 L450.8 86.4 L451.1 87.4 L451.4 88.3 L451.6 89.2 L451.9 90 L452.2 90.8 L452.4 91.6 L452.7 92.3 L452.9 93 L453.2 93.7 L453.5 94.3 L453.7 94.9 L454 95.4 L454.3 95.9 L454.5 96.4 L454.8 96.9 L455.1 97.4 L455.3 97.9 L455.6 98.6 L455.8 99.3 L456.1 99.9 L456.4 100.3 L456.6 100.3 L456.9 99.6 L457.2 98.4 L457.4 96.9 L457.7 95.2 L457.9 93.5 L458.2 91.9 L458.5 90.2 L458.7 87.9 L459 84.6 L459.3 79.9 L459.5 27.2 L459.8 -25 L460 -25 L460.3 -25 L460.6 -25 L460.8 -25 L461.1 -25 L461.4 -25 L461.6 -25 L461.9 -25 L462.1 26.9 L462.4 32.7 L462.7 36.2 L462.9 38.5 L463.2 40.2 L463.5 42.3 L463.7 44.6 L464 46.4 L464.2 47.6 L464.5 47.8 L464.8 47.2 L465 46.2 L465.3 44.9 L465.6 43.4 L465.8 41.9 L466.1 40.5 L466.3 39.3 L466.6 38.3 L466.9 37.2 L467.1 36 L467.4 34.9 L467.7 33.9 L467.9 33 L468.2 32.2 L468.4 31.8 L468.7 31.6 L469 31.7 L469.2 32 L469.5 32.5 L469.8 33.1 L470 33.7 L470.3 34.4 L470.6 35 L470.8 35.5 L471.1 35.9 L471.3 36.2 L471.6 36.4 L471.9 36.5 L472.1 36.7 L472.4 36.8 L472.7 37 L472.9 37.2 L473.2 37.5 L473.4 37.8 L473.7 38.5 L474 39.5 L474.2 40.8 L474.5 42.3 L474.8 43.8 L475 45.4 L475.3 46.8 L475.5 48 L475.8 49.1 L476.1 50.2 L476.3 51.5 L476.6 53.2 L476.9 55.6 L477.1 60.2 L477.4 66.1 L477.6 72.3 L477.9 77.9 L478.2 81.9 L478.4 85.1 L478.7 88.1 L479 90.7 L479.2 92.7 L479.5 94 L479.7 94.7 L480 95.3 L480.3 95.8 L480.5 96.3 L480.8 96.7 L481.1 97.1 L481.3 97.4 L481.6 97.7 L481.8 98 L482.1 98.2 L482.4 98.4 L482.6 98.6 L482.9 98.7 L483.2 98.9 L483.4 99 L483.7 99.1 L483.9 99.2 L484.2 99.3 L484.5 99.4 L484.7 99.5 L485 99.6 L485.3 99.7 L485.5 99.8 L485.8 99.9 L486.1 100 L486.3 100.1 L486.6 100.1 L486.8 100.2 L487.1 100.3 L487.4 100.3 L487.6 100.4 L487.9 100.4 L488.2 100.5 L488.4 100.5 L488.7 100.5 L488.9 100.5 L489.2 100.5 L489.5 100.5 L489.7 100.5 L490 100.5 L490.3 100.5 L490.5 100.5 L490.8 100.5 L491 100.5 L491.3 100.5 L491.6 100.5 L491.8 100.5 L492.1 100.5 L492.4 100.5 L492.6 100.4 L492.9 100.4 L493.1 100.4 L493.4 100.4 L493.7 100.4 L493.9 100.3 L494.2 100.3 L494.5 100.3 L494.7 100.3 L495 100.3 L495.2 100.3 L495.5 100.2 L495.8 100.2 L496 100.2 L496.3 100.2 L496.6 100.2 L496.8 100.1 L497.1 100.1 L497.3 100.1 L497.6 100 L497.9 100 L498.1 100 L498.4 100 L498.7 99.9 L498.9 99.9 L499.2 99.9 L499.4 99.8 L499.7 99.8 L500 99.7 L500.2 99.7 L500.5 99.7 L500.8 99.6 L501 99.6 L501.3 99.6 L501.6 99.5 L501.8 99.5 L502.1 99.5 L502.3 99.4 L502.6 99.4 L502.9 99.4 L503.1 99.3 L503.4 99.3 L503.7 99.3 L503.9 99.2 L504.2 99.2 L504.4 99.2 L504.7 99.2 L505 99.2 L505.2 99.1 L505.5 99.1 L505.8 99.1 L506 99.1 L506.3 99 L506.5 99 L506.8 99 L507.1 99 L507.3 99 L507.6 98.9 L507.9 98.9 L508.1 98.9 L508.4 98.9 L508.6 98.8 L508.9 98.8 L509.2 98.8 L509.4 98.8 L509.7 98.7 L510 98.7 L510.2 98.7 L510.5 98.7 L510.7 98.6 L511 98.6 L511.3 98.6 L511.5 98.5 L511.8 98.5 L512.1 98.5 L512.3 98.4 L512.6 98.4 L512.8 98.3 L513.1 98.3 L513.4 98.2 L513.6 98.2 L513.9 98.1 L514.2 98.1 L514.4 98 L514.7 97.9 L514.9 97.9 L515.2 97.8 L515.5 97.7 L515.7 97.6 L516 97.4 L516.3 97.3 L516.5 97.2 L516.8 97.1 L517.1 96.9 L517.3 96.8 L517.6 96.6 L517.8 96.5 L518.1 96.3 L518.4 96.1 L518.6 96 L518.9 95.8 L519.2 95.6 L519.4 95.5 L519.7 95.3 L519.9 95.1 L520.2 94.9 L520.5 94.7 L520.7 94.5 L521 94.3 L521.3 94 L521.5 93.8 L521.8 93.5 L522 93.3 L522.3 93 L522.6 92.7 L522.8 92.4 L523.1 92.1 L523.4 91.8 L523.6 91.5 L523.9 91.2 L524.1 90.9 L524.4 90.6 L524.7 90.3 L524.9 90 L525.2 89.7 L525.5 89.4 L525.7 89.1 L526 88.8 L526.2 88.6 L526.5 88.3 L526.8 88.1 L527 87.8 L527.3 87.6 L527.6 87.3 L527.8 87.1 L528.1 86.8 L528.3 86.6 L528.6 86.3 L528.9 86 L529.1 85.8 L529.4 85.5 L529.7 85.2 L529.9 84.8 L530.2 84.5 L530.4 84.2 L530.7 83.8 L531 83.4 L531.2 83 L531.5 82.5 L531.8 82 L532 81.5 L532.3 81 L532.5 80.3 L532.8 79.4 L533.1 78.5 L533.3 77.4 L533.6 76.2 L533.9 75 L534.1 73.7 L534.4 72.4 L534.7 70.9 L534.9 69.1 L535.2 67 L535.4 64.9 L535.7 63.2 L536 62 L536.2 61.1 L536.5 60.3 L536.8 59.6 L537 59 L537.3 58.8 L537.5 59 L537.8 59.9 L538.1 61.3 L538.3 62.8 L538.6 64.3 L538.9 65.6 L539.1 67.1 L539.4 68.7 L539.6 70.2 L539.9 71.3 L540.2 71.7 L540.4 71.5 L540.7 71.1 L541 70.5 L541.2 70.1 L541.5 69.8 L541.7 69.8 L542 69.8 L542.3 69.8 L542.5 69.8 L542.8 69.8 L543.1 69.8 L543.3 69.8 L543.6 69.8 L543.8 69.8" fill="none" stroke="#111" stroke-width="1.05" stroke-linejoin="round" clip-path="url(#clipb)" />
<rect x="443.2" y="5" width="2.6" height="104.9" fill="#c4643c"/>
<rect x="442.0" y="109.9" width="1.0" height="57.4" fill="#3b8fd0"/>
<rect x="443.0" y="109.9" width="0.9" height="57.4" fill="#a8b030"/>
<rect x="443.9" y="109.9" width="0.8" height="57.4" fill="#55b455"/>
<rect x="444.7" y="109.9" width="0.9" height="57.4" fill="#f7a035"/>
<rect x="459.3" y="5" width="3.2" height="100.1" fill="#a9dca5"/>
<rect x="459.2" y="5" width="0.9" height="95.4" fill="#55b455"/>
<rect x="461.8" y="5" width="0.8" height="107.8" fill="#55b455"/>
<line x1="461.2" y1="111.8" x2="461.2" y2="136.6" stroke="#b378cb" stroke-width="1.2" />
<line x1="461.3" y1="133.8" x2="461.3" y2="167.3" stroke="#4595d6" stroke-width="1.2" />
<line x1="462.6" y1="81.2" x2="462.6" y2="115.6" stroke="#ef4a3e" stroke-width="1.0" />
<path d="M523.9 109.4 L524.6 106.6 L525.3 109.9 L529.6 109.4 L530.1 112.8 L530.8 109.4 L533.9 109.9 L534.3 106.6 L535.1 109.9 L537.7 109.9 L538.1 107 L538.6 109.9 L541 109.4" fill="none" stroke="#f8a440" stroke-width="0.9" stroke-linejoin="round" clip-path="url(#clipb)" />
<text x="327.6" y="14.6" font-size="7.8" text-anchor="end" fill="#1a1a1a" >M1</text>
<text x="358.3" y="14.6" font-size="7.8" text-anchor="end" fill="#1a1a1a" >M2</text>
<text x="405.2" y="14.6" font-size="7.8" text-anchor="end" fill="#1a1a1a" >M3</text>
<text x="422.8" y="14.6" font-size="7.8" text-anchor="end" fill="#1a1a1a" >M4</text>
<rect x="428.2" y="7.2" width="11.2" height="10.2" fill="#fff"/>
<text x="433.6" y="14.6" font-size="7.8" text-anchor="middle" fill="#1a1a1a" >TS</text>
<rect x="434.9" y="16.9" width="11.6" height="10.2" fill="#fff"/>
<text x="435.5" y="24.3" font-size="7.8" text-anchor="start" fill="#1a1a1a" >M5</text>
<rect x="448.8" y="7.2" width="12.2" height="10.2" fill="#fff"/>
<text x="455" y="14.6" font-size="7.8" text-anchor="middle" fill="#1a1a1a" >M6</text>
<rect x="462.3" y="16.9" width="12.2" height="10.2" fill="#fff"/>
<text x="462.9" y="24.3" font-size="7.8" text-anchor="start" fill="#1a1a1a" >M7</text>
<text x="471.8" y="14.6" font-size="7.8" text-anchor="start" fill="#1a1a1a" >M8</text>
<text x="490.6" y="14.6" font-size="7.8" text-anchor="start" fill="#1a1a1a" >M9</text>
<text x="514.6" y="14.6" font-size="7.8" text-anchor="start" fill="#1a1a1a" >M10</text>
<g transform="translate(275,-74.2)">
<text x="65.3" y="102.1" font-size="6.9" text-anchor="start" fill="#1a1a1a"><tspan dy="0">H</tspan></text>
<text x="74.3" y="111" font-size="6.9" text-anchor="start" fill="#1a1a1a"><tspan dy="0">O</tspan><tspan font-size="4.8" dy="1.6">b</tspan></text>
<text x="90.6" y="111" font-size="6.9" text-anchor="start" fill="#1a1a1a"><tspan dy="0">O</tspan><tspan font-size="4.8" dy="1.6">a</tspan></text>
<text x="101.2" y="101.5" font-size="6.9" text-anchor="start" fill="#1a1a1a"><tspan dy="0">C</tspan><tspan font-size="4.8" dy="1.6">a</tspan><tspan dy="-1.6">H</tspan><tspan font-size="4.8" dy="1.6">3</tspan></text>
<text x="47" y="132.1" font-size="6.9" text-anchor="start" fill="#1a1a1a"><tspan dy="0">H</tspan><tspan font-size="4.8" dy="1.6">2</tspan><tspan dy="-1.6">C</tspan><tspan font-size="4.8" dy="1.6">c</tspan></text>
<text x="74.3" y="132.1" font-size="6.9" text-anchor="start" fill="#1a1a1a"><tspan dy="0">C</tspan><tspan font-size="4.8" dy="1.6">b</tspan><tspan dy="-1.6">H</tspan></text>
<text x="86.5" y="144.7" font-size="6.9" text-anchor="start" fill="#1a1a1a"><tspan dy="0">C</tspan><tspan font-size="4.8" dy="1.6">d</tspan><tspan dy="-1.6">H</tspan><tspan font-size="4.8" dy="1.6">3</tspan></text>
<line x1="70.4" y1="102.3" x2="74.9" y2="106.7" stroke="#1a1a1a" stroke-width="0.8" />
<line x1="84.2" y1="108.3" x2="89.3" y2="108.3" stroke="#1a1a1a" stroke-width="0.8" />
<line x1="95.8" y1="106" x2="101.2" y2="101" stroke="#1a1a1a" stroke-width="0.8" />
<line x1="74.9" y1="110.9" x2="59" y2="124.8" stroke="#222" stroke-width="0.9" stroke-dasharray="0.9 0.8"/>
<line x1="77.4" y1="113" x2="77.4" y2="126.3" stroke="#1a1a1a" stroke-width="1.6" stroke-dasharray="0.7 0.8"/>
<line x1="63.6" y1="128.4" x2="74" y2="128.4" stroke="#1a1a1a" stroke-width="0.8" />
<line x1="63.6" y1="130.8" x2="74" y2="130.8" stroke="#1a1a1a" stroke-width="0.8" />
<line x1="81.8" y1="132.6" x2="87.3" y2="138.7" stroke="#1a1a1a" stroke-width="0.8" />
</g>
<g transform="translate(273,-67.5)">
<text x="229.4" y="96.2" font-size="6.9" text-anchor="start" fill="#1a1a1a"><tspan dy="0">H</tspan><tspan font-size="4.8" dy="1.6">3</tspan><tspan dy="-1.6">C</tspan><tspan font-size="4.8" dy="1.6">a</tspan></text>
<text x="249.2" y="104.4" font-size="6.9" text-anchor="start" fill="#1a1a1a"><tspan dy="0">O</tspan><tspan font-size="4.8" dy="1.6">a</tspan></text>
<text x="242.2" y="115" font-size="6.9" text-anchor="start" fill="#1a1a1a"><tspan dy="0">H</tspan></text>
<text x="221.6" y="115.2" font-size="6.9" text-anchor="start" fill="#1a1a1a"><tspan dy="0">O</tspan><tspan font-size="4.8" dy="1.6">b</tspan></text>
<text x="203.9" y="130" font-size="6.9" text-anchor="start" fill="#1a1a1a"><tspan dy="0">H</tspan><tspan font-size="4.8" dy="1.6">2</tspan><tspan dy="-1.6">C</tspan><tspan font-size="4.8" dy="1.6">c</tspan></text>
<text x="230.8" y="130" font-size="6.9" text-anchor="start" fill="#1a1a1a"><tspan dy="0">C</tspan><tspan font-size="4.8" dy="1.6">b</tspan><tspan dy="-1.6">H</tspan></text>
<text x="243" y="141.9" font-size="6.9" text-anchor="start" fill="#1a1a1a"><tspan dy="0">C</tspan><tspan font-size="4.8" dy="1.6">d</tspan><tspan dy="-1.6">H</tspan><tspan font-size="4.8" dy="1.6">3</tspan></text>
<line x1="244.6" y1="96" x2="249.6" y2="99.5" stroke="#1a1a1a" stroke-width="0.8" />
<line x1="250.1" y1="104.8" x2="246.9" y2="109.6" stroke="#1a1a1a" stroke-width="0.8" />
<line x1="230.4" y1="112.5" x2="241.8" y2="112.5" stroke="#1a1a1a" stroke-width="1.5" stroke-dasharray="0.7 0.8"/>
<line x1="222.2" y1="115.6" x2="213.8" y2="124.6" stroke="#1a1a1a" stroke-width="0.8" />
<line x1="227.8" y1="117" x2="232" y2="124.6" stroke="#1a1a1a" stroke-width="0.8" />
<line x1="220.6" y1="127.4" x2="230" y2="127.4" stroke="#1a1a1a" stroke-width="0.8" />
<line x1="236.8" y1="130.9" x2="243.1" y2="137.2" stroke="#1a1a1a" stroke-width="0.8" />
</g>
<text x="319.3" y="162.5" font-size="7.8" text-anchor="middle" fill="#2b8dd6" font-weight="bold" class="ph">1</text>
<text x="343.8" y="162.5" font-size="7.8" text-anchor="middle" fill="#2b8dd6" font-weight="bold" class="ph">2</text>
<text x="386.1" y="162.5" font-size="7.8" text-anchor="middle" fill="#2b8dd6" font-weight="bold" class="ph">3</text>
<text x="414.4" y="162.5" font-size="7.8" text-anchor="middle" fill="#2b8dd6" font-weight="bold" class="ph">4</text>
<text x="430.3" y="162.5" font-size="7.8" text-anchor="middle" fill="#2b8dd6" font-weight="bold" class="ph">5</text>
<text x="447.6" y="162.5" font-size="7.8" text-anchor="middle" fill="#2b8dd6" font-weight="bold" class="ph">6</text>
<text x="460.7" y="162.5" font-size="7.8" text-anchor="middle" fill="#2b8dd6" font-weight="bold" class="ph">7</text>
<text x="468.1" y="162.5" font-size="7.8" text-anchor="middle" fill="#2b8dd6" font-weight="bold" class="ph">8</text>
<text x="480.6" y="162.5" font-size="7.8" text-anchor="middle" fill="#2b8dd6" font-weight="bold" class="ph">9</text>
<text x="503.7" y="162.5" font-size="7.8" text-anchor="middle" fill="#2b8dd6" font-weight="bold" class="ph">10</text>
<text x="526" y="162.5" font-size="7.8" text-anchor="middle" fill="#2b8dd6" font-weight="bold" class="ph">11</text>
<line x1="310" y1="167.3" x2="310" y2="168.5" stroke="#1a1a1a" stroke-width="0.8" />
<line x1="310" y1="5" x2="310" y2="6.2" stroke="#1a1a1a" stroke-width="0.8" />
<line x1="314.8" y1="167.3" x2="314.8" y2="169.5" stroke="#1a1a1a" stroke-width="0.8" />
<line x1="314.8" y1="5" x2="314.8" y2="7.2" stroke="#1a1a1a" stroke-width="0.8" />
<text x="314.6" y="177.3" font-size="7.8" text-anchor="middle" fill="#1a1a1a" >−25</text>
<line x1="319.6" y1="167.3" x2="319.6" y2="168.5" stroke="#1a1a1a" stroke-width="0.8" />
<line x1="319.6" y1="5" x2="319.6" y2="6.2" stroke="#1a1a1a" stroke-width="0.8" />
<line x1="324.3" y1="167.3" x2="324.3" y2="168.5" stroke="#1a1a1a" stroke-width="0.8" />
<line x1="324.3" y1="5" x2="324.3" y2="6.2" stroke="#1a1a1a" stroke-width="0.8" />
<line x1="329.1" y1="167.3" x2="329.1" y2="168.5" stroke="#1a1a1a" stroke-width="0.8" />
<line x1="329.1" y1="5" x2="329.1" y2="6.2" stroke="#1a1a1a" stroke-width="0.8" />
<line x1="333.8" y1="167.3" x2="333.8" y2="168.5" stroke="#1a1a1a" stroke-width="0.8" />
<line x1="333.8" y1="5" x2="333.8" y2="6.2" stroke="#1a1a1a" stroke-width="0.8" />
<line x1="338.6" y1="167.3" x2="338.6" y2="169.5" stroke="#1a1a1a" stroke-width="0.8" />
<line x1="338.6" y1="5" x2="338.6" y2="7.2" stroke="#1a1a1a" stroke-width="0.8" />
<text x="338.4" y="177.3" font-size="7.8" text-anchor="middle" fill="#1a1a1a" >−20</text>
<line x1="343.3" y1="167.3" x2="343.3" y2="168.5" stroke="#1a1a1a" stroke-width="0.8" />
<line x1="343.3" y1="5" x2="343.3" y2="6.2" stroke="#1a1a1a" stroke-width="0.8" />
<line x1="348.1" y1="167.3" x2="348.1" y2="168.5" stroke="#1a1a1a" stroke-width="0.8" />
<line x1="348.1" y1="5" x2="348.1" y2="6.2" stroke="#1a1a1a" stroke-width="0.8" />
<line x1="352.8" y1="167.3" x2="352.8" y2="168.5" stroke="#1a1a1a" stroke-width="0.8" />
<line x1="352.8" y1="5" x2="352.8" y2="6.2" stroke="#1a1a1a" stroke-width="0.8" />
<line x1="357.6" y1="167.3" x2="357.6" y2="168.5" stroke="#1a1a1a" stroke-width="0.8" />
<line x1="357.6" y1="5" x2="357.6" y2="6.2" stroke="#1a1a1a" stroke-width="0.8" />
<line x1="362.3" y1="167.3" x2="362.3" y2="169.5" stroke="#1a1a1a" stroke-width="0.8" />
<line x1="362.3" y1="5" x2="362.3" y2="7.2" stroke="#1a1a1a" stroke-width="0.8" />
<text x="362.1" y="177.3" font-size="7.8" text-anchor="middle" fill="#1a1a1a" >−15</text>
<line x1="367.1" y1="167.3" x2="367.1" y2="168.5" stroke="#1a1a1a" stroke-width="0.8" />
<line x1="367.1" y1="5" x2="367.1" y2="6.2" stroke="#1a1a1a" stroke-width="0.8" />
<line x1="371.8" y1="167.3" x2="371.8" y2="168.5" stroke="#1a1a1a" stroke-width="0.8" />
<line x1="371.8" y1="5" x2="371.8" y2="6.2" stroke="#1a1a1a" stroke-width="0.8" />
<line x1="376.6" y1="167.3" x2="376.6" y2="168.5" stroke="#1a1a1a" stroke-width="0.8" />
<line x1="376.6" y1="5" x2="376.6" y2="6.2" stroke="#1a1a1a" stroke-width="0.8" />
<line x1="381.3" y1="167.3" x2="381.3" y2="168.5" stroke="#1a1a1a" stroke-width="0.8" />
<line x1="381.3" y1="5" x2="381.3" y2="6.2" stroke="#1a1a1a" stroke-width="0.8" />
<line x1="386.1" y1="167.3" x2="386.1" y2="169.5" stroke="#1a1a1a" stroke-width="0.8" />
<line x1="386.1" y1="5" x2="386.1" y2="7.2" stroke="#1a1a1a" stroke-width="0.8" />
<text x="385.9" y="177.3" font-size="7.8" text-anchor="middle" fill="#1a1a1a" >−10</text>
<line x1="390.8" y1="167.3" x2="390.8" y2="168.5" stroke="#1a1a1a" stroke-width="0.8" />
<line x1="390.8" y1="5" x2="390.8" y2="6.2" stroke="#1a1a1a" stroke-width="0.8" />
<line x1="395.6" y1="167.3" x2="395.6" y2="168.5" stroke="#1a1a1a" stroke-width="0.8" />
<line x1="395.6" y1="5" x2="395.6" y2="6.2" stroke="#1a1a1a" stroke-width="0.8" />
<line x1="400.3" y1="167.3" x2="400.3" y2="168.5" stroke="#1a1a1a" stroke-width="0.8" />
<line x1="400.3" y1="5" x2="400.3" y2="6.2" stroke="#1a1a1a" stroke-width="0.8" />
<line x1="405.1" y1="167.3" x2="405.1" y2="168.5" stroke="#1a1a1a" stroke-width="0.8" />
<line x1="405.1" y1="5" x2="405.1" y2="6.2" stroke="#1a1a1a" stroke-width="0.8" />
<line x1="409.8" y1="167.3" x2="409.8" y2="169.5" stroke="#1a1a1a" stroke-width="0.8" />
<line x1="409.8" y1="5" x2="409.8" y2="7.2" stroke="#1a1a1a" stroke-width="0.8" />
<text x="409.6" y="177.3" font-size="7.8" text-anchor="middle" fill="#1a1a1a" >−5</text>
<line x1="414.6" y1="167.3" x2="414.6" y2="168.5" stroke="#1a1a1a" stroke-width="0.8" />
<line x1="414.6" y1="5" x2="414.6" y2="6.2" stroke="#1a1a1a" stroke-width="0.8" />
<line x1="419.3" y1="167.3" x2="419.3" y2="168.5" stroke="#1a1a1a" stroke-width="0.8" />
<line x1="419.3" y1="5" x2="419.3" y2="6.2" stroke="#1a1a1a" stroke-width="0.8" />
<line x1="424.1" y1="167.3" x2="424.1" y2="168.5" stroke="#1a1a1a" stroke-width="0.8" />
<line x1="424.1" y1="5" x2="424.1" y2="6.2" stroke="#1a1a1a" stroke-width="0.8" />
<line x1="428.8" y1="167.3" x2="428.8" y2="168.5" stroke="#1a1a1a" stroke-width="0.8" />
<line x1="428.8" y1="5" x2="428.8" y2="6.2" stroke="#1a1a1a" stroke-width="0.8" />
<line x1="433.6" y1="167.3" x2="433.6" y2="169.5" stroke="#1a1a1a" stroke-width="0.8" />
<line x1="433.6" y1="5" x2="433.6" y2="7.2" stroke="#1a1a1a" stroke-width="0.8" />
<text x="433.6" y="177.3" font-size="7.8" text-anchor="middle" fill="#1a1a1a" >0</text>
<line x1="438.4" y1="167.3" x2="438.4" y2="168.5" stroke="#1a1a1a" stroke-width="0.8" />
<line x1="438.4" y1="5" x2="438.4" y2="6.2" stroke="#1a1a1a" stroke-width="0.8" />
<line x1="443.1" y1="167.3" x2="443.1" y2="168.5" stroke="#1a1a1a" stroke-width="0.8" />
<line x1="443.1" y1="5" x2="443.1" y2="6.2" stroke="#1a1a1a" stroke-width="0.8" />
<line x1="447.9" y1="167.3" x2="447.9" y2="168.5" stroke="#1a1a1a" stroke-width="0.8" />
<line x1="447.9" y1="5" x2="447.9" y2="6.2" stroke="#1a1a1a" stroke-width="0.8" />
<line x1="452.6" y1="167.3" x2="452.6" y2="168.5" stroke="#1a1a1a" stroke-width="0.8" />
<line x1="452.6" y1="5" x2="452.6" y2="6.2" stroke="#1a1a1a" stroke-width="0.8" />
<line x1="457.4" y1="167.3" x2="457.4" y2="169.5" stroke="#1a1a1a" stroke-width="0.8" />
<line x1="457.4" y1="5" x2="457.4" y2="7.2" stroke="#1a1a1a" stroke-width="0.8" />
<text x="457.4" y="177.3" font-size="7.8" text-anchor="middle" fill="#1a1a1a" >5</text>
<line x1="462.1" y1="167.3" x2="462.1" y2="168.5" stroke="#1a1a1a" stroke-width="0.8" />
<line x1="462.1" y1="5" x2="462.1" y2="6.2" stroke="#1a1a1a" stroke-width="0.8" />
<line x1="466.9" y1="167.3" x2="466.9" y2="168.5" stroke="#1a1a1a" stroke-width="0.8" />
<line x1="466.9" y1="5" x2="466.9" y2="6.2" stroke="#1a1a1a" stroke-width="0.8" />
<line x1="471.6" y1="167.3" x2="471.6" y2="168.5" stroke="#1a1a1a" stroke-width="0.8" />
<line x1="471.6" y1="5" x2="471.6" y2="6.2" stroke="#1a1a1a" stroke-width="0.8" />
<line x1="476.4" y1="167.3" x2="476.4" y2="168.5" stroke="#1a1a1a" stroke-width="0.8" />
<line x1="476.4" y1="5" x2="476.4" y2="6.2" stroke="#1a1a1a" stroke-width="0.8" />
<line x1="481.1" y1="167.3" x2="481.1" y2="169.5" stroke="#1a1a1a" stroke-width="0.8" />
<line x1="481.1" y1="5" x2="481.1" y2="7.2" stroke="#1a1a1a" stroke-width="0.8" />
<text x="481.1" y="177.3" font-size="7.8" text-anchor="middle" fill="#1a1a1a" >10</text>
<line x1="485.9" y1="167.3" x2="485.9" y2="168.5" stroke="#1a1a1a" stroke-width="0.8" />
<line x1="485.9" y1="5" x2="485.9" y2="6.2" stroke="#1a1a1a" stroke-width="0.8" />
<line x1="490.6" y1="167.3" x2="490.6" y2="168.5" stroke="#1a1a1a" stroke-width="0.8" />
<line x1="490.6" y1="5" x2="490.6" y2="6.2" stroke="#1a1a1a" stroke-width="0.8" />
<line x1="495.4" y1="167.3" x2="495.4" y2="168.5" stroke="#1a1a1a" stroke-width="0.8" />
<line x1="495.4" y1="5" x2="495.4" y2="6.2" stroke="#1a1a1a" stroke-width="0.8" />
<line x1="500.1" y1="167.3" x2="500.1" y2="168.5" stroke="#1a1a1a" stroke-width="0.8" />
<line x1="500.1" y1="5" x2="500.1" y2="6.2" stroke="#1a1a1a" stroke-width="0.8" />
<line x1="504.9" y1="167.3" x2="504.9" y2="169.5" stroke="#1a1a1a" stroke-width="0.8" />
<line x1="504.9" y1="5" x2="504.9" y2="7.2" stroke="#1a1a1a" stroke-width="0.8" />
<text x="504.9" y="177.3" font-size="7.8" text-anchor="middle" fill="#1a1a1a" >15</text>
<line x1="509.6" y1="167.3" x2="509.6" y2="168.5" stroke="#1a1a1a" stroke-width="0.8" />
<line x1="509.6" y1="5" x2="509.6" y2="6.2" stroke="#1a1a1a" stroke-width="0.8" />
<line x1="514.4" y1="167.3" x2="514.4" y2="168.5" stroke="#1a1a1a" stroke-width="0.8" />
<line x1="514.4" y1="5" x2="514.4" y2="6.2" stroke="#1a1a1a" stroke-width="0.8" />
<line x1="519.1" y1="167.3" x2="519.1" y2="168.5" stroke="#1a1a1a" stroke-width="0.8" />
<line x1="519.1" y1="5" x2="519.1" y2="6.2" stroke="#1a1a1a" stroke-width="0.8" />
<line x1="523.9" y1="167.3" x2="523.9" y2="168.5" stroke="#1a1a1a" stroke-width="0.8" />
<line x1="523.9" y1="5" x2="523.9" y2="6.2" stroke="#1a1a1a" stroke-width="0.8" />
<line x1="528.6" y1="167.3" x2="528.6" y2="169.5" stroke="#1a1a1a" stroke-width="0.8" />
<line x1="528.6" y1="5" x2="528.6" y2="7.2" stroke="#1a1a1a" stroke-width="0.8" />
<text x="528.6" y="177.3" font-size="7.8" text-anchor="middle" fill="#1a1a1a" >20</text>
<line x1="533.4" y1="167.3" x2="533.4" y2="168.5" stroke="#1a1a1a" stroke-width="0.8" />
<line x1="533.4" y1="5" x2="533.4" y2="6.2" stroke="#1a1a1a" stroke-width="0.8" />
<line x1="538.1" y1="167.3" x2="538.1" y2="168.5" stroke="#1a1a1a" stroke-width="0.8" />
<line x1="538.1" y1="5" x2="538.1" y2="6.2" stroke="#1a1a1a" stroke-width="0.8" />
<line x1="309.1" y1="167.2" x2="307.6" y2="167.2" stroke="#1a1a1a" stroke-width="0.8" />
<line x1="542.4" y1="167.2" x2="541" y2="167.2" stroke="#1a1a1a" stroke-width="0.8" />
<line x1="309.1" y1="157.7" x2="307.6" y2="157.7" stroke="#1a1a1a" stroke-width="0.8" />
<line x1="542.4" y1="157.7" x2="541" y2="157.7" stroke="#1a1a1a" stroke-width="0.8" />
<line x1="309.1" y1="148.1" x2="307.6" y2="148.1" stroke="#1a1a1a" stroke-width="0.8" />
<line x1="542.4" y1="148.1" x2="541" y2="148.1" stroke="#1a1a1a" stroke-width="0.8" />
<line x1="309.1" y1="138.6" x2="307.6" y2="138.6" stroke="#1a1a1a" stroke-width="0.8" />
<line x1="542.4" y1="138.6" x2="541" y2="138.6" stroke="#1a1a1a" stroke-width="0.8" />
<line x1="309.1" y1="129" x2="307.6" y2="129" stroke="#1a1a1a" stroke-width="0.8" />
<line x1="542.4" y1="129" x2="541" y2="129" stroke="#1a1a1a" stroke-width="0.8" />
<line x1="309.1" y1="119.5" x2="307.6" y2="119.5" stroke="#1a1a1a" stroke-width="0.8" />
<line x1="542.4" y1="119.5" x2="541" y2="119.5" stroke="#1a1a1a" stroke-width="0.8" />
<line x1="309.1" y1="109.9" x2="307.6" y2="109.9" stroke="#1a1a1a" stroke-width="0.8" />
<line x1="542.4" y1="109.9" x2="541" y2="109.9" stroke="#1a1a1a" stroke-width="0.8" />
<line x1="309.1" y1="100.4" x2="307.6" y2="100.4" stroke="#1a1a1a" stroke-width="0.8" />
<line x1="542.4" y1="100.4" x2="541" y2="100.4" stroke="#1a1a1a" stroke-width="0.8" />
<line x1="309.1" y1="90.8" x2="307.6" y2="90.8" stroke="#1a1a1a" stroke-width="0.8" />
<line x1="542.4" y1="90.8" x2="541" y2="90.8" stroke="#1a1a1a" stroke-width="0.8" />
<line x1="309.1" y1="81.2" x2="307.6" y2="81.2" stroke="#1a1a1a" stroke-width="0.8" />
<line x1="542.4" y1="81.2" x2="541" y2="81.2" stroke="#1a1a1a" stroke-width="0.8" />
<line x1="309.1" y1="71.7" x2="307.6" y2="71.7" stroke="#1a1a1a" stroke-width="0.8" />
<line x1="542.4" y1="71.7" x2="541" y2="71.7" stroke="#1a1a1a" stroke-width="0.8" />
<line x1="309.1" y1="62.2" x2="307.6" y2="62.2" stroke="#1a1a1a" stroke-width="0.8" />
<line x1="542.4" y1="62.2" x2="541" y2="62.2" stroke="#1a1a1a" stroke-width="0.8" />
<line x1="309.1" y1="52.6" x2="307.6" y2="52.6" stroke="#1a1a1a" stroke-width="0.8" />
<line x1="542.4" y1="52.6" x2="541" y2="52.6" stroke="#1a1a1a" stroke-width="0.8" />
<line x1="309.1" y1="43.1" x2="307.6" y2="43.1" stroke="#1a1a1a" stroke-width="0.8" />
<line x1="542.4" y1="43.1" x2="541" y2="43.1" stroke="#1a1a1a" stroke-width="0.8" />
<line x1="309.1" y1="33.5" x2="307.6" y2="33.5" stroke="#1a1a1a" stroke-width="0.8" />
<line x1="542.4" y1="33.5" x2="541" y2="33.5" stroke="#1a1a1a" stroke-width="0.8" />
<line x1="309.1" y1="24" x2="307.6" y2="24" stroke="#1a1a1a" stroke-width="0.8" />
<line x1="542.4" y1="24" x2="541" y2="24" stroke="#1a1a1a" stroke-width="0.8" />
<line x1="309.1" y1="14.4" x2="307.6" y2="14.4" stroke="#1a1a1a" stroke-width="0.8" />
<line x1="542.4" y1="14.4" x2="541" y2="14.4" stroke="#1a1a1a" stroke-width="0.8" />
<line x1="309.1" y1="157.7" x2="306.3" y2="157.7" stroke="#1a1a1a" stroke-width="0.9" />
<line x1="542.4" y1="157.7" x2="539.8" y2="157.7" stroke="#1a1a1a" stroke-width="0.9" />
<text x="304.6" y="160.3" font-size="7.8" text-anchor="end" fill="#1a1a1a" >−0.5</text>
<line x1="309.1" y1="109.9" x2="306.3" y2="109.9" stroke="#1a1a1a" stroke-width="0.9" />
<line x1="542.4" y1="109.9" x2="539.8" y2="109.9" stroke="#1a1a1a" stroke-width="0.9" />
<text x="304.6" y="112.6" font-size="7.8" text-anchor="end" fill="#1a1a1a" >0</text>
<line x1="309.1" y1="62.2" x2="306.3" y2="62.2" stroke="#1a1a1a" stroke-width="0.9" />
<line x1="542.4" y1="62.2" x2="539.8" y2="62.2" stroke="#1a1a1a" stroke-width="0.9" />
<text x="304.6" y="64.9" font-size="7.8" text-anchor="end" fill="#1a1a1a" >0.5</text>
<line x1="309.1" y1="14.4" x2="306.3" y2="14.4" stroke="#1a1a1a" stroke-width="0.9" />
<line x1="542.4" y1="14.4" x2="539.8" y2="14.4" stroke="#1a1a1a" stroke-width="0.9" />
<text x="304.6" y="17.1" font-size="7.8" text-anchor="end" fill="#1a1a1a" >1.0</text>
<rect x="309.1" y="5" width="233.3" height="162.3" fill="none" stroke="#111" stroke-width="1.3"/>
<text x="425.8" y="189.2" font-size="7.8" text-anchor="middle" fill="#1a1a1a">Reaction parameter <tspan font-style="italic">s</tspan> (amu<tspan font-size="5.4" dy="-3">1/2</tspan><tspan dy="3"> Bohr)</tspan></text>
<text transform="translate(287.6,85) rotate(-90)" font-size="7.8" text-anchor="middle" fill="#1a1a1a">Selected curvature components</text>
<text x="422.8" y="204.5" font-size="13.5" text-anchor="middle" fill="#1a1a1a" >b)</text>
<text x="387.4" y="78.2" font-size="7.8" text-anchor="start" fill="#1a1a1a"><tspan dy="0">O</tspan><tspan font-size="5.6" dy="1.6">a</tspan><tspan dy="-1.6">O</tspan><tspan font-size="5.6" dy="1.6">b</tspan></text>
<line x1="405.7" y1="76.6" x2="410.2" y2="79.1" stroke="#1a1a1a" stroke-width="0.9" />
<polygon points="412.3,80.2 409,79.9 410.3,77.6" fill="#111"/>
<text x="388.8" y="105.6" font-size="7.8" text-anchor="start" fill="#1a1a1a"><tspan dy="0">C</tspan><tspan font-size="5.6" dy="1.6">b</tspan><tspan dy="-1.6">C</tspan><tspan font-size="5.6" dy="1.6">d</tspan></text>
<line x1="406.8" y1="103.6" x2="411.2" y2="105.5" stroke="#1a1a1a" stroke-width="0.9" />
<polygon points="413.4,106.4 410.1,106.5 411.2,104" fill="#111"/>
<text x="388.8" y="133.6" font-size="7.8" text-anchor="start" fill="#1a1a1a"><tspan dy="0">O</tspan><tspan font-size="5.6" dy="1.6">b</tspan><tspan dy="-1.6">C</tspan><tspan font-size="5.6" dy="1.6">b</tspan></text>
<line x1="404.6" y1="130.4" x2="408.2" y2="128.8" stroke="#1a1a1a" stroke-width="0.9" />
<polygon points="410.4,127.8 408.2,130.3 407.1,127.8" fill="#111"/>
<text x="410.3" y="149.3" font-size="7.8" text-anchor="start" fill="#1a1a1a"><tspan dy="0">O</tspan><tspan font-size="5.6" dy="1.6">a</tspan><tspan dy="-1.6">H</tspan></text>
<line x1="424.3" y1="146" x2="429.9" y2="142.1" stroke="#1a1a1a" stroke-width="0.9" />
<polygon points="431.9,140.7 430.2,143.5 428.7,141.3" fill="#111"/>
<text x="478.8" y="133.6" font-size="7.8" text-anchor="start" fill="#1a1a1a"><tspan dy="0">O</tspan><tspan font-size="5.6" dy="1.6">b</tspan><tspan dy="-1.6">H</tspan></text>
<line x1="477" y1="131.3" x2="470.6" y2="128" stroke="#1a1a1a" stroke-width="0.9" />
<polygon points="468.5,126.9 471.8,127.1 470.5,129.5" fill="#111"/>
<text x="475.8" y="31.8" font-size="7.8" text-anchor="start" fill="#1a1a1a"><tspan dy="0">O</tspan><tspan font-size="5.6" dy="1.6">b</tspan><tspan dy="-1.6">C</tspan><tspan font-size="5.6" dy="1.6">c</tspan></text>
<line x1="473.9" y1="28.6" x2="462.5" y2="25.9" stroke="#1a1a1a" stroke-width="0.8" />
<clipPath id="clipd"><rect x="311.8" y="225.3" width="232.9" height="162.7"/></clipPath>
<line x1="330.6" y1="225.3" x2="330.6" y2="241.5" stroke="#1c1c1c" stroke-width="1.2" stroke-dasharray="2.7 1.6"/>
<line x1="330.6" y1="279" x2="330.6" y2="388" stroke="#1c1c1c" stroke-width="1.2" stroke-dasharray="2.7 1.6"/>
<line x1="361.4" y1="225.3" x2="361.4" y2="241.5" stroke="#1c1c1c" stroke-width="1.2" stroke-dasharray="2.7 1.6"/>
<line x1="361.4" y1="279" x2="361.4" y2="388" stroke="#1c1c1c" stroke-width="1.2" stroke-dasharray="2.7 1.6"/>
<line x1="408.4" y1="225.3" x2="408.4" y2="388" stroke="#1c1c1c" stroke-width="1.2" stroke-dasharray="2.7 1.6"/>
<line x1="426" y1="225.3" x2="426" y2="388" stroke="#1c1c1c" stroke-width="1.2" stroke-dasharray="2.7 1.6"/>
<line x1="435.3" y1="225.3" x2="435.3" y2="388" stroke="#111" stroke-width="0.9" />
<line x1="442.9" y1="225.3" x2="442.9" y2="388" stroke="#1c1c1c" stroke-width="1.2" stroke-dasharray="2.7 1.6"/>
<line x1="456.9" y1="225.3" x2="456.9" y2="388" stroke="#1c1c1c" stroke-width="1.2" stroke-dasharray="2.7 1.6"/>
<line x1="466.1" y1="225.3" x2="466.1" y2="388" stroke="#1c1c1c" stroke-width="1.2" stroke-dasharray="2.7 1.6"/>
<line x1="472.9" y1="225.3" x2="472.9" y2="388" stroke="#1c1c1c" stroke-width="1.2" stroke-dasharray="2.7 1.6"/>
<line x1="491.7" y1="225.3" x2="491.7" y2="236" stroke="#1c1c1c" stroke-width="1.2" stroke-dasharray="2.7 1.6"/>
<line x1="491.7" y1="288" x2="491.7" y2="388" stroke="#1c1c1c" stroke-width="1.2" stroke-dasharray="2.7 1.6"/>
<line x1="515.7" y1="225.3" x2="515.7" y2="236" stroke="#1c1c1c" stroke-width="1.2" stroke-dasharray="2.7 1.6"/>
<line x1="515.7" y1="288" x2="515.7" y2="388" stroke="#1c1c1c" stroke-width="1.2" stroke-dasharray="2.7 1.6"/>
<line x1="311.8" y1="321.2" x2="544.7" y2="321.2" stroke="#1c1c1c" stroke-width="1.2" stroke-dasharray="2.7 1.6"/>
<path d="M307 340.8 L308.1 340.8 L309.2 340.8 L310.2 340.8 L311.3 340.8 L312.4 340.8 L313.5 340.8 L314.6 340.8 L315.7 340.8 L316.8 340.8 L317.8 340.8 L318.9 340.8 L320 340.8 L321.1 340.8 L322.2 340.8 L323.3 340.8 L324.4 340.8 L325.5 340.8 L326.5 340.8 L327.6 340.8 L328.7 340.8 L329.8 340.8 L330.9 340.8 L332 340.8 L333.1 340.8 L334.1 340.8 L335.2 340.8 L336.3 340.8 L337.4 340.8 L338.5 340.8 L339.6 340.8 L340.7 340.8 L341.8 340.8 L342.8 340.8 L343.9 340.8 L345 340.8 L346.1 340.8 L347.2 340.8 L348.3 340.8 L349.4 340.8 L350.5 340.8 L351.5 340.8 L352.6 340.8 L353.7 340.8 L354.8 340.8 L355.9 340.8 L357 340.8 L358.1 340.8 L359.1 340.8 L360.2 340.8 L361.3 340.8 L362.4 340.8 L363.5 340.8 L364.6 340.8 L365.7 340.8 L366.8 340.8 L367.8 340.8 L368.9 340.8 L370 340.8 L371.1 340.8 L372.2 340.8 L373.3 340.8 L374.4 340.8 L375.4 340.8 L376.5 340.8 L377.6 340.8 L378.7 340.8 L379.8 340.8 L380.9 340.8 L382 340.8 L383.1 340.8 L384.1 340.8 L385.2 340.8 L386.3 340.8 L387.4 340.8 L388.5 340.8 L389.6 340.8 L390.7 340.8 L391.7 340.8 L392.8 340.8 L393.9 340.8 L395 340.8 L396.1 340.8 L397.2 340.8 L398.3 340.8 L399.4 340.8 L400.4 340.8 L401.5 340.8 L402.6 340.8 L403.7 340.8 L404.8 340.8 L405.9 340.8 L407 340.8 L408 340.8 L409.1 340.8 L410.2 340.8 L411.3 340.8 L412.4 340.8 L413.5 340.8 L414.6 340.9 L415.7 340.9 L416.7 341 L417.8 341.2 L418.9 341.4 L420 341.6 L421.1 341.9 L422.2 342.2 L423.3 342.5 L424.3 342.9 L425.4 343.3 L426.5 343.9 L427.6 344.7 L428.7 345.6 L429.8 346.7 L430.9 347.7 L432 348.9 L433 350.1 L434.1 351.4 L435.2 352.7 L436.3 354 L437.4 355.4 L438.5 356.8 L439.6 358.1 L440.7 359.5 L441.7 360.7 L442.8 361.9 L443.9 362.9 L445 363.8 L446.1 364.6 L447.2 365.2 L448.3 365.8 L449.3 366.2 L450.4 366.6 L451.5 366.9 L452.6 367.2 L453.7 367.4 L454.8 367.6 L455.9 367.7 L457 367.8 L458 367.9 L459.1 368 L460.2 368 L461.3 368.1 L462.4 368.1 L463.5 368.1 L464.6 368.2 L465.6 368.2 L466.7 368.2 L467.8 368.2 L468.9 368.2 L470 368.3 L471.1 368.3 L472.2 368.3 L473.3 368.3 L474.3 368.3 L475.4 368.3 L476.5 368.3 L477.6 368.3 L478.7 368.3 L479.8 368.3 L480.9 368.4 L481.9 368.4 L483 368.4 L484.1 368.4 L485.2 368.4 L486.3 368.4 L487.4 368.4 L488.5 368.4 L489.6 368.4 L490.6 368.4 L491.7 368.4 L492.8 368.4 L493.9 368.4 L495 368.5 L496.1 368.5 L497.2 368.5 L498.2 368.5 L499.3 368.5 L500.4 368.5 L501.5 368.5 L502.6 368.5 L503.7 368.5 L504.8 368.5 L505.9 368.5 L506.9 368.5 L508 368.5 L509.1 368.5 L510.2 368.5 L511.3 368.5 L512.4 368.5 L513.5 368.5 L514.6 368.5 L515.6 368.5 L516.7 368.6 L517.8 368.6 L518.9 368.6 L520 368.6 L521.1 368.6 L522.2 368.6 L523.2 368.6 L524.3 368.6 L525.4 368.6 L526.5 368.6 L527.6 368.6 L528.7 368.6 L529.8 368.6 L530.9 368.6 L531.9 368.6 L533 368.6 L534.1 368.6 L535.2 368.6 L536.3 368.6 L537.4 368.6 L538.5 368.6 L539.5 368.6 L540.6 368.6 L541.7 368.6 L542.8 368.6 L543.9 368.6 L545 368.6" fill="none" stroke="#f8b0ac" stroke-width="1.2" stroke-linejoin="round" clip-path="url(#clipd)" />
<path d="M307 364.5 L308.1 364.5 L309.2 364.5 L310.2 364.5 L311.3 364.5 L312.4 364.5 L313.5 364.5 L314.6 364.5 L315.7 364.5 L316.8 364.5 L317.8 364.5 L318.9 364.5 L320 364.5 L321.1 364.5 L322.2 364.5 L323.3 364.5 L324.4 364.5 L325.5 364.5 L326.5 364.5 L327.6 364.5 L328.7 364.5 L329.8 364.5 L330.9 364.5 L332 364.5 L333.1 364.5 L334.1 364.5 L335.2 364.5 L336.3 364.5 L337.4 364.5 L338.5 364.5 L339.6 364.5 L340.7 364.5 L341.8 364.5 L342.8 364.5 L343.9 364.5 L345 364.5 L346.1 364.5 L347.2 364.5 L348.3 364.5 L349.4 364.5 L350.5 364.5 L351.5 364.5 L352.6 364.5 L353.7 364.5 L354.8 364.5 L355.9 364.5 L357 364.5 L358.1 364.5 L359.1 364.5 L360.2 364.5 L361.3 364.5 L362.4 364.5 L363.5 364.5 L364.6 364.5 L365.7 364.5 L366.8 364.5 L367.8 364.5 L368.9 364.5 L370 364.5 L371.1 364.5 L372.2 364.5 L373.3 364.5 L374.4 364.5 L375.4 364.5 L376.5 364.5 L377.6 364.5 L378.7 364.5 L379.8 364.4 L380.9 364.4 L382 364.4 L383.1 364.4 L384.1 364.4 L385.2 364.4 L386.3 364.4 L387.4 364.4 L388.5 364.4 L389.6 364.4 L390.7 364.4 L391.7 364.4 L392.8 364.4 L393.9 364.4 L395 364.4 L396.1 364.4 L397.2 364.4 L398.3 364.4 L399.4 364.4 L400.4 364.4 L401.5 364.4 L402.6 364.3 L403.7 364.3 L404.8 364.3 L405.9 364.3 L407 364.2 L408 364.2 L409.1 364.2 L410.2 364.1 L411.3 364.1 L412.4 364.1 L413.5 364 L414.6 364 L415.7 364 L416.7 363.9 L417.8 363.8 L418.9 363.7 L420 363.6 L421.1 363.5 L422.2 363.4 L423.3 363.3 L424.3 363.2 L425.4 363.2 L426.5 363.2 L427.6 363.2 L428.7 363.3 L429.8 363.3 L430.9 363.4 L432 363.4 L433 363.5 L434.1 363.6 L435.2 363.7 L436.3 363.9 L437.4 364 L438.5 364.2 L439.6 364.3 L440.7 364.4 L441.7 364.5 L442.8 364.6 L443.9 364.7 L445 364.8 L446.1 364.9 L447.2 364.9 L448.3 365 L449.3 365 L450.4 365 L451.5 365 L452.6 365 L453.7 365 L454.8 365 L455.9 365 L457 365 L458 365 L459.1 365 L460.2 365 L461.3 365 L462.4 365 L463.5 365 L464.6 365 L465.6 365 L466.7 365 L467.8 365.1 L468.9 365.1 L470 365.1 L471.1 365.1 L472.2 365.1 L473.3 365.1 L474.3 365.1 L475.4 365.1 L476.5 365.1 L477.6 365.1 L478.7 365.1 L479.8 365.1 L480.9 365.1 L481.9 365.1 L483 365.1 L484.1 365.1 L485.2 365.1 L486.3 365.1 L487.4 365.1 L488.5 365.1 L489.6 365.1 L490.6 365.1 L491.7 365.1 L492.8 365.1 L493.9 365.1 L495 365.1 L496.1 365.1 L497.2 365.1 L498.2 365.1 L499.3 365.1 L500.4 365.1 L501.5 365.1 L502.6 365.1 L503.7 365.1 L504.8 365.1 L505.9 365.1 L506.9 365.1 L508 365.1 L509.1 365.1 L510.2 365.1 L511.3 365.1 L512.4 365.1 L513.5 365.1 L514.6 365.1 L515.6 365.1 L516.7 365.1 L517.8 365.1 L518.9 365.1 L520 365.1 L521.1 365.1 L522.2 365.1 L523.2 365.1 L524.3 365.1 L525.4 365.1 L526.5 365.1 L527.6 365.1 L528.7 365.1 L529.8 365.1 L530.9 365.1 L531.9 365.1 L533 365.1 L534.1 365.1 L535.2 365.1 L536.3 365.1 L537.4 365.1 L538.5 365.1 L539.5 365.1 L540.6 365.1 L541.7 365.1 L542.8 365.1 L543.9 365.1 L545 365.1" fill="none" stroke="#b58656" stroke-width="1.75" stroke-linejoin="round" clip-path="url(#clipd)" />
<path d="M307 351.5 L308.1 351.5 L309.2 351.5 L310.2 351.5 L311.3 351.5 L312.4 351.5 L313.5 351.5 L314.6 351.5 L315.7 351.5 L316.8 351.5 L317.8 351.5 L318.9 351.5 L320 351.5 L321.1 351.5 L322.2 351.5 L323.3 351.5 L324.4 351.5 L325.5 351.5 L326.5 351.5 L327.6 351.5 L328.7 351.5 L329.8 351.5 L330.9 351.5 L332 351.5 L333.1 351.5 L334.1 351.5 L335.2 351.5 L336.3 351.5 L337.4 351.5 L338.5 351.4 L339.6 351.4 L340.7 351.4 L341.8 351.4 L342.8 351.4 L343.9 351.4 L345 351.4 L346.1 351.4 L347.2 351.4 L348.3 351.4 L349.4 351.4 L350.5 351.4 L351.5 351.4 L352.6 351.4 L353.7 351.4 L354.8 351.4 L355.9 351.4 L357 351.4 L358.1 351.4 L359.1 351.4 L360.2 351.4 L361.3 351.4 L362.4 351.3 L363.5 351.3 L364.6 351.3 L365.7 351.3 L366.8 351.3 L367.8 351.3 L368.9 351.3 L370 351.3 L371.1 351.3 L372.2 351.3 L373.3 351.3 L374.4 351.3 L375.4 351.3 L376.5 351.3 L377.6 351.3 L378.7 351.3 L379.8 351.3 L380.9 351.2 L382 351.2 L383.1 351.2 L384.1 351.2 L385.2 351.2 L386.3 351.2 L387.4 351.2 L388.5 351.2 L389.6 351.2 L390.7 351.2 L391.7 351.2 L392.8 351.1 L393.9 351.1 L395 351.1 L396.1 351.1 L397.2 351.1 L398.3 351.1 L399.4 351 L400.4 351 L401.5 351 L402.6 351 L403.7 351 L404.8 351 L405.9 350.9 L407 350.9 L408 350.9 L409.1 350.9 L410.2 350.9 L411.3 350.9 L412.4 350.9 L413.5 350.9 L414.6 350.9 L415.7 351 L416.7 351 L417.8 351 L418.9 351.1 L420 351.1 L421.1 351.2 L422.2 351.3 L423.3 351.4 L424.3 351.6 L425.4 351.9 L426.5 352.1 L427.6 352.4 L428.7 352.8 L429.8 353.2 L430.9 353.7 L432 354.1 L433 354.6 L434.1 355.1 L435.2 355.7 L436.3 356.2 L437.4 356.8 L438.5 357.4 L439.6 357.9 L440.7 358.4 L441.7 358.8 L442.8 358.9 L443.9 358.7 L445 358.3 L446.1 357.8 L447.2 357 L448.3 356.4 L449.3 356 L450.4 355.7 L451.5 355.6 L452.6 355.5 L453.7 355.4 L454.8 355.4 L455.9 355.3 L457 355.3 L458 355.3 L459.1 355.3 L460.2 355.3 L461.3 355.3 L462.4 355.3 L463.5 355.3 L464.6 355.3 L465.6 355.2 L466.7 355.2 L467.8 355.2 L468.9 355.2 L470 355.2 L471.1 355.2 L472.2 355.2 L473.3 355.2 L474.3 355.2 L475.4 355.2 L476.5 355.2 L477.6 355.2 L478.7 355.2 L479.8 355.2 L480.9 355.2 L481.9 355.2 L483 355.2 L484.1 355.2 L485.2 355.2 L486.3 355.2 L487.4 355.2 L488.5 355.2 L489.6 355.2 L490.6 355.2 L491.7 355.2 L492.8 355.2 L493.9 355.2 L495 355.1 L496.1 355.1 L497.2 355.1 L498.2 355.1 L499.3 355.1 L500.4 355.1 L501.5 355.1 L502.6 355.1 L503.7 355.1 L504.8 355.1 L505.9 355.1 L506.9 355.1 L508 355.1 L509.1 355.1 L510.2 355.1 L511.3 355.1 L512.4 355.1 L513.5 355.1 L514.6 355.1 L515.6 355.1 L516.7 355.1 L517.8 355.1 L518.9 355.1 L520 355.1 L521.1 355.1 L522.2 355.1 L523.2 355.1 L524.3 355.1 L525.4 355.1 L526.5 355.1 L527.6 355.1 L528.7 355.1 L529.8 355.1 L530.9 355.1 L531.9 355.1 L533 355.1 L534.1 355.1 L535.2 355.1 L536.3 355.1 L537.4 355.1 L538.5 355.1 L539.5 355.1 L540.6 355.1 L541.7 355.1 L542.8 355.1 L543.9 355.1 L545 355.1" fill="none" stroke="#f8a440" stroke-width="1.5" stroke-linejoin="round" clip-path="url(#clipd)" />
<path d="M445.5 358.1 L446 357.8 L446.4 357.4 L446.9 357.1 L447.3 356.9 L447.8 356.6 L448.2 356.4 L448.7 356.2 L449.1 356.1 L449.6 355.9 L450 355.8 L450.5 355.7 L450.9 355.6 L451.4 355.6 L451.9 355.6 L452.3 355.5 L452.8 355.5 L453.2 355.5 L453.7 355.4 L454.1 355.4 L454.6 355.4 L455 355.4 L455.5 355.4 L455.9 355.3 L456.4 355.3 L456.9 355.3 L457.3 355.3 L457.8 355.3 L458.2 355.3 L458.7 355.3 L459.1 355.3 L459.6 355.3 L460 355.3 L460.5 355.3 L460.9 355.3 L461.4 355.3 L461.8 355.3 L462.3 355.3 L462.8 355.3 L463.2 355.3 L463.7 355.3 L464.1 355.3 L464.6 355.3 L465 355.3 L465.5 355.2 L465.9 355.2 L466.4 355.2 L466.8 355.2 L467.3 355.2 L467.8 355.2 L468.2 355.2 L468.7 355.2 L469.1 355.2 L469.6 355.2 L470 355.2 L470.5 355.2 L470.9 355.2 L471.4 355.2 L471.8 355.2 L472.3 355.2 L472.8 355.2 L473.2 355.2 L473.7 355.2 L474.1 355.2 L474.6 355.2 L475 355.2 L475.5 355.2 L475.9 355.2 L476.4 355.2 L476.8 355.2 L477.3 355.2 L477.7 355.2 L478.2 355.2 L478.7 355.2 L479.1 355.2 L479.6 355.2 L480 355.2 L480.5 355.2 L480.9 355.2 L481.4 355.2 L481.8 355.2 L482.3 355.2 L482.7 355.2 L483.2 355.2 L483.7 355.2 L484.1 355.2 L484.6 355.2 L485 355.2 L485.5 355.2 L485.9 355.2 L486.4 355.2 L486.8 355.2 L487.3 355.2 L487.7 355.2 L488.2 355.2 L488.7 355.2 L489.1 355.2 L489.6 355.2 L490 355.2 L490.5 355.2 L490.9 355.2 L491.4 355.2 L491.8 355.2 L492.3 355.2 L492.7 355.2 L493.2 355.2 L493.6 355.2 L494.1 355.1 L494.6 355.1 L495 355.1 L495.5 355.1 L495.9 355.1 L496.4 355.1 L496.8 355.1 L497.3 355.1 L497.7 355.1 L498.2 355.1 L498.6 355.1 L499.1 355.1 L499.6 355.1 L500 355.1 L500.5 355.1 L500.9 355.1 L501.4 355.1 L501.8 355.1 L502.3 355.1 L502.7 355.1 L503.2 355.1 L503.6 355.1 L504.1 355.1 L504.6 355.1 L505 355.1 L505.5 355.1 L505.9 355.1 L506.4 355.1 L506.8 355.1 L507.3 355.1 L507.7 355.1 L508.2 355.1 L508.6 355.1 L509.1 355.1 L509.5 355.1 L510 355.1 L510.5 355.1 L510.9 355.1 L511.4 355.1 L511.8 355.1 L512.3 355.1 L512.7 355.1 L513.2 355.1 L513.6 355.1 L514.1 355.1 L514.5 355.1 L515 355.1 L515.5 355.1 L515.9 355.1 L516.4 355.1 L516.8 355.1 L517.3 355.1 L517.7 355.1 L518.2 355.1 L518.6 355.1 L519.1 355.1 L519.5 355.1 L520 355.1 L520.4 355.1 L520.9 355.1 L521.4 355.1 L521.8 355.1 L522.3 355.1 L522.7 355.1 L523.2 355.1 L523.6 355.1 L524.1 355.1 L524.5 355.1 L525 355.1 L525.4 355.1 L525.9 355.1 L526.4 355.1 L526.8 355.1 L527.3 355.1 L527.7 355.1 L528.2 355.1 L528.6 355.1 L529.1 355.1 L529.5 355.1 L530 355.1 L530.4 355.1 L530.9 355.1 L531.4 355.1 L531.8 355.1 L532.3 355.1 L532.7 355.1 L533.2 355.1 L533.6 355.1 L534.1 355.1 L534.5 355.1 L535 355.1 L535.4 355.1 L535.9 355.1 L536.3 355.1 L536.8 355.1 L537.3 355.1 L537.7 355.1 L538.2 355.1 L538.6 355.1 L539.1 355.1 L539.5 355.1 L540 355.1 L540.4 355.1 L540.9 355.1 L541.3 355.1 L541.8 355.1 L542.3 355.1 L542.7 355.1 L543.2 355.1 L543.6 355.1 L544.1 355.1 L544.5 355.1 L545 355.1" fill="none" stroke="#f8a440" stroke-width="1.85" stroke-linejoin="round" clip-path="url(#clipd)" />
<path d="M307 340.5 L308.1 340.5 L309.2 340.5 L310.2 340.5 L311.3 340.5 L312.4 340.5 L313.5 340.5 L314.6 340.5 L315.7 340.5 L316.8 340.5 L317.8 340.5 L318.9 340.5 L320 340.5 L321.1 340.5 L322.2 340.5 L323.3 340.5 L324.4 340.5 L325.5 340.5 L326.5 340.5 L327.6 340.5 L328.7 340.5 L329.8 340.5 L330.9 340.5 L332 340.5 L333.1 340.5 L334.1 340.5 L335.2 340.5 L336.3 340.5 L337.4 340.5 L338.5 340.5 L339.6 340.5 L340.7 340.5 L341.8 340.5 L342.8 340.5 L343.9 340.5 L345 340.5 L346.1 340.5 L347.2 340.5 L348.3 340.5 L349.4 340.5 L350.5 340.5 L351.5 340.5 L352.6 340.5 L353.7 340.5 L354.8 340.5 L355.9 340.5 L357 340.5 L358.1 340.5 L359.1 340.5 L360.2 340.5 L361.3 340.5 L362.4 340.5 L363.5 340.5 L364.6 340.5 L365.7 340.5 L366.8 340.5 L367.8 340.5 L368.9 340.5 L370 340.5 L371.1 340.5 L372.2 340.5 L373.3 340.5 L374.4 340.5 L375.4 340.5 L376.5 340.4 L377.6 340.4 L378.7 340.4 L379.8 340.4 L380.9 340.4 L382 340.4 L383.1 340.4 L384.1 340.4 L385.2 340.4 L386.3 340.4 L387.4 340.4 L388.5 340.4 L389.6 340.4 L390.7 340.4 L391.7 340.4 L392.8 340.4 L393.9 340.4 L395 340.4 L396.1 340.4 L397.2 340.4 L398.3 340.4 L399.4 340.4 L400.4 340.4 L401.5 340.4 L402.6 340.4 L403.7 340.4 L404.8 340.4 L405.9 340.4 L407 340.4 L408 340.4 L409.1 340.4 L410.2 340.4 L411.3 340.4 L412.4 340.4 L413.5 340.4 L414.6 340.4 L415.7 340.4 L416.7 340.4 L417.8 340.4 L418.9 340.4 L420 340.4 L421.1 340.4 L422.2 340.4 L423.3 340.4 L424.3 340.4 L425.4 340.4 L426.5 340.4 L427.6 340.4 L428.7 340.4 L429.8 340.4 L430.9 340.4 L432 340.4 L433 340.4 L434.1 340.4 L435.2 340.4 L436.3 340.4 L437.4 340.4 L438.5 340.4 L439.6 340.4 L440.7 340.4 L441.7 340.4 L442.8 340.4 L443.9 340.4 L445 340.4 L446.1 340.4 L447.2 340.4 L448.3 340.4 L449.3 340.4 L450.4 340.4 L451.5 340.4 L452.6 340.4 L453.7 340.4 L454.8 340.4 L455.9 340.4 L457 340.4 L458 340.4 L459.1 340.4 L460.2 340.4 L461.3 340.4 L462.4 340.4 L463.5 340.4 L464.6 340.4 L465.6 340.4 L466.7 340.4 L467.8 340.4 L468.9 340.4 L470 340.4 L471.1 340.4 L472.2 340.4 L473.3 340.4 L474.3 340.4 L475.4 340.4 L476.5 340.3 L477.6 340.3 L478.7 340.3 L479.8 340.3 L480.9 340.3 L481.9 340.3 L483 340.3 L484.1 340.3 L485.2 340.3 L486.3 340.3 L487.4 340.3 L488.5 340.3 L489.6 340.3 L490.6 340.3 L491.7 340.3 L492.8 340.3 L493.9 340.3 L495 340.3 L496.1 340.3 L497.2 340.3 L498.2 340.3 L499.3 340.3 L500.4 340.3 L501.5 340.3 L502.6 340.3 L503.7 340.3 L504.8 340.3 L505.9 340.3 L506.9 340.3 L508 340.3 L509.1 340.3 L510.2 340.3 L511.3 340.3 L512.4 340.3 L513.5 340.3 L514.6 340.3 L515.6 340.3 L516.7 340.3 L517.8 340.3 L518.9 340.3 L520 340.3 L521.1 340.3 L522.2 340.3 L523.2 340.3 L524.3 340.3 L525.4 340.3 L526.5 340.3 L527.6 340.3 L528.7 340.3 L529.8 340.3 L530.9 340.3 L531.9 340.3 L533 340.3 L534.1 340.3 L535.2 340.3 L536.3 340.3 L537.4 340.3 L538.5 340.3 L539.5 340.3 L540.6 340.3 L541.7 340.3 L542.8 340.3 L543.9 340.3 L545 340.3" fill="none" stroke="#f1625a" stroke-width="2.0" stroke-linejoin="round" clip-path="url(#clipd)" />
<path d="M307 349.7 L308.1 349.7 L309.2 349.7 L310.2 349.7 L311.3 349.7 L312.4 349.7 L313.5 349.7 L314.6 349.7 L315.7 349.7 L316.8 349.6 L317.8 349.6 L318.9 349.6 L320 349.6 L321.1 349.6 L322.2 349.6 L323.3 349.6 L324.4 349.6 L325.5 349.6 L326.5 349.6 L327.6 349.6 L328.7 349.6 L329.8 349.6 L330.9 349.6 L332 349.6 L333.1 349.6 L334.1 349.6 L335.2 349.6 L336.3 349.6 L337.4 349.6 L338.5 349.6 L339.6 349.6 L340.7 349.6 L341.8 349.6 L342.8 349.6 L343.9 349.6 L345 349.6 L346.1 349.6 L347.2 349.6 L348.3 349.6 L349.4 349.6 L350.5 349.6 L351.5 349.6 L352.6 349.6 L353.7 349.6 L354.8 349.6 L355.9 349.6 L357 349.6 L358.1 349.6 L359.1 349.6 L360.2 349.6 L361.3 349.6 L362.4 349.6 L363.5 349.6 L364.6 349.6 L365.7 349.6 L366.8 349.6 L367.8 349.6 L368.9 349.6 L370 349.6 L371.1 349.6 L372.2 349.7 L373.3 349.7 L374.4 349.7 L375.4 349.7 L376.5 349.7 L377.6 349.8 L378.7 349.8 L379.8 349.8 L380.9 349.8 L382 349.8 L383.1 349.8 L384.1 349.9 L385.2 349.9 L386.3 349.9 L387.4 349.9 L388.5 349.9 L389.6 349.9 L390.7 349.9 L391.7 349.8 L392.8 349.8 L393.9 349.8 L395 349.8 L396.1 349.8 L397.2 349.8 L398.3 349.7 L399.4 349.7 L400.4 349.7 L401.5 349.7 L402.6 349.7 L403.7 349.7 L404.8 349.8 L405.9 349.9 L407 350.1 L408 350.2 L409.1 350.3 L410.2 350.4 L411.3 350.5 L412.4 350.6 L413.5 350.7 L414.6 350.8 L415.7 350.9 L416.7 350.9 L417.8 351 L418.9 351 L420 351.1 L421.1 351.1 L422.2 351.2 L423.3 351.2 L424.3 351.2 L425.4 351.1 L426.5 351 L427.6 350.7 L428.7 350.1 L429.8 349.3 L430.9 348.4 L432 347.4 L433 346.3 L434.1 345.1 L435.2 343.9 L436.3 342.7 L437.4 341.4 L438.5 340.1 L439.6 338.9 L440.7 337.7 L441.7 336.6 L442.8 335.6 L443.9 334.8 L445 334 L446.1 333.4 L447.2 333 L448.3 332.5 L449.3 332.2 L450.4 332 L451.5 331.9 L452.6 331.7 L453.7 331.6 L454.8 331.5 L455.9 331.4 L457 331.3 L458 331.2 L459.1 331 L460.2 330.8 L461.3 330.5 L462.4 330.2 L463.5 330 L464.6 329.7 L465.6 329.5 L466.7 329.4 L467.8 329.3 L468.9 329.3 L470 329.2 L471.1 329.2 L472.2 329.2 L473.3 329.2 L474.3 329.2 L475.4 329.2 L476.5 329.2 L477.6 329.2 L478.7 329.2 L479.8 329.2 L480.9 329.2 L481.9 329.2 L483 329.2 L484.1 329.2 L485.2 329.2 L486.3 329.2 L487.4 329.3 L488.5 329.3 L489.6 329.3 L490.6 329.3 L491.7 329.3 L492.8 329.3 L493.9 329.3 L495 329.3 L496.1 329.3 L497.2 329.4 L498.2 329.4 L499.3 329.4 L500.4 329.4 L501.5 329.5 L502.6 329.5 L503.7 329.5 L504.8 329.6 L505.9 329.6 L506.9 329.6 L508 329.7 L509.1 329.7 L510.2 329.7 L511.3 329.8 L512.4 329.8 L513.5 329.8 L514.6 329.9 L515.6 329.9 L516.7 329.9 L517.8 329.9 L518.9 330 L520 330 L521.1 330 L522.2 330 L523.2 330.1 L524.3 330.1 L525.4 330.1 L526.5 330.1 L527.6 330.1 L528.7 330.2 L529.8 330.2 L530.9 330.2 L531.9 330.2 L533 330.3 L534.1 330.3 L535.2 330.3 L536.3 330.3 L537.4 330.4 L538.5 330.4 L539.5 330.4 L540.6 330.4 L541.7 330.4 L542.8 330.5 L543.9 330.5 L545 330.5" fill="none" stroke="#4595d6" stroke-width="1.35" stroke-linejoin="round" clip-path="url(#clipd)" />
<path d="M307 334.9 L308.1 334.9 L309.2 334.9 L310.2 334.8 L311.3 334.8 L312.4 334.8 L313.5 334.8 L314.6 334.8 L315.7 334.8 L316.8 334.8 L317.8 334.8 L318.9 334.7 L320 334.7 L321.1 334.7 L322.2 334.7 L323.3 334.7 L324.4 334.7 L325.5 334.7 L326.5 334.6 L327.6 334.6 L328.7 334.6 L329.8 334.6 L330.9 334.6 L332 334.6 L333.1 334.6 L334.1 334.5 L335.2 334.5 L336.3 334.5 L337.4 334.5 L338.5 334.5 L339.6 334.5 L340.7 334.5 L341.8 334.4 L342.8 334.4 L343.9 334.4 L345 334.4 L346.1 334.4 L347.2 334.4 L348.3 334.3 L349.4 334.3 L350.5 334.3 L351.5 334.3 L352.6 334.3 L353.7 334.3 L354.8 334.2 L355.9 334.2 L357 334.2 L358.1 334.2 L359.1 334.2 L360.2 334.2 L361.3 334.1 L362.4 334.1 L363.5 334.1 L364.6 334.1 L365.7 334.1 L366.8 334 L367.8 334 L368.9 334 L370 334 L371.1 334 L372.2 333.9 L373.3 333.9 L374.4 333.9 L375.4 333.9 L376.5 333.8 L377.6 333.8 L378.7 333.8 L379.8 333.8 L380.9 333.7 L382 333.7 L383.1 333.7 L384.1 333.7 L385.2 333.6 L386.3 333.6 L387.4 333.6 L388.5 333.5 L389.6 333.5 L390.7 333.5 L391.7 333.4 L392.8 333.4 L393.9 333.3 L395 333.3 L396.1 333.3 L397.2 333.2 L398.3 333.2 L399.4 333.1 L400.4 333.1 L401.5 333 L402.6 333 L403.7 332.9 L404.8 332.9 L405.9 332.8 L407 332.8 L408 332.7 L409.1 332.6 L410.2 332.6 L411.3 332.5 L412.4 332.4 L413.5 332.4 L414.6 332.3 L415.7 332.3 L416.7 332.2 L417.8 332.1 L418.9 332 L420 331.9 L421.1 331.7 L422.2 331.4 L423.3 331.2 L424.3 330.9 L425.4 330.5 L426.5 329.9 L427.6 329.1 L428.7 328.1 L429.8 327.2 L430.9 326.4 L432 325.6 L433 324.9 L434.1 324.1 L435.2 323.3 L436.3 322.8 L437.4 322.4 L438.5 322 L439.6 321.8 L440.7 321.6 L441.7 321.4 L442.8 321.2 L443.9 320.8 L445 320.3 L446.1 319.9 L447.2 319.5 L448.3 319.1 L449.3 318.9 L450.4 318.6 L451.5 318.3 L452.6 318.1 L453.7 317.9 L454.8 317.6 L455.9 317.4 L457 317.3 L458 317.2 L459.1 317.1 L460.2 317.2 L461.3 317.4 L462.4 317.6 L463.5 317.8 L464.6 317.9 L465.6 318.1 L466.7 318.3 L467.8 318.4 L468.9 318.4 L470 318.5 L471.1 318.5 L472.2 318.5 L473.3 318.5 L474.3 318.5 L475.4 318.5 L476.5 318.5 L477.6 318.5 L478.7 318.5 L479.8 318.5 L480.9 318.5 L481.9 318.5 L483 318.5 L484.1 318.5 L485.2 318.4 L486.3 318.4 L487.4 318.4 L488.5 318.4 L489.6 318.4 L490.6 318.3 L491.7 318.3 L492.8 318.3 L493.9 318.3 L495 318.3 L496.1 318.2 L497.2 318.2 L498.2 318.2 L499.3 318.2 L500.4 318.2 L501.5 318.2 L502.6 318.2 L503.7 318.2 L504.8 318.2 L505.9 318.2 L506.9 318.2 L508 318.2 L509.1 318.2 L510.2 318.2 L511.3 318.2 L512.4 318.2 L513.5 318.2 L514.6 318.2 L515.6 318.2 L516.7 318.2 L517.8 318.2 L518.9 318.2 L520 318.2 L521.1 318.2 L522.2 318.2 L523.2 318.2 L524.3 318.2 L525.4 318.2 L526.5 318.2 L527.6 318.2 L528.7 318.2 L529.8 318.2 L530.9 318.2 L531.9 318.2 L533 318.2 L534.1 318.2 L535.2 318.2 L536.3 318.2 L537.4 318.2 L538.5 318.2 L539.5 318.2 L540.6 318.2 L541.7 318.2 L542.8 318.2 L543.9 318.2 L545 318.2" fill="none" stroke="#58b658" stroke-width="1.35" stroke-linejoin="round" clip-path="url(#clipd)" />
<path d="M307 292.1 L308.1 292.1 L309.2 292.1 L310.2 292.1 L311.3 292 L312.4 292 L313.5 292 L314.6 292 L315.7 292 L316.8 292 L317.8 292 L318.9 291.9 L320 291.9 L321.1 291.9 L322.2 291.9 L323.3 291.9 L324.4 291.9 L325.5 291.9 L326.5 291.9 L327.6 291.9 L328.7 291.9 L329.8 291.8 L330.9 291.8 L332 291.8 L333.1 291.8 L334.1 291.8 L335.2 291.8 L336.3 291.8 L337.4 291.8 L338.5 291.8 L339.6 291.8 L340.7 291.8 L341.8 291.8 L342.8 291.8 L343.9 291.8 L345 291.8 L346.1 291.8 L347.2 291.8 L348.3 291.8 L349.4 291.8 L350.5 291.8 L351.5 291.8 L352.6 291.8 L353.7 291.8 L354.8 291.8 L355.9 291.8 L357 291.8 L358.1 291.8 L359.1 291.8 L360.2 291.8 L361.3 291.8 L362.4 291.8 L363.5 291.8 L364.6 291.8 L365.7 291.8 L366.8 291.8 L367.8 291.8 L368.9 291.8 L370 291.8 L371.1 291.8 L372.2 291.8 L373.3 291.8 L374.4 291.8 L375.4 291.8 L376.5 291.8 L377.6 291.8 L378.7 291.8 L379.8 291.8 L380.9 291.8 L382 291.8 L383.1 291.8 L384.1 291.8 L385.2 291.8 L386.3 291.8 L387.4 291.8 L388.5 291.8 L389.6 291.8 L390.7 291.8 L391.7 291.8 L392.8 291.8 L393.9 291.8 L395 291.8 L396.1 291.8 L397.2 291.7 L398.3 291.7 L399.4 291.7 L400.4 291.7 L401.5 291.7 L402.6 291.7 L403.7 291.7 L404.8 291.6 L405.9 291.6 L407 291.6 L408 291.6 L409.1 291.6 L410.2 291.5 L411.3 291.5 L412.4 291.5 L413.5 291.4 L414.6 291.4 L415.7 291.3 L416.7 291.3 L417.8 291.2 L418.9 291.1 L420 291 L421.1 290.9 L422.2 290.8 L423.3 290.7 L424.3 290.6 L425.4 290.4 L426.5 290.3 L427.6 290.1 L428.7 290 L429.8 289.8 L430.9 289.6 L432 289.4 L433 289.2 L434.1 289 L435.2 288.8 L436.3 288.7 L437.4 288.5 L438.5 288.3 L439.6 288.2 L440.7 288.3 L441.7 288.7 L442.8 289.2 L443.9 289.6 L445 290.1 L446.1 290.5 L447.2 290.8 L448.3 291 L449.3 291.2 L450.4 291.3 L451.5 291.5 L452.6 291.5 L453.7 291.6 L454.8 291.6 L455.9 291.7 L457 291.7 L458 291.7 L459.1 291.7 L460.2 291.8 L461.3 291.8 L462.4 291.8 L463.5 291.8 L464.6 291.8 L465.6 291.8 L466.7 291.8 L467.8 291.8 L468.9 291.8 L470 291.8 L471.1 291.8 L472.2 291.8 L473.3 291.8 L474.3 291.8 L475.4 291.8 L476.5 291.8 L477.6 291.8 L478.7 291.8 L479.8 291.8 L480.9 291.8 L481.9 291.8 L483 291.8 L484.1 291.8 L485.2 291.8 L486.3 291.8 L487.4 291.8 L488.5 291.8 L489.6 291.8 L490.6 291.8 L491.7 291.8 L492.8 291.8 L493.9 291.8 L495 291.8 L496.1 291.8 L497.2 291.8 L498.2 291.8 L499.3 291.8 L500.4 291.8 L501.5 291.8 L502.6 291.8 L503.7 291.8 L504.8 291.8 L505.9 291.8 L506.9 291.8 L508 291.8 L509.1 291.8 L510.2 291.8 L511.3 291.8 L512.4 291.8 L513.5 291.8 L514.6 291.8 L515.6 291.8 L516.7 291.8 L517.8 291.8 L518.9 291.8 L520 291.8 L521.1 291.8 L522.2 291.8 L523.2 291.8 L524.3 291.8 L525.4 291.8 L526.5 291.8 L527.6 291.8 L528.7 291.8 L529.8 291.8 L530.9 291.8 L531.9 291.8 L533 291.8 L534.1 291.8 L535.2 291.8 L536.3 291.8 L537.4 291.8 L538.5 291.8 L539.5 291.8 L540.6 291.8 L541.7 291.8 L542.8 291.8 L543.9 291.8 L545 291.8" fill="none" stroke="#ef4a3e" stroke-width="1.35" stroke-linejoin="round" clip-path="url(#clipd)" />
<text x="329.3" y="234.9" font-size="7.8" text-anchor="end" fill="#1a1a1a" >M1</text>
<text x="360.1" y="234.9" font-size="7.8" text-anchor="end" fill="#1a1a1a" >M2</text>
<text x="407.1" y="234.9" font-size="7.8" text-anchor="end" fill="#1a1a1a" >M3</text>
<text x="424.7" y="234.9" font-size="7.8" text-anchor="end" fill="#1a1a1a" >M4</text>
<rect x="429.8" y="228.7" width="10.4" height="7.6" fill="#fff"/>
<text x="435" y="234.9" font-size="7.8" text-anchor="middle" fill="#1a1a1a" >TS</text>
<text x="444.3" y="244.6" font-size="7.8" text-anchor="start" fill="#1a1a1a" >M5</text>
<rect x="451.8" y="228.7" width="12.2" height="7.6" fill="#fff"/>
<text x="457.9" y="234.9" font-size="7.8" text-anchor="middle" fill="#1a1a1a" >M6</text>
<rect x="466.3" y="238.4" width="12.2" height="7.6" fill="#fff"/>
<text x="466.9" y="244.6" font-size="7.8" text-anchor="start" fill="#1a1a1a" >M7</text>
<text x="474.8" y="234.9" font-size="7.8" text-anchor="start" fill="#1a1a1a" >M8</text>
<text x="493.6" y="234.9" font-size="7.8" text-anchor="start" fill="#1a1a1a" >M9</text>
<text x="517.6" y="234.9" font-size="7.8" text-anchor="start" fill="#1a1a1a" >M10</text>
<g transform="translate(279.2,140.4)">
<text x="65.3" y="102.1" font-size="6.9" text-anchor="start" fill="#1a1a1a"><tspan dy="0">H</tspan></text>
<text x="74.3" y="111" font-size="6.9" text-anchor="start" fill="#1a1a1a"><tspan dy="0">O</tspan><tspan font-size="4.8" dy="1.6">b</tspan></text>
<text x="90.6" y="111" font-size="6.9" text-anchor="start" fill="#1a1a1a"><tspan dy="0">O</tspan><tspan font-size="4.8" dy="1.6">a</tspan></text>
<text x="101.2" y="101.5" font-size="6.9" text-anchor="start" fill="#1a1a1a"><tspan dy="0">C</tspan><tspan font-size="4.8" dy="1.6">a</tspan><tspan dy="-1.6">H</tspan><tspan font-size="4.8" dy="1.6">3</tspan></text>
<text x="47" y="132.1" font-size="6.9" text-anchor="start" fill="#1a1a1a"><tspan dy="0">H</tspan><tspan font-size="4.8" dy="1.6">2</tspan><tspan dy="-1.6">C</tspan><tspan font-size="4.8" dy="1.6">c</tspan></text>
<text x="74.3" y="132.1" font-size="6.9" text-anchor="start" fill="#1a1a1a"><tspan dy="0">C</tspan><tspan font-size="4.8" dy="1.6">b</tspan><tspan dy="-1.6">H</tspan></text>
<text x="86.5" y="144.7" font-size="6.9" text-anchor="start" fill="#1a1a1a"><tspan dy="0">C</tspan><tspan font-size="4.8" dy="1.6">d</tspan><tspan dy="-1.6">H</tspan><tspan font-size="4.8" dy="1.6">3</tspan></text>
<line x1="70.4" y1="102.3" x2="74.9" y2="106.7" stroke="#1a1a1a" stroke-width="0.8" />
<line x1="84.2" y1="108.3" x2="89.3" y2="108.3" stroke="#1a1a1a" stroke-width="0.8" />
<line x1="95.8" y1="106" x2="101.2" y2="101" stroke="#1a1a1a" stroke-width="0.8" />
<line x1="74.9" y1="110.9" x2="59" y2="124.8" stroke="#222" stroke-width="0.9" stroke-dasharray="0.9 0.8"/>
<line x1="77.4" y1="113" x2="77.4" y2="126.3" stroke="#1a1a1a" stroke-width="1.6" stroke-dasharray="0.7 0.8"/>
<line x1="63.6" y1="128.4" x2="74" y2="128.4" stroke="#1a1a1a" stroke-width="0.8" />
<line x1="63.6" y1="130.8" x2="74" y2="130.8" stroke="#1a1a1a" stroke-width="0.8" />
<line x1="81.8" y1="132.6" x2="87.3" y2="138.7" stroke="#1a1a1a" stroke-width="0.8" />
</g>
<g transform="translate(274.3,147.7)">
<text x="229.4" y="96.2" font-size="6.9" text-anchor="start" fill="#1a1a1a"><tspan dy="0">H</tspan><tspan font-size="4.8" dy="1.6">3</tspan><tspan dy="-1.6">C</tspan><tspan font-size="4.8" dy="1.6">a</tspan></text>
<text x="249.2" y="104.4" font-size="6.9" text-anchor="start" fill="#1a1a1a"><tspan dy="0">O</tspan><tspan font-size="4.8" dy="1.6">a</tspan></text>
<text x="242.2" y="115" font-size="6.9" text-anchor="start" fill="#1a1a1a"><tspan dy="0">H</tspan></text>
<text x="221.6" y="115.2" font-size="6.9" text-anchor="start" fill="#1a1a1a"><tspan dy="0">O</tspan><tspan font-size="4.8" dy="1.6">b</tspan></text>
<text x="203.9" y="130" font-size="6.9" text-anchor="start" fill="#1a1a1a"><tspan dy="0">H</tspan><tspan font-size="4.8" dy="1.6">2</tspan><tspan dy="-1.6">C</tspan><tspan font-size="4.8" dy="1.6">c</tspan></text>
<text x="230.8" y="130" font-size="6.9" text-anchor="start" fill="#1a1a1a"><tspan dy="0">C</tspan><tspan font-size="4.8" dy="1.6">b</tspan><tspan dy="-1.6">H</tspan></text>
<text x="243" y="141.9" font-size="6.9" text-anchor="start" fill="#1a1a1a"><tspan dy="0">C</tspan><tspan font-size="4.8" dy="1.6">d</tspan><tspan dy="-1.6">H</tspan><tspan font-size="4.8" dy="1.6">3</tspan></text>
<line x1="244.6" y1="96" x2="249.6" y2="99.5" stroke="#1a1a1a" stroke-width="0.8" />
<line x1="250.1" y1="104.8" x2="246.9" y2="109.6" stroke="#1a1a1a" stroke-width="0.8" />
<line x1="230.4" y1="112.5" x2="241.8" y2="112.5" stroke="#1a1a1a" stroke-width="1.5" stroke-dasharray="0.7 0.8"/>
<line x1="222.2" y1="115.6" x2="213.8" y2="124.6" stroke="#1a1a1a" stroke-width="0.8" />
<line x1="227.8" y1="117" x2="232" y2="124.6" stroke="#1a1a1a" stroke-width="0.8" />
<line x1="220.6" y1="127.4" x2="230" y2="127.4" stroke="#1a1a1a" stroke-width="0.8" />
<line x1="236.8" y1="130.9" x2="243.1" y2="137.2" stroke="#1a1a1a" stroke-width="0.8" />
</g>
<text x="321" y="383.3" font-size="7.8" text-anchor="middle" fill="#2b8dd6" font-weight="bold" class="ph">1</text>
<text x="345.5" y="383.3" font-size="7.8" text-anchor="middle" fill="#2b8dd6" font-weight="bold" class="ph">2</text>
<text x="387.9" y="383.3" font-size="7.8" text-anchor="middle" fill="#2b8dd6" font-weight="bold" class="ph">3</text>
<text x="416.2" y="383.3" font-size="7.8" text-anchor="middle" fill="#2b8dd6" font-weight="bold" class="ph">4</text>
<text x="432.2" y="383.3" font-size="7.8" text-anchor="middle" fill="#2b8dd6" font-weight="bold" class="ph">5</text>
<text x="449.5" y="383.3" font-size="7.8" text-anchor="middle" fill="#2b8dd6" font-weight="bold" class="ph">6</text>
<text x="462.6" y="383.3" font-size="7.8" text-anchor="middle" fill="#2b8dd6" font-weight="bold" class="ph">7</text>
<text x="470" y="383.3" font-size="7.8" text-anchor="middle" fill="#2b8dd6" font-weight="bold" class="ph">8</text>
<text x="482.6" y="383.3" font-size="7.8" text-anchor="middle" fill="#2b8dd6" font-weight="bold" class="ph">9</text>
<text x="505.7" y="383.3" font-size="7.8" text-anchor="middle" fill="#2b8dd6" font-weight="bold" class="ph">10</text>
<text x="528.1" y="383.3" font-size="7.8" text-anchor="middle" fill="#2b8dd6" font-weight="bold" class="ph">11</text>
<line x1="311.7" y1="388" x2="311.7" y2="389.2" stroke="#1a1a1a" stroke-width="0.8" />
<line x1="311.7" y1="225.3" x2="311.7" y2="226.5" stroke="#1a1a1a" stroke-width="0.8" />
<line x1="316.5" y1="388" x2="316.5" y2="390.2" stroke="#1a1a1a" stroke-width="0.8" />
<line x1="316.5" y1="225.3" x2="316.5" y2="227.5" stroke="#1a1a1a" stroke-width="0.8" />
<text x="316.3" y="398" font-size="7.8" text-anchor="middle" fill="#1a1a1a" >−25</text>
<line x1="321.3" y1="388" x2="321.3" y2="389.2" stroke="#1a1a1a" stroke-width="0.8" />
<line x1="321.3" y1="225.3" x2="321.3" y2="226.5" stroke="#1a1a1a" stroke-width="0.8" />
<line x1="326" y1="388" x2="326" y2="389.2" stroke="#1a1a1a" stroke-width="0.8" />
<line x1="326" y1="225.3" x2="326" y2="226.5" stroke="#1a1a1a" stroke-width="0.8" />
<line x1="330.8" y1="388" x2="330.8" y2="389.2" stroke="#1a1a1a" stroke-width="0.8" />
<line x1="330.8" y1="225.3" x2="330.8" y2="226.5" stroke="#1a1a1a" stroke-width="0.8" />
<line x1="335.5" y1="388" x2="335.5" y2="389.2" stroke="#1a1a1a" stroke-width="0.8" />
<line x1="335.5" y1="225.3" x2="335.5" y2="226.5" stroke="#1a1a1a" stroke-width="0.8" />
<line x1="340.3" y1="388" x2="340.3" y2="390.2" stroke="#1a1a1a" stroke-width="0.8" />
<line x1="340.3" y1="225.3" x2="340.3" y2="227.5" stroke="#1a1a1a" stroke-width="0.8" />
<text x="340.1" y="398" font-size="7.8" text-anchor="middle" fill="#1a1a1a" >−20</text>
<line x1="345.1" y1="388" x2="345.1" y2="389.2" stroke="#1a1a1a" stroke-width="0.8" />
<line x1="345.1" y1="225.3" x2="345.1" y2="226.5" stroke="#1a1a1a" stroke-width="0.8" />
<line x1="349.8" y1="388" x2="349.8" y2="389.2" stroke="#1a1a1a" stroke-width="0.8" />
<line x1="349.8" y1="225.3" x2="349.8" y2="226.5" stroke="#1a1a1a" stroke-width="0.8" />
<line x1="354.6" y1="388" x2="354.6" y2="389.2" stroke="#1a1a1a" stroke-width="0.8" />
<line x1="354.6" y1="225.3" x2="354.6" y2="226.5" stroke="#1a1a1a" stroke-width="0.8" />
<line x1="359.3" y1="388" x2="359.3" y2="389.2" stroke="#1a1a1a" stroke-width="0.8" />
<line x1="359.3" y1="225.3" x2="359.3" y2="226.5" stroke="#1a1a1a" stroke-width="0.8" />
<line x1="364.1" y1="388" x2="364.1" y2="390.2" stroke="#1a1a1a" stroke-width="0.8" />
<line x1="364.1" y1="225.3" x2="364.1" y2="227.5" stroke="#1a1a1a" stroke-width="0.8" />
<text x="363.9" y="398" font-size="7.8" text-anchor="middle" fill="#1a1a1a" >−15</text>
<line x1="368.9" y1="388" x2="368.9" y2="389.2" stroke="#1a1a1a" stroke-width="0.8" />
<line x1="368.9" y1="225.3" x2="368.9" y2="226.5" stroke="#1a1a1a" stroke-width="0.8" />
<line x1="373.6" y1="388" x2="373.6" y2="389.2" stroke="#1a1a1a" stroke-width="0.8" />
<line x1="373.6" y1="225.3" x2="373.6" y2="226.5" stroke="#1a1a1a" stroke-width="0.8" />
<line x1="378.4" y1="388" x2="378.4" y2="389.2" stroke="#1a1a1a" stroke-width="0.8" />
<line x1="378.4" y1="225.3" x2="378.4" y2="226.5" stroke="#1a1a1a" stroke-width="0.8" />
<line x1="383.1" y1="388" x2="383.1" y2="389.2" stroke="#1a1a1a" stroke-width="0.8" />
<line x1="383.1" y1="225.3" x2="383.1" y2="226.5" stroke="#1a1a1a" stroke-width="0.8" />
<line x1="387.9" y1="388" x2="387.9" y2="390.2" stroke="#1a1a1a" stroke-width="0.8" />
<line x1="387.9" y1="225.3" x2="387.9" y2="227.5" stroke="#1a1a1a" stroke-width="0.8" />
<text x="387.7" y="398" font-size="7.8" text-anchor="middle" fill="#1a1a1a" >−10</text>
<line x1="392.7" y1="388" x2="392.7" y2="389.2" stroke="#1a1a1a" stroke-width="0.8" />
<line x1="392.7" y1="225.3" x2="392.7" y2="226.5" stroke="#1a1a1a" stroke-width="0.8" />
<line x1="397.4" y1="388" x2="397.4" y2="389.2" stroke="#1a1a1a" stroke-width="0.8" />
<line x1="397.4" y1="225.3" x2="397.4" y2="226.5" stroke="#1a1a1a" stroke-width="0.8" />
<line x1="402.2" y1="388" x2="402.2" y2="389.2" stroke="#1a1a1a" stroke-width="0.8" />
<line x1="402.2" y1="225.3" x2="402.2" y2="226.5" stroke="#1a1a1a" stroke-width="0.8" />
<line x1="406.9" y1="388" x2="406.9" y2="389.2" stroke="#1a1a1a" stroke-width="0.8" />
<line x1="406.9" y1="225.3" x2="406.9" y2="226.5" stroke="#1a1a1a" stroke-width="0.8" />
<line x1="411.7" y1="388" x2="411.7" y2="390.2" stroke="#1a1a1a" stroke-width="0.8" />
<line x1="411.7" y1="225.3" x2="411.7" y2="227.5" stroke="#1a1a1a" stroke-width="0.8" />
<text x="411.5" y="398" font-size="7.8" text-anchor="middle" fill="#1a1a1a" >−5</text>
<line x1="416.5" y1="388" x2="416.5" y2="389.2" stroke="#1a1a1a" stroke-width="0.8" />
<line x1="416.5" y1="225.3" x2="416.5" y2="226.5" stroke="#1a1a1a" stroke-width="0.8" />
<line x1="421.2" y1="388" x2="421.2" y2="389.2" stroke="#1a1a1a" stroke-width="0.8" />
<line x1="421.2" y1="225.3" x2="421.2" y2="226.5" stroke="#1a1a1a" stroke-width="0.8" />
<line x1="426" y1="388" x2="426" y2="389.2" stroke="#1a1a1a" stroke-width="0.8" />
<line x1="426" y1="225.3" x2="426" y2="226.5" stroke="#1a1a1a" stroke-width="0.8" />
<line x1="430.7" y1="388" x2="430.7" y2="389.2" stroke="#1a1a1a" stroke-width="0.8" />
<line x1="430.7" y1="225.3" x2="430.7" y2="226.5" stroke="#1a1a1a" stroke-width="0.8" />
<line x1="435.5" y1="388" x2="435.5" y2="390.2" stroke="#1a1a1a" stroke-width="0.8" />
<line x1="435.5" y1="225.3" x2="435.5" y2="227.5" stroke="#1a1a1a" stroke-width="0.8" />
<text x="435.5" y="398" font-size="7.8" text-anchor="middle" fill="#1a1a1a" >0</text>
<line x1="440.3" y1="388" x2="440.3" y2="389.2" stroke="#1a1a1a" stroke-width="0.8" />
<line x1="440.3" y1="225.3" x2="440.3" y2="226.5" stroke="#1a1a1a" stroke-width="0.8" />
<line x1="445" y1="388" x2="445" y2="389.2" stroke="#1a1a1a" stroke-width="0.8" />
<line x1="445" y1="225.3" x2="445" y2="226.5" stroke="#1a1a1a" stroke-width="0.8" />
<line x1="449.8" y1="388" x2="449.8" y2="389.2" stroke="#1a1a1a" stroke-width="0.8" />
<line x1="449.8" y1="225.3" x2="449.8" y2="226.5" stroke="#1a1a1a" stroke-width="0.8" />
<line x1="454.5" y1="388" x2="454.5" y2="389.2" stroke="#1a1a1a" stroke-width="0.8" />
<line x1="454.5" y1="225.3" x2="454.5" y2="226.5" stroke="#1a1a1a" stroke-width="0.8" />
<line x1="459.3" y1="388" x2="459.3" y2="390.2" stroke="#1a1a1a" stroke-width="0.8" />
<line x1="459.3" y1="225.3" x2="459.3" y2="227.5" stroke="#1a1a1a" stroke-width="0.8" />
<text x="459.3" y="398" font-size="7.8" text-anchor="middle" fill="#1a1a1a" >5</text>
<line x1="464.1" y1="388" x2="464.1" y2="389.2" stroke="#1a1a1a" stroke-width="0.8" />
<line x1="464.1" y1="225.3" x2="464.1" y2="226.5" stroke="#1a1a1a" stroke-width="0.8" />
<line x1="468.8" y1="388" x2="468.8" y2="389.2" stroke="#1a1a1a" stroke-width="0.8" />
<line x1="468.8" y1="225.3" x2="468.8" y2="226.5" stroke="#1a1a1a" stroke-width="0.8" />
<line x1="473.6" y1="388" x2="473.6" y2="389.2" stroke="#1a1a1a" stroke-width="0.8" />
<line x1="473.6" y1="225.3" x2="473.6" y2="226.5" stroke="#1a1a1a" stroke-width="0.8" />
<line x1="478.3" y1="388" x2="478.3" y2="389.2" stroke="#1a1a1a" stroke-width="0.8" />
<line x1="478.3" y1="225.3" x2="478.3" y2="226.5" stroke="#1a1a1a" stroke-width="0.8" />
<line x1="483.1" y1="388" x2="483.1" y2="390.2" stroke="#1a1a1a" stroke-width="0.8" />
<line x1="483.1" y1="225.3" x2="483.1" y2="227.5" stroke="#1a1a1a" stroke-width="0.8" />
<text x="483.1" y="398" font-size="7.8" text-anchor="middle" fill="#1a1a1a" >10</text>
<line x1="487.9" y1="388" x2="487.9" y2="389.2" stroke="#1a1a1a" stroke-width="0.8" />
<line x1="487.9" y1="225.3" x2="487.9" y2="226.5" stroke="#1a1a1a" stroke-width="0.8" />
<line x1="492.6" y1="388" x2="492.6" y2="389.2" stroke="#1a1a1a" stroke-width="0.8" />
<line x1="492.6" y1="225.3" x2="492.6" y2="226.5" stroke="#1a1a1a" stroke-width="0.8" />
<line x1="497.4" y1="388" x2="497.4" y2="389.2" stroke="#1a1a1a" stroke-width="0.8" />
<line x1="497.4" y1="225.3" x2="497.4" y2="226.5" stroke="#1a1a1a" stroke-width="0.8" />
<line x1="502.1" y1="388" x2="502.1" y2="389.2" stroke="#1a1a1a" stroke-width="0.8" />
<line x1="502.1" y1="225.3" x2="502.1" y2="226.5" stroke="#1a1a1a" stroke-width="0.8" />
<line x1="506.9" y1="388" x2="506.9" y2="390.2" stroke="#1a1a1a" stroke-width="0.8" />
<line x1="506.9" y1="225.3" x2="506.9" y2="227.5" stroke="#1a1a1a" stroke-width="0.8" />
<text x="506.9" y="398" font-size="7.8" text-anchor="middle" fill="#1a1a1a" >15</text>
<line x1="511.7" y1="388" x2="511.7" y2="389.2" stroke="#1a1a1a" stroke-width="0.8" />
<line x1="511.7" y1="225.3" x2="511.7" y2="226.5" stroke="#1a1a1a" stroke-width="0.8" />
<line x1="516.4" y1="388" x2="516.4" y2="389.2" stroke="#1a1a1a" stroke-width="0.8" />
<line x1="516.4" y1="225.3" x2="516.4" y2="226.5" stroke="#1a1a1a" stroke-width="0.8" />
<line x1="521.2" y1="388" x2="521.2" y2="389.2" stroke="#1a1a1a" stroke-width="0.8" />
<line x1="521.2" y1="225.3" x2="521.2" y2="226.5" stroke="#1a1a1a" stroke-width="0.8" />
<line x1="525.9" y1="388" x2="525.9" y2="389.2" stroke="#1a1a1a" stroke-width="0.8" />
<line x1="525.9" y1="225.3" x2="525.9" y2="226.5" stroke="#1a1a1a" stroke-width="0.8" />
<line x1="530.7" y1="388" x2="530.7" y2="390.2" stroke="#1a1a1a" stroke-width="0.8" />
<line x1="530.7" y1="225.3" x2="530.7" y2="227.5" stroke="#1a1a1a" stroke-width="0.8" />
<text x="530.7" y="398" font-size="7.8" text-anchor="middle" fill="#1a1a1a" >20</text>
<line x1="535.5" y1="388" x2="535.5" y2="389.2" stroke="#1a1a1a" stroke-width="0.8" />
<line x1="535.5" y1="225.3" x2="535.5" y2="226.5" stroke="#1a1a1a" stroke-width="0.8" />
<line x1="540.2" y1="388" x2="540.2" y2="389.2" stroke="#1a1a1a" stroke-width="0.8" />
<line x1="540.2" y1="225.3" x2="540.2" y2="226.5" stroke="#1a1a1a" stroke-width="0.8" />
<line x1="311.8" y1="387.2" x2="310.3" y2="387.2" stroke="#1a1a1a" stroke-width="0.8" />
<line x1="544.7" y1="387.2" x2="543.3" y2="387.2" stroke="#1a1a1a" stroke-width="0.8" />
<line x1="311.8" y1="381.2" x2="310.3" y2="381.2" stroke="#1a1a1a" stroke-width="0.8" />
<line x1="544.7" y1="381.2" x2="543.3" y2="381.2" stroke="#1a1a1a" stroke-width="0.8" />
<line x1="311.8" y1="375.2" x2="310.3" y2="375.2" stroke="#1a1a1a" stroke-width="0.8" />
<line x1="544.7" y1="375.2" x2="543.3" y2="375.2" stroke="#1a1a1a" stroke-width="0.8" />
<line x1="311.8" y1="369.2" x2="310.3" y2="369.2" stroke="#1a1a1a" stroke-width="0.8" />
<line x1="544.7" y1="369.2" x2="543.3" y2="369.2" stroke="#1a1a1a" stroke-width="0.8" />
<line x1="311.8" y1="363.2" x2="310.3" y2="363.2" stroke="#1a1a1a" stroke-width="0.8" />
<line x1="544.7" y1="363.2" x2="543.3" y2="363.2" stroke="#1a1a1a" stroke-width="0.8" />
<line x1="311.8" y1="357.2" x2="310.3" y2="357.2" stroke="#1a1a1a" stroke-width="0.8" />
<line x1="544.7" y1="357.2" x2="543.3" y2="357.2" stroke="#1a1a1a" stroke-width="0.8" />
<line x1="311.8" y1="351.2" x2="310.3" y2="351.2" stroke="#1a1a1a" stroke-width="0.8" />
<line x1="544.7" y1="351.2" x2="543.3" y2="351.2" stroke="#1a1a1a" stroke-width="0.8" />
<line x1="311.8" y1="345.2" x2="310.3" y2="345.2" stroke="#1a1a1a" stroke-width="0.8" />
<line x1="544.7" y1="345.2" x2="543.3" y2="345.2" stroke="#1a1a1a" stroke-width="0.8" />
<line x1="311.8" y1="339.2" x2="310.3" y2="339.2" stroke="#1a1a1a" stroke-width="0.8" />
<line x1="544.7" y1="339.2" x2="543.3" y2="339.2" stroke="#1a1a1a" stroke-width="0.8" />
<line x1="311.8" y1="333.2" x2="310.3" y2="333.2" stroke="#1a1a1a" stroke-width="0.8" />
<line x1="544.7" y1="333.2" x2="543.3" y2="333.2" stroke="#1a1a1a" stroke-width="0.8" />
<line x1="311.8" y1="327.2" x2="310.3" y2="327.2" stroke="#1a1a1a" stroke-width="0.8" />
<line x1="544.7" y1="327.2" x2="543.3" y2="327.2" stroke="#1a1a1a" stroke-width="0.8" />
<line x1="311.8" y1="321.2" x2="310.3" y2="321.2" stroke="#1a1a1a" stroke-width="0.8" />
<line x1="544.7" y1="321.2" x2="543.3" y2="321.2" stroke="#1a1a1a" stroke-width="0.8" />
<line x1="311.8" y1="315.2" x2="310.3" y2="315.2" stroke="#1a1a1a" stroke-width="0.8" />
<line x1="544.7" y1="315.2" x2="543.3" y2="315.2" stroke="#1a1a1a" stroke-width="0.8" />
<line x1="311.8" y1="309.2" x2="310.3" y2="309.2" stroke="#1a1a1a" stroke-width="0.8" />
<line x1="544.7" y1="309.2" x2="543.3" y2="309.2" stroke="#1a1a1a" stroke-width="0.8" />
<line x1="311.8" y1="303.2" x2="310.3" y2="303.2" stroke="#1a1a1a" stroke-width="0.8" />
<line x1="544.7" y1="303.2" x2="543.3" y2="303.2" stroke="#1a1a1a" stroke-width="0.8" />
<line x1="311.8" y1="297.2" x2="310.3" y2="297.2" stroke="#1a1a1a" stroke-width="0.8" />
<line x1="544.7" y1="297.2" x2="543.3" y2="297.2" stroke="#1a1a1a" stroke-width="0.8" />
<line x1="311.8" y1="291.2" x2="310.3" y2="291.2" stroke="#1a1a1a" stroke-width="0.8" />
<line x1="544.7" y1="291.2" x2="543.3" y2="291.2" stroke="#1a1a1a" stroke-width="0.8" />
<line x1="311.8" y1="285.2" x2="310.3" y2="285.2" stroke="#1a1a1a" stroke-width="0.8" />
<line x1="544.7" y1="285.2" x2="543.3" y2="285.2" stroke="#1a1a1a" stroke-width="0.8" />
<line x1="311.8" y1="279.2" x2="310.3" y2="279.2" stroke="#1a1a1a" stroke-width="0.8" />
<line x1="544.7" y1="279.2" x2="543.3" y2="279.2" stroke="#1a1a1a" stroke-width="0.8" />
<line x1="311.8" y1="273.2" x2="310.3" y2="273.2" stroke="#1a1a1a" stroke-width="0.8" />
<line x1="544.7" y1="273.2" x2="543.3" y2="273.2" stroke="#1a1a1a" stroke-width="0.8" />
<line x1="311.8" y1="267.2" x2="310.3" y2="267.2" stroke="#1a1a1a" stroke-width="0.8" />
<line x1="544.7" y1="267.2" x2="543.3" y2="267.2" stroke="#1a1a1a" stroke-width="0.8" />
<line x1="311.8" y1="261.2" x2="310.3" y2="261.2" stroke="#1a1a1a" stroke-width="0.8" />
<line x1="544.7" y1="261.2" x2="543.3" y2="261.2" stroke="#1a1a1a" stroke-width="0.8" />
<line x1="311.8" y1="255.2" x2="310.3" y2="255.2" stroke="#1a1a1a" stroke-width="0.8" />
<line x1="544.7" y1="255.2" x2="543.3" y2="255.2" stroke="#1a1a1a" stroke-width="0.8" />
<line x1="311.8" y1="249.2" x2="310.3" y2="249.2" stroke="#1a1a1a" stroke-width="0.8" />
<line x1="544.7" y1="249.2" x2="543.3" y2="249.2" stroke="#1a1a1a" stroke-width="0.8" />
<line x1="311.8" y1="243.2" x2="310.3" y2="243.2" stroke="#1a1a1a" stroke-width="0.8" />
<line x1="544.7" y1="243.2" x2="543.3" y2="243.2" stroke="#1a1a1a" stroke-width="0.8" />
<line x1="311.8" y1="237.2" x2="310.3" y2="237.2" stroke="#1a1a1a" stroke-width="0.8" />
<line x1="544.7" y1="237.2" x2="543.3" y2="237.2" stroke="#1a1a1a" stroke-width="0.8" />
<line x1="311.8" y1="231.2" x2="310.3" y2="231.2" stroke="#1a1a1a" stroke-width="0.8" />
<line x1="544.7" y1="231.2" x2="543.3" y2="231.2" stroke="#1a1a1a" stroke-width="0.8" />
<line x1="311.8" y1="381.2" x2="309" y2="381.2" stroke="#1a1a1a" stroke-width="0.9" />
<line x1="544.7" y1="381.2" x2="542.1" y2="381.2" stroke="#1a1a1a" stroke-width="0.9" />
<text x="307.3" y="383.9" font-size="7.8" text-anchor="end" fill="#1a1a1a" >−1.0</text>
<line x1="311.8" y1="351.2" x2="309" y2="351.2" stroke="#1a1a1a" stroke-width="0.9" />
<line x1="544.7" y1="351.2" x2="542.1" y2="351.2" stroke="#1a1a1a" stroke-width="0.9" />
<text x="307.3" y="353.9" font-size="7.8" text-anchor="end" fill="#1a1a1a" >−0.5</text>
<line x1="311.8" y1="321.2" x2="309" y2="321.2" stroke="#1a1a1a" stroke-width="0.9" />
<line x1="544.7" y1="321.2" x2="542.1" y2="321.2" stroke="#1a1a1a" stroke-width="0.9" />
<text x="307.3" y="323.9" font-size="7.8" text-anchor="end" fill="#1a1a1a" >0</text>
<line x1="311.8" y1="291.2" x2="309" y2="291.2" stroke="#1a1a1a" stroke-width="0.9" />
<line x1="544.7" y1="291.2" x2="542.1" y2="291.2" stroke="#1a1a1a" stroke-width="0.9" />
<text x="307.3" y="293.9" font-size="7.8" text-anchor="end" fill="#1a1a1a" >0.5</text>
<line x1="311.8" y1="261.2" x2="309" y2="261.2" stroke="#1a1a1a" stroke-width="0.9" />
<line x1="544.7" y1="261.2" x2="542.1" y2="261.2" stroke="#1a1a1a" stroke-width="0.9" />
<text x="307.3" y="263.9" font-size="7.8" text-anchor="end" fill="#1a1a1a" >1.0</text>
<line x1="311.8" y1="231.2" x2="309" y2="231.2" stroke="#1a1a1a" stroke-width="0.9" />
<line x1="544.7" y1="231.2" x2="542.1" y2="231.2" stroke="#1a1a1a" stroke-width="0.9" />
<text x="307.3" y="233.9" font-size="7.8" text-anchor="end" fill="#1a1a1a" >1.5</text>
<rect x="311.8" y="225.3" width="232.9" height="162.7" fill="none" stroke="#111" stroke-width="1.3"/>
<text x="428.2" y="409.9" font-size="7.8" text-anchor="middle" fill="#1a1a1a">Reaction parameter <tspan font-style="italic">s</tspan> (amu<tspan font-size="5.4" dy="-3">1/2</tspan><tspan dy="3"> Bohr)</tspan></text>
<text transform="translate(290,306.6) rotate(-90)" font-size="7.8" text-anchor="middle" fill="#1a1a1a">NBO charge (au)</text>
<text x="425.9" y="424.4" font-size="13.5" text-anchor="middle" fill="#1a1a1a" >d)</text>
<text x="385" y="301" font-size="7.8" text-anchor="start" fill="#1a1a1a"><tspan dy="0">H</tspan></text>
<line x1="392.7" y1="297.6" x2="396.8" y2="294" stroke="#1a1a1a" stroke-width="0.9" />
<polygon points="398.6,292.4 397.2,295.4 395.5,293.4" fill="#111"/>
<text x="381" y="330.6" font-size="7.8" text-anchor="start" fill="#1a1a1a"><tspan dy="0">C</tspan><tspan font-size="5.6" dy="1.6">b</tspan></text>
<line x1="391.6" y1="329" x2="396.8" y2="332.1" stroke="#1a1a1a" stroke-width="0.9" />
<polygon points="398.8,333.4 395.5,333 396.9,330.7" fill="#111"/>
<text x="375.2" y="361.8" font-size="7.8" text-anchor="start" fill="#1a1a1a"><tspan dy="0">C</tspan><tspan font-size="5.6" dy="1.6">d</tspan></text>
<line x1="386" y1="360.6" x2="390.8" y2="363.1" stroke="#1a1a1a" stroke-width="0.9" />
<polygon points="392.9,364.2 389.6,364 390.9,361.6" fill="#111"/>
<text x="503.6" y="337.5" font-size="7.8" text-anchor="start" fill="#1a1a1a"><tspan dy="0">C</tspan><tspan font-size="5.6" dy="1.6">c</tspan></text>
<line x1="502" y1="333.6" x2="496.8" y2="331" stroke="#1a1a1a" stroke-width="0.9" />
<polygon points="494.6,330 497.9,330.1 496.7,332.5" fill="#111"/>
<text x="476.6" y="350.4" font-size="7.8" text-anchor="start" fill="#1a1a1a"><tspan dy="0">C</tspan><tspan font-size="5.6" dy="1.6">a</tspan></text>
<line x1="481.5" y1="344" x2="482.3" y2="342.2" stroke="#1a1a1a" stroke-width="0.9" />
<polygon points="483.2,340 483.3,343.3 480.8,342.2" fill="#111"/>
<text x="502.2" y="349.5" font-size="7.8" text-anchor="start" fill="#1a1a1a"><tspan dy="0">O</tspan><tspan font-size="5.6" dy="1.6">b</tspan></text>
<line x1="507.4" y1="351" x2="505.7" y2="353.5" stroke="#1a1a1a" stroke-width="0.9" />
<polygon points="504.4,355.5 504.9,352.3 507.2,353.8" fill="#111"/>
<text x="525.9" y="362.2" font-size="7.8" text-anchor="start" fill="#1a1a1a"><tspan dy="0">O</tspan><tspan font-size="5.6" dy="1.6">a</tspan></text>
<line x1="530.6" y1="363.5" x2="529.3" y2="365.9" stroke="#1a1a1a" stroke-width="0.9" />
<polygon points="528.1,368 528.4,364.7 530.7,366" fill="#111"/>
</svg>
</body></html>
